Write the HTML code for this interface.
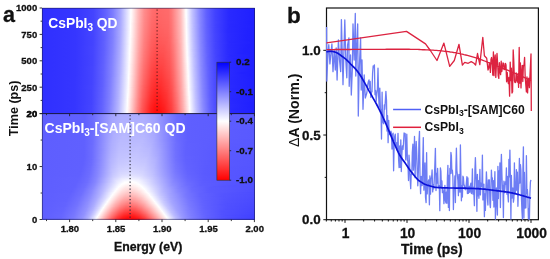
<!DOCTYPE html>
<html><head><meta charset="utf-8"><style>
html,body{margin:0;padding:0;background:#fff;width:550px;height:259px;overflow:hidden}
svg{display:block;filter:blur(0.35px)}
text{font-family:"Liberation Sans",sans-serif}
</style></head><body>
<svg width="550" height="259" viewBox="0 0 550 259">
<defs><linearGradient id="g1" x1="0" x2="1" y1="0" y2="0"><stop offset="0.0%" stop-color="#2f2fff"/><stop offset="15.8%" stop-color="#3535ff"/><stop offset="24.2%" stop-color="#4444ff"/><stop offset="29.6%" stop-color="#6060ff"/><stop offset="33.4%" stop-color="#7e7eff"/><stop offset="36.9%" stop-color="#a8a8ff"/><stop offset="41.9%" stop-color="#fffefe"/><stop offset="45.2%" stop-color="#ffbaba"/><stop offset="48.0%" stop-color="#ff8d8d"/><stop offset="51.8%" stop-color="#ff6d6d"/><stop offset="54.1%" stop-color="#ff6666"/><stop offset="59.5%" stop-color="#ff6b6b"/><stop offset="60.9%" stop-color="#ff7a7a"/><stop offset="65.2%" stop-color="#ffbcbc"/><stop offset="66.6%" stop-color="#ffe1e1"/><stop offset="67.5%" stop-color="#fffcfc"/><stop offset="67.8%" stop-color="#fdfdff"/><stop offset="70.6%" stop-color="#c2c2ff"/><stop offset="73.9%" stop-color="#8b8bff"/><stop offset="77.2%" stop-color="#6161ff"/><stop offset="81.4%" stop-color="#4242ff"/><stop offset="87.8%" stop-color="#2929ff"/><stop offset="99.1%" stop-color="#2020ff"/><stop offset="100.0%" stop-color="#2020ff"/></linearGradient><linearGradient id="g2" x1="0" x2="1" y1="0" y2="0"><stop offset="0.0%" stop-color="#2f2fff"/><stop offset="15.8%" stop-color="#3535ff"/><stop offset="24.2%" stop-color="#4444ff"/><stop offset="29.6%" stop-color="#6060ff"/><stop offset="33.4%" stop-color="#7e7eff"/><stop offset="36.9%" stop-color="#a8a8ff"/><stop offset="41.6%" stop-color="#fcfcff"/><stop offset="41.9%" stop-color="#fffefe"/><stop offset="45.2%" stop-color="#ffbaba"/><stop offset="48.0%" stop-color="#ff8d8d"/><stop offset="51.8%" stop-color="#ff6d6d"/><stop offset="54.1%" stop-color="#ff6666"/><stop offset="59.5%" stop-color="#ff6b6b"/><stop offset="60.9%" stop-color="#ff7979"/><stop offset="65.2%" stop-color="#ffbcbc"/><stop offset="66.6%" stop-color="#ffe1e1"/><stop offset="67.5%" stop-color="#fffbfb"/><stop offset="67.8%" stop-color="#fdfdff"/><stop offset="70.6%" stop-color="#c2c2ff"/><stop offset="73.9%" stop-color="#8b8bff"/><stop offset="77.2%" stop-color="#6161ff"/><stop offset="81.4%" stop-color="#4242ff"/><stop offset="87.8%" stop-color="#2929ff"/><stop offset="99.1%" stop-color="#2020ff"/><stop offset="100.0%" stop-color="#2020ff"/></linearGradient><linearGradient id="g3" x1="0" x2="1" y1="0" y2="0"><stop offset="0.0%" stop-color="#2f2fff"/><stop offset="15.8%" stop-color="#3636ff"/><stop offset="24.2%" stop-color="#4444ff"/><stop offset="29.6%" stop-color="#6060ff"/><stop offset="33.4%" stop-color="#7e7eff"/><stop offset="36.9%" stop-color="#a8a8ff"/><stop offset="41.6%" stop-color="#fcfcff"/><stop offset="41.9%" stop-color="#fffefe"/><stop offset="45.2%" stop-color="#ffbaba"/><stop offset="48.0%" stop-color="#ff8d8d"/><stop offset="51.8%" stop-color="#ff6d6d"/><stop offset="54.1%" stop-color="#ff6666"/><stop offset="59.5%" stop-color="#ff6b6b"/><stop offset="60.9%" stop-color="#ff7979"/><stop offset="65.2%" stop-color="#ffbcbc"/><stop offset="66.6%" stop-color="#ffe1e1"/><stop offset="67.5%" stop-color="#fffbfb"/><stop offset="67.8%" stop-color="#fdfdff"/><stop offset="70.6%" stop-color="#c2c2ff"/><stop offset="73.9%" stop-color="#8b8bff"/><stop offset="77.2%" stop-color="#6161ff"/><stop offset="81.4%" stop-color="#4242ff"/><stop offset="87.8%" stop-color="#2929ff"/><stop offset="99.1%" stop-color="#2020ff"/><stop offset="100.0%" stop-color="#2020ff"/></linearGradient><linearGradient id="g4" x1="0" x2="1" y1="0" y2="0"><stop offset="0.0%" stop-color="#2f2fff"/><stop offset="15.8%" stop-color="#3636ff"/><stop offset="24.2%" stop-color="#4444ff"/><stop offset="29.6%" stop-color="#6060ff"/><stop offset="33.4%" stop-color="#7e7eff"/><stop offset="36.9%" stop-color="#a8a8ff"/><stop offset="41.6%" stop-color="#fcfcff"/><stop offset="41.9%" stop-color="#fffefe"/><stop offset="45.2%" stop-color="#ffbaba"/><stop offset="48.0%" stop-color="#ff8d8d"/><stop offset="51.8%" stop-color="#ff6d6d"/><stop offset="54.1%" stop-color="#ff6565"/><stop offset="59.5%" stop-color="#ff6b6b"/><stop offset="60.9%" stop-color="#ff7979"/><stop offset="65.2%" stop-color="#ffbcbc"/><stop offset="66.6%" stop-color="#ffe1e1"/><stop offset="67.5%" stop-color="#fffbfb"/><stop offset="67.8%" stop-color="#fdfdff"/><stop offset="70.6%" stop-color="#c2c2ff"/><stop offset="73.9%" stop-color="#8b8bff"/><stop offset="77.2%" stop-color="#6161ff"/><stop offset="81.4%" stop-color="#4242ff"/><stop offset="87.8%" stop-color="#2929ff"/><stop offset="99.1%" stop-color="#2020ff"/><stop offset="100.0%" stop-color="#2020ff"/></linearGradient><linearGradient id="g5" x1="0" x2="1" y1="0" y2="0"><stop offset="0.0%" stop-color="#2f2fff"/><stop offset="15.8%" stop-color="#3636ff"/><stop offset="24.2%" stop-color="#4444ff"/><stop offset="29.6%" stop-color="#6060ff"/><stop offset="33.4%" stop-color="#7e7eff"/><stop offset="36.9%" stop-color="#a8a8ff"/><stop offset="41.6%" stop-color="#fcfcff"/><stop offset="41.9%" stop-color="#fffdfd"/><stop offset="45.2%" stop-color="#ffb9b9"/><stop offset="48.0%" stop-color="#ff8c8c"/><stop offset="51.8%" stop-color="#ff6d6d"/><stop offset="54.1%" stop-color="#ff6565"/><stop offset="59.5%" stop-color="#ff6b6b"/><stop offset="60.9%" stop-color="#ff7979"/><stop offset="65.2%" stop-color="#ffbcbc"/><stop offset="66.6%" stop-color="#ffe0e0"/><stop offset="67.5%" stop-color="#fffbfb"/><stop offset="67.8%" stop-color="#fdfdff"/><stop offset="70.6%" stop-color="#c2c2ff"/><stop offset="73.9%" stop-color="#8b8bff"/><stop offset="77.2%" stop-color="#6161ff"/><stop offset="81.4%" stop-color="#4242ff"/><stop offset="87.8%" stop-color="#2929ff"/><stop offset="99.1%" stop-color="#2020ff"/><stop offset="100.0%" stop-color="#2020ff"/></linearGradient><linearGradient id="g6" x1="0" x2="1" y1="0" y2="0"><stop offset="0.0%" stop-color="#2f2fff"/><stop offset="15.8%" stop-color="#3636ff"/><stop offset="24.2%" stop-color="#4444ff"/><stop offset="29.6%" stop-color="#6060ff"/><stop offset="33.4%" stop-color="#7e7eff"/><stop offset="36.9%" stop-color="#a8a8ff"/><stop offset="41.6%" stop-color="#fcfcff"/><stop offset="41.9%" stop-color="#fffdfd"/><stop offset="45.2%" stop-color="#ffb9b9"/><stop offset="48.0%" stop-color="#ff8c8c"/><stop offset="51.8%" stop-color="#ff6c6c"/><stop offset="54.1%" stop-color="#ff6565"/><stop offset="59.5%" stop-color="#ff6b6b"/><stop offset="60.9%" stop-color="#ff7979"/><stop offset="65.2%" stop-color="#ffbcbc"/><stop offset="66.6%" stop-color="#ffe0e0"/><stop offset="67.5%" stop-color="#fffbfb"/><stop offset="67.8%" stop-color="#fdfdff"/><stop offset="70.6%" stop-color="#c2c2ff"/><stop offset="73.9%" stop-color="#8b8bff"/><stop offset="77.2%" stop-color="#6161ff"/><stop offset="81.4%" stop-color="#4242ff"/><stop offset="87.8%" stop-color="#2929ff"/><stop offset="99.1%" stop-color="#2020ff"/><stop offset="100.0%" stop-color="#2020ff"/></linearGradient><linearGradient id="g7" x1="0" x2="1" y1="0" y2="0"><stop offset="0.0%" stop-color="#2f2fff"/><stop offset="15.8%" stop-color="#3636ff"/><stop offset="24.2%" stop-color="#4444ff"/><stop offset="29.6%" stop-color="#6060ff"/><stop offset="33.4%" stop-color="#7e7eff"/><stop offset="36.9%" stop-color="#a9a9ff"/><stop offset="41.6%" stop-color="#fcfcff"/><stop offset="41.9%" stop-color="#fffdfd"/><stop offset="45.2%" stop-color="#ffb9b9"/><stop offset="48.0%" stop-color="#ff8c8c"/><stop offset="51.8%" stop-color="#ff6c6c"/><stop offset="54.1%" stop-color="#ff6565"/><stop offset="59.5%" stop-color="#ff6a6a"/><stop offset="60.9%" stop-color="#ff7979"/><stop offset="65.2%" stop-color="#ffbcbc"/><stop offset="66.6%" stop-color="#ffe0e0"/><stop offset="67.5%" stop-color="#fffbfb"/><stop offset="67.8%" stop-color="#fefeff"/><stop offset="70.6%" stop-color="#c2c2ff"/><stop offset="73.9%" stop-color="#8b8bff"/><stop offset="77.2%" stop-color="#6161ff"/><stop offset="81.4%" stop-color="#4242ff"/><stop offset="87.8%" stop-color="#2929ff"/><stop offset="99.1%" stop-color="#2020ff"/><stop offset="100.0%" stop-color="#2020ff"/></linearGradient><linearGradient id="g8" x1="0" x2="1" y1="0" y2="0"><stop offset="0.0%" stop-color="#2f2fff"/><stop offset="15.8%" stop-color="#3636ff"/><stop offset="24.2%" stop-color="#4444ff"/><stop offset="29.6%" stop-color="#6060ff"/><stop offset="33.4%" stop-color="#7e7eff"/><stop offset="36.9%" stop-color="#a9a9ff"/><stop offset="41.6%" stop-color="#fdfdff"/><stop offset="41.9%" stop-color="#fffdfd"/><stop offset="45.2%" stop-color="#ffb9b9"/><stop offset="48.0%" stop-color="#ff8c8c"/><stop offset="51.8%" stop-color="#ff6c6c"/><stop offset="54.1%" stop-color="#ff6464"/><stop offset="59.5%" stop-color="#ff6a6a"/><stop offset="60.9%" stop-color="#ff7878"/><stop offset="65.2%" stop-color="#ffbcbc"/><stop offset="66.6%" stop-color="#ffe0e0"/><stop offset="67.5%" stop-color="#fffbfb"/><stop offset="67.8%" stop-color="#fefeff"/><stop offset="70.6%" stop-color="#c2c2ff"/><stop offset="73.9%" stop-color="#8b8bff"/><stop offset="77.2%" stop-color="#6161ff"/><stop offset="81.4%" stop-color="#4242ff"/><stop offset="87.8%" stop-color="#2929ff"/><stop offset="99.1%" stop-color="#2020ff"/><stop offset="100.0%" stop-color="#2020ff"/></linearGradient><linearGradient id="g9" x1="0" x2="1" y1="0" y2="0"><stop offset="0.0%" stop-color="#2f2fff"/><stop offset="15.8%" stop-color="#3636ff"/><stop offset="24.2%" stop-color="#4444ff"/><stop offset="29.6%" stop-color="#6161ff"/><stop offset="33.4%" stop-color="#7e7eff"/><stop offset="36.9%" stop-color="#a9a9ff"/><stop offset="41.6%" stop-color="#fdfdff"/><stop offset="41.9%" stop-color="#fffdfd"/><stop offset="45.2%" stop-color="#ffb8b8"/><stop offset="48.0%" stop-color="#ff8b8b"/><stop offset="51.8%" stop-color="#ff6b6b"/><stop offset="54.1%" stop-color="#ff6464"/><stop offset="59.5%" stop-color="#ff6a6a"/><stop offset="60.9%" stop-color="#ff7878"/><stop offset="65.2%" stop-color="#ffbbbb"/><stop offset="66.6%" stop-color="#ffe0e0"/><stop offset="67.5%" stop-color="#fffafa"/><stop offset="67.8%" stop-color="#fefeff"/><stop offset="70.6%" stop-color="#c2c2ff"/><stop offset="73.9%" stop-color="#8b8bff"/><stop offset="77.2%" stop-color="#6161ff"/><stop offset="81.4%" stop-color="#4242ff"/><stop offset="87.8%" stop-color="#2929ff"/><stop offset="99.1%" stop-color="#2020ff"/><stop offset="100.0%" stop-color="#2020ff"/></linearGradient><linearGradient id="g10" x1="0" x2="1" y1="0" y2="0"><stop offset="0.0%" stop-color="#2f2fff"/><stop offset="15.8%" stop-color="#3636ff"/><stop offset="24.2%" stop-color="#4444ff"/><stop offset="29.6%" stop-color="#6161ff"/><stop offset="33.4%" stop-color="#7e7eff"/><stop offset="36.9%" stop-color="#a9a9ff"/><stop offset="41.6%" stop-color="#fdfdff"/><stop offset="41.9%" stop-color="#fffdfd"/><stop offset="45.2%" stop-color="#ffb8b8"/><stop offset="48.0%" stop-color="#ff8b8b"/><stop offset="51.8%" stop-color="#ff6b6b"/><stop offset="54.1%" stop-color="#ff6363"/><stop offset="59.5%" stop-color="#ff6a6a"/><stop offset="60.9%" stop-color="#ff7878"/><stop offset="65.2%" stop-color="#ffbbbb"/><stop offset="66.6%" stop-color="#ffe0e0"/><stop offset="67.5%" stop-color="#fffafa"/><stop offset="67.8%" stop-color="#fefeff"/><stop offset="70.6%" stop-color="#c3c3ff"/><stop offset="73.9%" stop-color="#8c8cff"/><stop offset="77.2%" stop-color="#6161ff"/><stop offset="81.4%" stop-color="#4242ff"/><stop offset="87.8%" stop-color="#2929ff"/><stop offset="99.1%" stop-color="#2020ff"/><stop offset="100.0%" stop-color="#2020ff"/></linearGradient><linearGradient id="g11" x1="0" x2="1" y1="0" y2="0"><stop offset="0.0%" stop-color="#2f2fff"/><stop offset="15.8%" stop-color="#3636ff"/><stop offset="24.2%" stop-color="#4444ff"/><stop offset="29.6%" stop-color="#6161ff"/><stop offset="33.4%" stop-color="#7f7fff"/><stop offset="36.9%" stop-color="#a9a9ff"/><stop offset="41.6%" stop-color="#fdfdff"/><stop offset="42.1%" stop-color="#fff8f8"/><stop offset="45.2%" stop-color="#ffb8b8"/><stop offset="48.0%" stop-color="#ff8b8b"/><stop offset="51.5%" stop-color="#ff6c6c"/><stop offset="53.9%" stop-color="#ff6363"/><stop offset="59.5%" stop-color="#ff6969"/><stop offset="60.9%" stop-color="#ff7878"/><stop offset="65.2%" stop-color="#ffbbbb"/><stop offset="66.6%" stop-color="#ffdfdf"/><stop offset="67.8%" stop-color="#fefeff"/><stop offset="70.6%" stop-color="#c3c3ff"/><stop offset="73.9%" stop-color="#8c8cff"/><stop offset="77.2%" stop-color="#6262ff"/><stop offset="81.4%" stop-color="#4242ff"/><stop offset="87.8%" stop-color="#2929ff"/><stop offset="99.1%" stop-color="#2020ff"/><stop offset="100.0%" stop-color="#2020ff"/></linearGradient><linearGradient id="g12" x1="0" x2="1" y1="0" y2="0"><stop offset="0.0%" stop-color="#2f2fff"/><stop offset="15.8%" stop-color="#3636ff"/><stop offset="24.2%" stop-color="#4444ff"/><stop offset="29.6%" stop-color="#6161ff"/><stop offset="33.4%" stop-color="#7f7fff"/><stop offset="36.9%" stop-color="#a9a9ff"/><stop offset="41.6%" stop-color="#fdfdff"/><stop offset="42.1%" stop-color="#fff7f7"/><stop offset="45.2%" stop-color="#ffb8b8"/><stop offset="48.0%" stop-color="#ff8a8a"/><stop offset="51.5%" stop-color="#ff6c6c"/><stop offset="53.9%" stop-color="#ff6363"/><stop offset="59.5%" stop-color="#ff6969"/><stop offset="60.9%" stop-color="#ff7777"/><stop offset="65.2%" stop-color="#ffbbbb"/><stop offset="66.6%" stop-color="#ffdfdf"/><stop offset="67.8%" stop-color="#ffffff"/><stop offset="70.6%" stop-color="#c3c3ff"/><stop offset="73.9%" stop-color="#8c8cff"/><stop offset="77.2%" stop-color="#6262ff"/><stop offset="81.4%" stop-color="#4242ff"/><stop offset="87.8%" stop-color="#2929ff"/><stop offset="99.1%" stop-color="#2020ff"/><stop offset="100.0%" stop-color="#2020ff"/></linearGradient><linearGradient id="g13" x1="0" x2="1" y1="0" y2="0"><stop offset="0.0%" stop-color="#2f2fff"/><stop offset="15.8%" stop-color="#3636ff"/><stop offset="24.2%" stop-color="#4444ff"/><stop offset="29.6%" stop-color="#6161ff"/><stop offset="33.4%" stop-color="#7f7fff"/><stop offset="36.9%" stop-color="#a9a9ff"/><stop offset="41.6%" stop-color="#fefeff"/><stop offset="42.1%" stop-color="#fff7f7"/><stop offset="45.2%" stop-color="#ffb7b7"/><stop offset="48.0%" stop-color="#ff8a8a"/><stop offset="51.5%" stop-color="#ff6b6b"/><stop offset="53.9%" stop-color="#ff6262"/><stop offset="59.5%" stop-color="#ff6969"/><stop offset="60.9%" stop-color="#ff7777"/><stop offset="65.2%" stop-color="#ffbbbb"/><stop offset="66.6%" stop-color="#ffdfdf"/><stop offset="67.8%" stop-color="#ffffff"/><stop offset="70.6%" stop-color="#c3c3ff"/><stop offset="73.9%" stop-color="#8c8cff"/><stop offset="77.2%" stop-color="#6262ff"/><stop offset="81.4%" stop-color="#4242ff"/><stop offset="87.8%" stop-color="#2929ff"/><stop offset="99.1%" stop-color="#2020ff"/><stop offset="100.0%" stop-color="#2020ff"/></linearGradient><linearGradient id="g14" x1="0" x2="1" y1="0" y2="0"><stop offset="0.0%" stop-color="#2f2fff"/><stop offset="15.8%" stop-color="#3636ff"/><stop offset="24.2%" stop-color="#4545ff"/><stop offset="29.6%" stop-color="#6161ff"/><stop offset="33.4%" stop-color="#7f7fff"/><stop offset="36.9%" stop-color="#aaaaff"/><stop offset="41.6%" stop-color="#fefeff"/><stop offset="42.4%" stop-color="#fff2f2"/><stop offset="45.2%" stop-color="#ffb7b7"/><stop offset="48.0%" stop-color="#ff8a8a"/><stop offset="51.5%" stop-color="#ff6b6b"/><stop offset="53.9%" stop-color="#ff6262"/><stop offset="59.5%" stop-color="#ff6868"/><stop offset="60.9%" stop-color="#ff7777"/><stop offset="65.2%" stop-color="#ffbaba"/><stop offset="66.6%" stop-color="#ffdfdf"/><stop offset="67.8%" stop-color="#ffffff"/><stop offset="70.6%" stop-color="#c3c3ff"/><stop offset="73.9%" stop-color="#8c8cff"/><stop offset="77.2%" stop-color="#6262ff"/><stop offset="81.2%" stop-color="#4444ff"/><stop offset="87.5%" stop-color="#2a2aff"/><stop offset="98.1%" stop-color="#2020ff"/><stop offset="100.0%" stop-color="#2020ff"/></linearGradient><linearGradient id="g15" x1="0" x2="1" y1="0" y2="0"><stop offset="0.0%" stop-color="#2f2fff"/><stop offset="15.8%" stop-color="#3636ff"/><stop offset="24.2%" stop-color="#4545ff"/><stop offset="29.6%" stop-color="#6161ff"/><stop offset="33.4%" stop-color="#7f7fff"/><stop offset="36.9%" stop-color="#aaaaff"/><stop offset="41.6%" stop-color="#fefeff"/><stop offset="42.8%" stop-color="#ffe8e8"/><stop offset="45.4%" stop-color="#ffb3b3"/><stop offset="48.0%" stop-color="#ff8989"/><stop offset="51.5%" stop-color="#ff6a6a"/><stop offset="53.9%" stop-color="#ff6161"/><stop offset="59.5%" stop-color="#ff6868"/><stop offset="60.9%" stop-color="#ff7676"/><stop offset="65.2%" stop-color="#ffbaba"/><stop offset="66.6%" stop-color="#ffdede"/><stop offset="67.8%" stop-color="#ffffff"/><stop offset="70.8%" stop-color="#bfbfff"/><stop offset="74.1%" stop-color="#8989ff"/><stop offset="77.2%" stop-color="#6262ff"/><stop offset="81.2%" stop-color="#4444ff"/><stop offset="87.5%" stop-color="#2a2aff"/><stop offset="98.1%" stop-color="#2020ff"/><stop offset="100.0%" stop-color="#2020ff"/></linearGradient><linearGradient id="g16" x1="0" x2="1" y1="0" y2="0"><stop offset="0.0%" stop-color="#2f2fff"/><stop offset="15.8%" stop-color="#3636ff"/><stop offset="24.2%" stop-color="#4545ff"/><stop offset="29.6%" stop-color="#6161ff"/><stop offset="33.4%" stop-color="#7f7fff"/><stop offset="36.9%" stop-color="#aaaaff"/><stop offset="41.6%" stop-color="#fefeff"/><stop offset="45.4%" stop-color="#ffb2b2"/><stop offset="48.0%" stop-color="#ff8989"/><stop offset="51.5%" stop-color="#ff6a6a"/><stop offset="53.9%" stop-color="#ff6161"/><stop offset="59.5%" stop-color="#ff6868"/><stop offset="60.9%" stop-color="#ff7676"/><stop offset="65.2%" stop-color="#ffbaba"/><stop offset="66.6%" stop-color="#ffdede"/><stop offset="67.8%" stop-color="#fffefe"/><stop offset="70.8%" stop-color="#bfbfff"/><stop offset="74.1%" stop-color="#8989ff"/><stop offset="77.2%" stop-color="#6262ff"/><stop offset="81.2%" stop-color="#4444ff"/><stop offset="87.5%" stop-color="#2a2aff"/><stop offset="98.1%" stop-color="#2020ff"/><stop offset="100.0%" stop-color="#2020ff"/></linearGradient><linearGradient id="g17" x1="0" x2="1" y1="0" y2="0"><stop offset="0.0%" stop-color="#2f2fff"/><stop offset="15.8%" stop-color="#3636ff"/><stop offset="24.2%" stop-color="#4545ff"/><stop offset="29.6%" stop-color="#6161ff"/><stop offset="33.4%" stop-color="#7f7fff"/><stop offset="36.9%" stop-color="#aaaaff"/><stop offset="41.6%" stop-color="#fefeff"/><stop offset="45.4%" stop-color="#ffb2b2"/><stop offset="48.0%" stop-color="#ff8989"/><stop offset="51.5%" stop-color="#ff6969"/><stop offset="53.9%" stop-color="#ff6060"/><stop offset="59.5%" stop-color="#ff6767"/><stop offset="60.9%" stop-color="#ff7676"/><stop offset="65.2%" stop-color="#ffbaba"/><stop offset="66.6%" stop-color="#ffdede"/><stop offset="67.8%" stop-color="#fffefe"/><stop offset="71.1%" stop-color="#bbbbff"/><stop offset="74.4%" stop-color="#8686ff"/><stop offset="77.4%" stop-color="#6060ff"/><stop offset="81.6%" stop-color="#4141ff"/><stop offset="87.8%" stop-color="#2929ff"/><stop offset="98.8%" stop-color="#2020ff"/><stop offset="100.0%" stop-color="#2020ff"/></linearGradient><linearGradient id="g18" x1="0" x2="1" y1="0" y2="0"><stop offset="0.0%" stop-color="#2f2fff"/><stop offset="15.8%" stop-color="#3636ff"/><stop offset="24.2%" stop-color="#4545ff"/><stop offset="29.6%" stop-color="#6161ff"/><stop offset="33.4%" stop-color="#8080ff"/><stop offset="36.9%" stop-color="#aaaaff"/><stop offset="41.6%" stop-color="#ffffff"/><stop offset="45.4%" stop-color="#ffb1b1"/><stop offset="48.0%" stop-color="#ff8888"/><stop offset="51.5%" stop-color="#ff6969"/><stop offset="53.9%" stop-color="#ff6060"/><stop offset="59.5%" stop-color="#ff6767"/><stop offset="60.9%" stop-color="#ff7575"/><stop offset="65.2%" stop-color="#ffb9b9"/><stop offset="66.6%" stop-color="#ffdede"/><stop offset="67.8%" stop-color="#fffefe"/><stop offset="71.1%" stop-color="#bbbbff"/><stop offset="74.4%" stop-color="#8686ff"/><stop offset="77.4%" stop-color="#6060ff"/><stop offset="81.6%" stop-color="#4141ff"/><stop offset="87.8%" stop-color="#2929ff"/><stop offset="98.8%" stop-color="#2020ff"/><stop offset="100.0%" stop-color="#2020ff"/></linearGradient><linearGradient id="g19" x1="0" x2="1" y1="0" y2="0"><stop offset="0.0%" stop-color="#2f2fff"/><stop offset="15.8%" stop-color="#3636ff"/><stop offset="24.2%" stop-color="#4545ff"/><stop offset="29.6%" stop-color="#6161ff"/><stop offset="33.4%" stop-color="#8080ff"/><stop offset="36.9%" stop-color="#ababff"/><stop offset="41.6%" stop-color="#ffffff"/><stop offset="45.4%" stop-color="#ffb1b1"/><stop offset="48.0%" stop-color="#ff8888"/><stop offset="51.5%" stop-color="#ff6868"/><stop offset="53.9%" stop-color="#ff5f5f"/><stop offset="59.5%" stop-color="#ff6767"/><stop offset="60.9%" stop-color="#ff7575"/><stop offset="65.2%" stop-color="#ffb9b9"/><stop offset="66.6%" stop-color="#ffdddd"/><stop offset="67.8%" stop-color="#fffefe"/><stop offset="68.5%" stop-color="#f0f0ff"/><stop offset="71.5%" stop-color="#b3b3ff"/><stop offset="75.1%" stop-color="#7c7cff"/><stop offset="77.9%" stop-color="#5c5cff"/><stop offset="82.1%" stop-color="#3f3fff"/><stop offset="88.2%" stop-color="#2828ff"/><stop offset="100.0%" stop-color="#2020ff"/></linearGradient><linearGradient id="g20" x1="0" x2="1" y1="0" y2="0"><stop offset="0.0%" stop-color="#2f2fff"/><stop offset="15.8%" stop-color="#3636ff"/><stop offset="24.2%" stop-color="#4545ff"/><stop offset="29.6%" stop-color="#6161ff"/><stop offset="33.4%" stop-color="#8080ff"/><stop offset="36.9%" stop-color="#ababff"/><stop offset="41.6%" stop-color="#ffffff"/><stop offset="45.4%" stop-color="#ffb1b1"/><stop offset="48.0%" stop-color="#ff8787"/><stop offset="51.5%" stop-color="#ff6868"/><stop offset="53.9%" stop-color="#ff5f5f"/><stop offset="59.5%" stop-color="#ff6666"/><stop offset="60.9%" stop-color="#ff7575"/><stop offset="65.2%" stop-color="#ffb9b9"/><stop offset="66.6%" stop-color="#ffdddd"/><stop offset="67.8%" stop-color="#fffdfd"/><stop offset="68.2%" stop-color="#f6f6ff"/><stop offset="71.3%" stop-color="#b8b8ff"/><stop offset="74.6%" stop-color="#8383ff"/><stop offset="77.4%" stop-color="#6060ff"/><stop offset="81.6%" stop-color="#4141ff"/><stop offset="87.8%" stop-color="#2929ff"/><stop offset="98.8%" stop-color="#2020ff"/><stop offset="100.0%" stop-color="#2020ff"/></linearGradient><linearGradient id="g21" x1="0" x2="1" y1="0" y2="0"><stop offset="0.0%" stop-color="#2f2fff"/><stop offset="15.8%" stop-color="#3636ff"/><stop offset="24.2%" stop-color="#4545ff"/><stop offset="29.6%" stop-color="#6161ff"/><stop offset="33.4%" stop-color="#8080ff"/><stop offset="36.9%" stop-color="#ababff"/><stop offset="41.6%" stop-color="#fffefe"/><stop offset="45.4%" stop-color="#ffb0b0"/><stop offset="48.0%" stop-color="#ff8787"/><stop offset="51.5%" stop-color="#ff6767"/><stop offset="53.9%" stop-color="#ff5e5e"/><stop offset="59.3%" stop-color="#ff6565"/><stop offset="60.7%" stop-color="#ff7171"/><stop offset="65.2%" stop-color="#ffb9b9"/><stop offset="66.6%" stop-color="#ffdddd"/><stop offset="67.8%" stop-color="#fffdfd"/><stop offset="68.0%" stop-color="#fcfcff"/><stop offset="70.8%" stop-color="#c0c0ff"/><stop offset="74.1%" stop-color="#8a8aff"/><stop offset="77.2%" stop-color="#6363ff"/><stop offset="81.2%" stop-color="#4444ff"/><stop offset="87.3%" stop-color="#2a2aff"/><stop offset="96.7%" stop-color="#2121ff"/><stop offset="100.0%" stop-color="#2020ff"/></linearGradient><linearGradient id="g22" x1="0" x2="1" y1="0" y2="0"><stop offset="0.0%" stop-color="#2f2fff"/><stop offset="15.8%" stop-color="#3636ff"/><stop offset="24.2%" stop-color="#4545ff"/><stop offset="29.6%" stop-color="#6161ff"/><stop offset="33.4%" stop-color="#8080ff"/><stop offset="36.9%" stop-color="#ababff"/><stop offset="41.6%" stop-color="#fffefe"/><stop offset="45.4%" stop-color="#ffb0b0"/><stop offset="48.0%" stop-color="#ff8686"/><stop offset="51.5%" stop-color="#ff6767"/><stop offset="53.9%" stop-color="#ff5d5d"/><stop offset="59.3%" stop-color="#ff6565"/><stop offset="60.7%" stop-color="#ff7171"/><stop offset="65.2%" stop-color="#ffb8b8"/><stop offset="66.6%" stop-color="#ffdcdc"/><stop offset="67.8%" stop-color="#fffdfd"/><stop offset="68.0%" stop-color="#fcfcff"/><stop offset="70.8%" stop-color="#c1c1ff"/><stop offset="74.1%" stop-color="#8a8aff"/><stop offset="77.2%" stop-color="#6363ff"/><stop offset="81.2%" stop-color="#4444ff"/><stop offset="87.3%" stop-color="#2a2aff"/><stop offset="96.7%" stop-color="#2121ff"/><stop offset="100.0%" stop-color="#2020ff"/></linearGradient><linearGradient id="g23" x1="0" x2="1" y1="0" y2="0"><stop offset="0.0%" stop-color="#2f2fff"/><stop offset="15.8%" stop-color="#3636ff"/><stop offset="24.2%" stop-color="#4545ff"/><stop offset="29.6%" stop-color="#6262ff"/><stop offset="33.4%" stop-color="#8080ff"/><stop offset="36.9%" stop-color="#ababff"/><stop offset="41.6%" stop-color="#fffefe"/><stop offset="45.4%" stop-color="#ffafaf"/><stop offset="48.0%" stop-color="#ff8686"/><stop offset="51.5%" stop-color="#ff6666"/><stop offset="53.9%" stop-color="#ff5d5d"/><stop offset="59.3%" stop-color="#ff6464"/><stop offset="60.7%" stop-color="#ff7070"/><stop offset="65.2%" stop-color="#ffb8b8"/><stop offset="66.6%" stop-color="#ffdcdc"/><stop offset="67.8%" stop-color="#fffcfc"/><stop offset="68.0%" stop-color="#fcfcff"/><stop offset="70.8%" stop-color="#c1c1ff"/><stop offset="74.1%" stop-color="#8a8aff"/><stop offset="77.2%" stop-color="#6363ff"/><stop offset="81.2%" stop-color="#4444ff"/><stop offset="87.3%" stop-color="#2a2aff"/><stop offset="96.7%" stop-color="#2121ff"/><stop offset="100.0%" stop-color="#2020ff"/></linearGradient><linearGradient id="g24" x1="0" x2="1" y1="0" y2="0"><stop offset="0.0%" stop-color="#2f2fff"/><stop offset="15.8%" stop-color="#3636ff"/><stop offset="24.2%" stop-color="#4545ff"/><stop offset="29.6%" stop-color="#6262ff"/><stop offset="33.4%" stop-color="#8181ff"/><stop offset="36.9%" stop-color="#acacff"/><stop offset="41.4%" stop-color="#fcfcff"/><stop offset="41.6%" stop-color="#fffefe"/><stop offset="45.4%" stop-color="#ffafaf"/><stop offset="48.0%" stop-color="#ff8585"/><stop offset="51.5%" stop-color="#ff6666"/><stop offset="53.9%" stop-color="#ff5c5c"/><stop offset="59.3%" stop-color="#ff6464"/><stop offset="60.7%" stop-color="#ff7070"/><stop offset="65.2%" stop-color="#ffb8b8"/><stop offset="66.6%" stop-color="#ffdcdc"/><stop offset="67.8%" stop-color="#fffcfc"/><stop offset="68.0%" stop-color="#fcfcff"/><stop offset="70.8%" stop-color="#c1c1ff"/><stop offset="74.1%" stop-color="#8a8aff"/><stop offset="77.2%" stop-color="#6363ff"/><stop offset="81.2%" stop-color="#4444ff"/><stop offset="87.3%" stop-color="#2a2aff"/><stop offset="96.5%" stop-color="#2121ff"/><stop offset="100.0%" stop-color="#2020ff"/></linearGradient><linearGradient id="g25" x1="0" x2="1" y1="0" y2="0"><stop offset="0.0%" stop-color="#2f2fff"/><stop offset="15.8%" stop-color="#3636ff"/><stop offset="24.2%" stop-color="#4545ff"/><stop offset="29.6%" stop-color="#6262ff"/><stop offset="33.4%" stop-color="#8181ff"/><stop offset="36.9%" stop-color="#acacff"/><stop offset="41.4%" stop-color="#fcfcff"/><stop offset="41.6%" stop-color="#fffdfd"/><stop offset="45.4%" stop-color="#ffafaf"/><stop offset="48.0%" stop-color="#ff8585"/><stop offset="51.5%" stop-color="#ff6565"/><stop offset="53.9%" stop-color="#ff5c5c"/><stop offset="59.3%" stop-color="#ff6363"/><stop offset="60.7%" stop-color="#ff7070"/><stop offset="65.2%" stop-color="#ffb7b7"/><stop offset="66.6%" stop-color="#ffdbdb"/><stop offset="67.8%" stop-color="#fffcfc"/><stop offset="68.0%" stop-color="#fdfdff"/><stop offset="70.8%" stop-color="#c1c1ff"/><stop offset="74.1%" stop-color="#8b8bff"/><stop offset="77.2%" stop-color="#6363ff"/><stop offset="81.2%" stop-color="#4444ff"/><stop offset="87.3%" stop-color="#2a2aff"/><stop offset="96.5%" stop-color="#2121ff"/><stop offset="100.0%" stop-color="#2020ff"/></linearGradient><linearGradient id="g26" x1="0" x2="1" y1="0" y2="0"><stop offset="0.0%" stop-color="#2f2fff"/><stop offset="15.8%" stop-color="#3636ff"/><stop offset="24.2%" stop-color="#4545ff"/><stop offset="29.6%" stop-color="#6262ff"/><stop offset="33.4%" stop-color="#8181ff"/><stop offset="36.9%" stop-color="#acacff"/><stop offset="41.4%" stop-color="#fcfcff"/><stop offset="41.6%" stop-color="#fffdfd"/><stop offset="45.4%" stop-color="#ffaeae"/><stop offset="48.0%" stop-color="#ff8484"/><stop offset="51.5%" stop-color="#ff6464"/><stop offset="53.9%" stop-color="#ff5b5b"/><stop offset="59.3%" stop-color="#ff6363"/><stop offset="60.7%" stop-color="#ff6f6f"/><stop offset="65.2%" stop-color="#ffb7b7"/><stop offset="66.6%" stop-color="#ffdbdb"/><stop offset="67.8%" stop-color="#fffbfb"/><stop offset="68.0%" stop-color="#fdfdff"/><stop offset="70.8%" stop-color="#c2c2ff"/><stop offset="74.1%" stop-color="#8b8bff"/><stop offset="77.2%" stop-color="#6363ff"/><stop offset="81.2%" stop-color="#4545ff"/><stop offset="87.3%" stop-color="#2b2bff"/><stop offset="96.5%" stop-color="#2121ff"/><stop offset="100.0%" stop-color="#2020ff"/></linearGradient><linearGradient id="g27" x1="0" x2="1" y1="0" y2="0"><stop offset="0.0%" stop-color="#2f2fff"/><stop offset="15.8%" stop-color="#3636ff"/><stop offset="24.2%" stop-color="#4545ff"/><stop offset="29.6%" stop-color="#6262ff"/><stop offset="33.4%" stop-color="#8181ff"/><stop offset="36.9%" stop-color="#acacff"/><stop offset="41.4%" stop-color="#fdfdff"/><stop offset="41.6%" stop-color="#fffdfd"/><stop offset="45.4%" stop-color="#ffaeae"/><stop offset="48.0%" stop-color="#ff8484"/><stop offset="51.5%" stop-color="#ff6464"/><stop offset="53.9%" stop-color="#ff5a5a"/><stop offset="59.3%" stop-color="#ff6262"/><stop offset="60.7%" stop-color="#ff6f6f"/><stop offset="65.2%" stop-color="#ffb7b7"/><stop offset="66.6%" stop-color="#ffdbdb"/><stop offset="67.8%" stop-color="#fffbfb"/><stop offset="68.0%" stop-color="#fefeff"/><stop offset="70.8%" stop-color="#c2c2ff"/><stop offset="74.1%" stop-color="#8b8bff"/><stop offset="77.2%" stop-color="#6464ff"/><stop offset="81.2%" stop-color="#4545ff"/><stop offset="87.3%" stop-color="#2b2bff"/><stop offset="96.5%" stop-color="#2121ff"/><stop offset="100.0%" stop-color="#2020ff"/></linearGradient><linearGradient id="g28" x1="0" x2="1" y1="0" y2="0"><stop offset="0.0%" stop-color="#2f2fff"/><stop offset="15.8%" stop-color="#3636ff"/><stop offset="24.2%" stop-color="#4545ff"/><stop offset="29.6%" stop-color="#6262ff"/><stop offset="33.4%" stop-color="#8181ff"/><stop offset="36.9%" stop-color="#adadff"/><stop offset="41.4%" stop-color="#fdfdff"/><stop offset="41.9%" stop-color="#fff7f7"/><stop offset="45.4%" stop-color="#ffadad"/><stop offset="48.0%" stop-color="#ff8383"/><stop offset="51.5%" stop-color="#ff6363"/><stop offset="53.9%" stop-color="#ff5a5a"/><stop offset="59.3%" stop-color="#ff6262"/><stop offset="60.7%" stop-color="#ff6e6e"/><stop offset="65.2%" stop-color="#ffb6b6"/><stop offset="66.6%" stop-color="#ffdada"/><stop offset="67.8%" stop-color="#fffafa"/><stop offset="68.0%" stop-color="#fefeff"/><stop offset="70.8%" stop-color="#c2c2ff"/><stop offset="74.1%" stop-color="#8b8bff"/><stop offset="77.2%" stop-color="#6464ff"/><stop offset="81.2%" stop-color="#4545ff"/><stop offset="87.3%" stop-color="#2b2bff"/><stop offset="96.2%" stop-color="#2121ff"/><stop offset="100.0%" stop-color="#2020ff"/></linearGradient><linearGradient id="g29" x1="0" x2="1" y1="0" y2="0"><stop offset="0.0%" stop-color="#2f2fff"/><stop offset="15.8%" stop-color="#3636ff"/><stop offset="24.0%" stop-color="#4444ff"/><stop offset="29.2%" stop-color="#5f5fff"/><stop offset="33.2%" stop-color="#7f7fff"/><stop offset="36.7%" stop-color="#a9a9ff"/><stop offset="41.4%" stop-color="#fdfdff"/><stop offset="41.9%" stop-color="#fff7f7"/><stop offset="45.4%" stop-color="#ffadad"/><stop offset="48.0%" stop-color="#ff8383"/><stop offset="51.5%" stop-color="#ff6262"/><stop offset="53.9%" stop-color="#ff5959"/><stop offset="59.1%" stop-color="#ff6161"/><stop offset="60.5%" stop-color="#ff6b6b"/><stop offset="64.9%" stop-color="#ffb1b1"/><stop offset="66.1%" stop-color="#ffcdcd"/><stop offset="67.8%" stop-color="#fffafa"/><stop offset="68.0%" stop-color="#fefeff"/><stop offset="70.8%" stop-color="#c2c2ff"/><stop offset="74.1%" stop-color="#8b8bff"/><stop offset="77.2%" stop-color="#6464ff"/><stop offset="81.2%" stop-color="#4545ff"/><stop offset="87.3%" stop-color="#2b2bff"/><stop offset="96.2%" stop-color="#2121ff"/><stop offset="100.0%" stop-color="#2020ff"/></linearGradient><linearGradient id="g30" x1="0" x2="1" y1="0" y2="0"><stop offset="0.0%" stop-color="#2f2fff"/><stop offset="15.8%" stop-color="#3636ff"/><stop offset="24.0%" stop-color="#4444ff"/><stop offset="29.2%" stop-color="#5f5fff"/><stop offset="33.2%" stop-color="#7f7fff"/><stop offset="36.7%" stop-color="#a9a9ff"/><stop offset="41.4%" stop-color="#fefeff"/><stop offset="42.1%" stop-color="#fff2f2"/><stop offset="45.4%" stop-color="#ffacac"/><stop offset="48.0%" stop-color="#ff8282"/><stop offset="51.5%" stop-color="#ff6262"/><stop offset="53.9%" stop-color="#ff5858"/><stop offset="59.1%" stop-color="#ff6060"/><stop offset="60.5%" stop-color="#ff6a6a"/><stop offset="64.9%" stop-color="#ffb1b1"/><stop offset="66.1%" stop-color="#ffcccc"/><stop offset="67.8%" stop-color="#fffafa"/><stop offset="68.0%" stop-color="#ffffff"/><stop offset="70.8%" stop-color="#c3c3ff"/><stop offset="74.1%" stop-color="#8c8cff"/><stop offset="77.2%" stop-color="#6464ff"/><stop offset="81.2%" stop-color="#4545ff"/><stop offset="87.3%" stop-color="#2b2bff"/><stop offset="96.2%" stop-color="#2121ff"/><stop offset="100.0%" stop-color="#2020ff"/></linearGradient><linearGradient id="g31" x1="0" x2="1" y1="0" y2="0"><stop offset="0.0%" stop-color="#2f2fff"/><stop offset="15.8%" stop-color="#3636ff"/><stop offset="24.0%" stop-color="#4444ff"/><stop offset="29.2%" stop-color="#5f5fff"/><stop offset="33.2%" stop-color="#7f7fff"/><stop offset="36.7%" stop-color="#aaaaff"/><stop offset="41.4%" stop-color="#fefeff"/><stop offset="43.3%" stop-color="#ffd7d7"/><stop offset="45.9%" stop-color="#ffa3a3"/><stop offset="48.2%" stop-color="#ff7f7f"/><stop offset="51.8%" stop-color="#ff6060"/><stop offset="54.1%" stop-color="#ff5757"/><stop offset="59.3%" stop-color="#ff6060"/><stop offset="60.7%" stop-color="#ff6d6d"/><stop offset="65.2%" stop-color="#ffb5b5"/><stop offset="66.6%" stop-color="#ffd9d9"/><stop offset="68.0%" stop-color="#ffffff"/><stop offset="70.8%" stop-color="#c3c3ff"/><stop offset="74.1%" stop-color="#8c8cff"/><stop offset="77.2%" stop-color="#6464ff"/><stop offset="81.2%" stop-color="#4545ff"/><stop offset="87.3%" stop-color="#2b2bff"/><stop offset="96.0%" stop-color="#2121ff"/><stop offset="100.0%" stop-color="#2020ff"/></linearGradient><linearGradient id="g32" x1="0" x2="1" y1="0" y2="0"><stop offset="0.0%" stop-color="#2f2fff"/><stop offset="15.8%" stop-color="#3636ff"/><stop offset="24.0%" stop-color="#4444ff"/><stop offset="29.2%" stop-color="#5f5fff"/><stop offset="33.2%" stop-color="#8080ff"/><stop offset="36.7%" stop-color="#aaaaff"/><stop offset="41.4%" stop-color="#fefeff"/><stop offset="45.4%" stop-color="#ffabab"/><stop offset="48.0%" stop-color="#ff8181"/><stop offset="51.5%" stop-color="#ff6060"/><stop offset="53.9%" stop-color="#ff5757"/><stop offset="58.8%" stop-color="#ff5f5f"/><stop offset="60.2%" stop-color="#ff6767"/><stop offset="63.8%" stop-color="#ff9c9c"/><stop offset="65.6%" stop-color="#ffbfbf"/><stop offset="68.0%" stop-color="#ffffff"/><stop offset="70.8%" stop-color="#c3c3ff"/><stop offset="74.1%" stop-color="#8c8cff"/><stop offset="77.2%" stop-color="#6464ff"/><stop offset="81.2%" stop-color="#4545ff"/><stop offset="87.3%" stop-color="#2b2bff"/><stop offset="96.0%" stop-color="#2121ff"/><stop offset="100.0%" stop-color="#2020ff"/></linearGradient><linearGradient id="g33" x1="0" x2="1" y1="0" y2="0"><stop offset="0.0%" stop-color="#2f2fff"/><stop offset="15.8%" stop-color="#3636ff"/><stop offset="24.0%" stop-color="#4444ff"/><stop offset="29.2%" stop-color="#5f5fff"/><stop offset="33.2%" stop-color="#8080ff"/><stop offset="36.7%" stop-color="#aaaaff"/><stop offset="41.4%" stop-color="#ffffff"/><stop offset="45.4%" stop-color="#ffabab"/><stop offset="48.0%" stop-color="#ff8181"/><stop offset="51.5%" stop-color="#ff6060"/><stop offset="53.9%" stop-color="#ff5656"/><stop offset="58.8%" stop-color="#ff5e5e"/><stop offset="60.2%" stop-color="#ff6666"/><stop offset="63.5%" stop-color="#ff9898"/><stop offset="65.6%" stop-color="#ffbfbf"/><stop offset="68.0%" stop-color="#fffefe"/><stop offset="71.1%" stop-color="#bfbfff"/><stop offset="74.4%" stop-color="#8989ff"/><stop offset="77.4%" stop-color="#6262ff"/><stop offset="81.4%" stop-color="#4444ff"/><stop offset="87.5%" stop-color="#2a2aff"/><stop offset="97.4%" stop-color="#2020ff"/><stop offset="100.0%" stop-color="#2020ff"/></linearGradient><linearGradient id="g34" x1="0" x2="1" y1="0" y2="0"><stop offset="0.0%" stop-color="#2f2fff"/><stop offset="15.8%" stop-color="#3636ff"/><stop offset="24.0%" stop-color="#4444ff"/><stop offset="29.2%" stop-color="#6060ff"/><stop offset="33.2%" stop-color="#8080ff"/><stop offset="36.7%" stop-color="#aaaaff"/><stop offset="41.4%" stop-color="#ffffff"/><stop offset="45.4%" stop-color="#ffaaaa"/><stop offset="48.0%" stop-color="#ff8080"/><stop offset="51.5%" stop-color="#ff5f5f"/><stop offset="53.9%" stop-color="#ff5555"/><stop offset="58.8%" stop-color="#ff5d5d"/><stop offset="60.2%" stop-color="#ff6666"/><stop offset="63.5%" stop-color="#ff9898"/><stop offset="65.6%" stop-color="#ffbfbf"/><stop offset="68.0%" stop-color="#fffefe"/><stop offset="71.3%" stop-color="#bbbbff"/><stop offset="74.6%" stop-color="#8686ff"/><stop offset="77.6%" stop-color="#6060ff"/><stop offset="81.6%" stop-color="#4242ff"/><stop offset="87.8%" stop-color="#2929ff"/><stop offset="98.4%" stop-color="#2020ff"/><stop offset="100.0%" stop-color="#2020ff"/></linearGradient><linearGradient id="g35" x1="0" x2="1" y1="0" y2="0"><stop offset="0.0%" stop-color="#2f2fff"/><stop offset="15.8%" stop-color="#3636ff"/><stop offset="24.0%" stop-color="#4444ff"/><stop offset="29.2%" stop-color="#6060ff"/><stop offset="33.2%" stop-color="#8080ff"/><stop offset="36.7%" stop-color="#ababff"/><stop offset="41.4%" stop-color="#ffffff"/><stop offset="45.4%" stop-color="#ffaaaa"/><stop offset="48.0%" stop-color="#ff7f7f"/><stop offset="51.5%" stop-color="#ff5e5e"/><stop offset="53.9%" stop-color="#ff5555"/><stop offset="58.6%" stop-color="#ff5c5c"/><stop offset="60.2%" stop-color="#ff6565"/><stop offset="63.5%" stop-color="#ff9797"/><stop offset="65.6%" stop-color="#ffbebe"/><stop offset="68.0%" stop-color="#fffdfd"/><stop offset="68.7%" stop-color="#f0f0ff"/><stop offset="71.8%" stop-color="#b3b3ff"/><stop offset="75.3%" stop-color="#7c7cff"/><stop offset="78.1%" stop-color="#5c5cff"/><stop offset="82.4%" stop-color="#3f3fff"/><stop offset="88.2%" stop-color="#2828ff"/><stop offset="99.8%" stop-color="#2020ff"/><stop offset="100.0%" stop-color="#2020ff"/></linearGradient><linearGradient id="g36" x1="0" x2="1" y1="0" y2="0"><stop offset="0.0%" stop-color="#2f2fff"/><stop offset="15.8%" stop-color="#3636ff"/><stop offset="24.0%" stop-color="#4444ff"/><stop offset="29.2%" stop-color="#6060ff"/><stop offset="33.2%" stop-color="#8080ff"/><stop offset="36.7%" stop-color="#ababff"/><stop offset="41.4%" stop-color="#fffefe"/><stop offset="45.4%" stop-color="#ffa9a9"/><stop offset="48.0%" stop-color="#ff7f7f"/><stop offset="51.5%" stop-color="#ff5e5e"/><stop offset="53.9%" stop-color="#ff5454"/><stop offset="58.6%" stop-color="#ff5c5c"/><stop offset="60.2%" stop-color="#ff6565"/><stop offset="63.3%" stop-color="#ff9393"/><stop offset="65.4%" stop-color="#ffb8b8"/><stop offset="68.0%" stop-color="#fffdfd"/><stop offset="68.5%" stop-color="#f6f6ff"/><stop offset="71.3%" stop-color="#bcbcff"/><stop offset="74.6%" stop-color="#8686ff"/><stop offset="77.6%" stop-color="#6161ff"/><stop offset="81.6%" stop-color="#4343ff"/><stop offset="87.8%" stop-color="#2a2aff"/><stop offset="98.4%" stop-color="#2020ff"/><stop offset="100.0%" stop-color="#2020ff"/></linearGradient><linearGradient id="g37" x1="0" x2="1" y1="0" y2="0"><stop offset="0.0%" stop-color="#2f2fff"/><stop offset="15.8%" stop-color="#3636ff"/><stop offset="24.0%" stop-color="#4444ff"/><stop offset="29.2%" stop-color="#6060ff"/><stop offset="33.2%" stop-color="#8181ff"/><stop offset="36.7%" stop-color="#ababff"/><stop offset="41.4%" stop-color="#fffefe"/><stop offset="45.4%" stop-color="#ffa9a9"/><stop offset="47.8%" stop-color="#ff8181"/><stop offset="51.1%" stop-color="#ff6060"/><stop offset="53.4%" stop-color="#ff5454"/><stop offset="57.4%" stop-color="#ff5858"/><stop offset="60.0%" stop-color="#ff6262"/><stop offset="61.9%" stop-color="#ff7c7c"/><stop offset="65.2%" stop-color="#ffb3b3"/><stop offset="66.6%" stop-color="#ffd7d7"/><stop offset="68.0%" stop-color="#fffdfd"/><stop offset="68.2%" stop-color="#fcfcff"/><stop offset="71.1%" stop-color="#c0c0ff"/><stop offset="74.4%" stop-color="#8a8aff"/><stop offset="77.4%" stop-color="#6363ff"/><stop offset="81.4%" stop-color="#4444ff"/><stop offset="87.5%" stop-color="#2a2aff"/><stop offset="97.2%" stop-color="#2020ff"/><stop offset="100.0%" stop-color="#2020ff"/></linearGradient><linearGradient id="g38" x1="0" x2="1" y1="0" y2="0"><stop offset="0.0%" stop-color="#2f2fff"/><stop offset="15.8%" stop-color="#3636ff"/><stop offset="24.0%" stop-color="#4444ff"/><stop offset="29.2%" stop-color="#6060ff"/><stop offset="33.2%" stop-color="#8181ff"/><stop offset="36.7%" stop-color="#acacff"/><stop offset="41.2%" stop-color="#fcfcff"/><stop offset="41.4%" stop-color="#fffdfd"/><stop offset="45.4%" stop-color="#ffa8a8"/><stop offset="47.8%" stop-color="#ff8181"/><stop offset="51.1%" stop-color="#ff6060"/><stop offset="53.4%" stop-color="#ff5353"/><stop offset="57.4%" stop-color="#ff5757"/><stop offset="60.0%" stop-color="#ff6262"/><stop offset="61.9%" stop-color="#ff7b7b"/><stop offset="65.2%" stop-color="#ffb3b3"/><stop offset="66.6%" stop-color="#ffd7d7"/><stop offset="68.0%" stop-color="#fffcfc"/><stop offset="68.2%" stop-color="#fcfcff"/><stop offset="71.1%" stop-color="#c1c1ff"/><stop offset="74.4%" stop-color="#8a8aff"/><stop offset="77.4%" stop-color="#6363ff"/><stop offset="81.4%" stop-color="#4444ff"/><stop offset="87.5%" stop-color="#2a2aff"/><stop offset="97.2%" stop-color="#2020ff"/><stop offset="100.0%" stop-color="#2020ff"/></linearGradient><linearGradient id="g39" x1="0" x2="1" y1="0" y2="0"><stop offset="0.0%" stop-color="#2f2fff"/><stop offset="15.8%" stop-color="#3636ff"/><stop offset="24.0%" stop-color="#4545ff"/><stop offset="29.2%" stop-color="#6060ff"/><stop offset="33.2%" stop-color="#8181ff"/><stop offset="36.7%" stop-color="#acacff"/><stop offset="41.2%" stop-color="#fcfcff"/><stop offset="41.4%" stop-color="#fffdfd"/><stop offset="45.4%" stop-color="#ffa8a8"/><stop offset="47.8%" stop-color="#ff8080"/><stop offset="51.1%" stop-color="#ff5f5f"/><stop offset="53.4%" stop-color="#ff5252"/><stop offset="57.4%" stop-color="#ff5656"/><stop offset="60.0%" stop-color="#ff6161"/><stop offset="61.9%" stop-color="#ff7b7b"/><stop offset="65.2%" stop-color="#ffb2b2"/><stop offset="66.8%" stop-color="#ffdddd"/><stop offset="68.0%" stop-color="#fffcfc"/><stop offset="68.2%" stop-color="#fdfdff"/><stop offset="71.1%" stop-color="#c1c1ff"/><stop offset="74.4%" stop-color="#8a8aff"/><stop offset="77.4%" stop-color="#6363ff"/><stop offset="81.4%" stop-color="#4444ff"/><stop offset="87.5%" stop-color="#2a2aff"/><stop offset="97.2%" stop-color="#2020ff"/><stop offset="100.0%" stop-color="#2020ff"/></linearGradient><linearGradient id="g40" x1="0" x2="1" y1="0" y2="0"><stop offset="0.0%" stop-color="#2f2fff"/><stop offset="15.8%" stop-color="#3636ff"/><stop offset="24.0%" stop-color="#4545ff"/><stop offset="29.2%" stop-color="#6060ff"/><stop offset="33.2%" stop-color="#8181ff"/><stop offset="36.7%" stop-color="#acacff"/><stop offset="41.2%" stop-color="#fdfdff"/><stop offset="41.4%" stop-color="#fffdfd"/><stop offset="45.4%" stop-color="#ffa7a7"/><stop offset="47.8%" stop-color="#ff8080"/><stop offset="51.1%" stop-color="#ff5e5e"/><stop offset="53.4%" stop-color="#ff5151"/><stop offset="57.4%" stop-color="#ff5656"/><stop offset="60.0%" stop-color="#ff6161"/><stop offset="61.9%" stop-color="#ff7a7a"/><stop offset="65.2%" stop-color="#ffb2b2"/><stop offset="66.8%" stop-color="#ffdcdc"/><stop offset="68.0%" stop-color="#fffbfb"/><stop offset="68.2%" stop-color="#fdfdff"/><stop offset="71.1%" stop-color="#c1c1ff"/><stop offset="74.4%" stop-color="#8b8bff"/><stop offset="77.4%" stop-color="#6464ff"/><stop offset="81.4%" stop-color="#4444ff"/><stop offset="87.5%" stop-color="#2a2aff"/><stop offset="97.2%" stop-color="#2020ff"/><stop offset="100.0%" stop-color="#2020ff"/></linearGradient><linearGradient id="g41" x1="0" x2="1" y1="0" y2="0"><stop offset="0.0%" stop-color="#2f2fff"/><stop offset="15.8%" stop-color="#3636ff"/><stop offset="24.0%" stop-color="#4545ff"/><stop offset="29.2%" stop-color="#6060ff"/><stop offset="33.2%" stop-color="#8282ff"/><stop offset="36.7%" stop-color="#acacff"/><stop offset="41.2%" stop-color="#fdfdff"/><stop offset="41.4%" stop-color="#fffcfc"/><stop offset="45.4%" stop-color="#ffa6a6"/><stop offset="47.8%" stop-color="#ff7f7f"/><stop offset="51.1%" stop-color="#ff5d5d"/><stop offset="53.4%" stop-color="#ff5151"/><stop offset="57.2%" stop-color="#ff5454"/><stop offset="60.0%" stop-color="#ff6060"/><stop offset="61.9%" stop-color="#ff7a7a"/><stop offset="65.2%" stop-color="#ffb2b2"/><stop offset="66.8%" stop-color="#ffdcdc"/><stop offset="68.0%" stop-color="#fffbfb"/><stop offset="68.2%" stop-color="#fdfdff"/><stop offset="71.1%" stop-color="#c2c2ff"/><stop offset="74.4%" stop-color="#8b8bff"/><stop offset="77.4%" stop-color="#6464ff"/><stop offset="81.4%" stop-color="#4444ff"/><stop offset="87.3%" stop-color="#2b2bff"/><stop offset="95.5%" stop-color="#2121ff"/><stop offset="100.0%" stop-color="#2020ff"/></linearGradient><linearGradient id="g42" x1="0" x2="1" y1="0" y2="0"><stop offset="0.0%" stop-color="#2f2fff"/><stop offset="15.8%" stop-color="#3636ff"/><stop offset="24.0%" stop-color="#4545ff"/><stop offset="29.2%" stop-color="#6060ff"/><stop offset="33.2%" stop-color="#8282ff"/><stop offset="36.7%" stop-color="#adadff"/><stop offset="40.9%" stop-color="#f8f8ff"/><stop offset="41.2%" stop-color="#fdfdff"/><stop offset="41.6%" stop-color="#fff7f7"/><stop offset="45.4%" stop-color="#ffa6a6"/><stop offset="47.8%" stop-color="#ff7e7e"/><stop offset="51.1%" stop-color="#ff5d5d"/><stop offset="53.4%" stop-color="#ff5050"/><stop offset="57.2%" stop-color="#ff5454"/><stop offset="60.0%" stop-color="#ff5f5f"/><stop offset="61.9%" stop-color="#ff7979"/><stop offset="65.2%" stop-color="#ffb1b1"/><stop offset="66.8%" stop-color="#ffdcdc"/><stop offset="68.0%" stop-color="#fffafa"/><stop offset="68.2%" stop-color="#fefeff"/><stop offset="70.8%" stop-color="#c6c6ff"/><stop offset="74.1%" stop-color="#8f8fff"/><stop offset="77.4%" stop-color="#6464ff"/><stop offset="81.4%" stop-color="#4545ff"/><stop offset="87.3%" stop-color="#2b2bff"/><stop offset="95.3%" stop-color="#2121ff"/><stop offset="100.0%" stop-color="#2020ff"/></linearGradient><linearGradient id="g43" x1="0" x2="1" y1="0" y2="0"><stop offset="0.0%" stop-color="#2f2fff"/><stop offset="15.8%" stop-color="#3636ff"/><stop offset="24.0%" stop-color="#4545ff"/><stop offset="29.2%" stop-color="#6060ff"/><stop offset="33.2%" stop-color="#8282ff"/><stop offset="36.7%" stop-color="#adadff"/><stop offset="40.9%" stop-color="#f9f9ff"/><stop offset="41.2%" stop-color="#fefeff"/><stop offset="41.9%" stop-color="#fff2f2"/><stop offset="45.4%" stop-color="#ffa5a5"/><stop offset="47.8%" stop-color="#ff7e7e"/><stop offset="51.1%" stop-color="#ff5c5c"/><stop offset="53.4%" stop-color="#ff4f4f"/><stop offset="57.2%" stop-color="#ff5353"/><stop offset="60.0%" stop-color="#ff5f5f"/><stop offset="61.9%" stop-color="#ff7979"/><stop offset="65.2%" stop-color="#ffb1b1"/><stop offset="66.8%" stop-color="#ffdbdb"/><stop offset="68.2%" stop-color="#fefeff"/><stop offset="70.8%" stop-color="#c7c7ff"/><stop offset="74.1%" stop-color="#8f8fff"/><stop offset="77.4%" stop-color="#6464ff"/><stop offset="81.4%" stop-color="#4545ff"/><stop offset="87.3%" stop-color="#2b2bff"/><stop offset="95.3%" stop-color="#2121ff"/><stop offset="100.0%" stop-color="#2020ff"/></linearGradient><linearGradient id="g44" x1="0" x2="1" y1="0" y2="0"><stop offset="0.0%" stop-color="#2f2fff"/><stop offset="15.8%" stop-color="#3636ff"/><stop offset="24.0%" stop-color="#4545ff"/><stop offset="29.2%" stop-color="#6161ff"/><stop offset="33.2%" stop-color="#8282ff"/><stop offset="36.7%" stop-color="#adadff"/><stop offset="40.9%" stop-color="#f9f9ff"/><stop offset="41.2%" stop-color="#fefeff"/><stop offset="43.1%" stop-color="#ffd7d7"/><stop offset="45.9%" stop-color="#ff9c9c"/><stop offset="48.2%" stop-color="#ff7777"/><stop offset="51.8%" stop-color="#ff5656"/><stop offset="53.9%" stop-color="#ff4d4d"/><stop offset="58.1%" stop-color="#ff5555"/><stop offset="60.0%" stop-color="#ff5e5e"/><stop offset="61.9%" stop-color="#ff7878"/><stop offset="65.4%" stop-color="#ffb5b5"/><stop offset="68.2%" stop-color="#ffffff"/><stop offset="70.8%" stop-color="#c7c7ff"/><stop offset="74.1%" stop-color="#8f8fff"/><stop offset="77.4%" stop-color="#6464ff"/><stop offset="81.4%" stop-color="#4545ff"/><stop offset="87.3%" stop-color="#2b2bff"/><stop offset="95.3%" stop-color="#2121ff"/><stop offset="100.0%" stop-color="#2020ff"/></linearGradient><linearGradient id="g45" x1="0" x2="1" y1="0" y2="0"><stop offset="0.0%" stop-color="#2f2fff"/><stop offset="15.8%" stop-color="#3636ff"/><stop offset="24.0%" stop-color="#4545ff"/><stop offset="29.2%" stop-color="#6161ff"/><stop offset="33.2%" stop-color="#8282ff"/><stop offset="36.7%" stop-color="#aeaeff"/><stop offset="40.9%" stop-color="#fafaff"/><stop offset="41.2%" stop-color="#fefeff"/><stop offset="45.6%" stop-color="#ffa0a0"/><stop offset="48.0%" stop-color="#ff7979"/><stop offset="51.5%" stop-color="#ff5757"/><stop offset="53.9%" stop-color="#ff4c4c"/><stop offset="58.1%" stop-color="#ff5454"/><stop offset="60.0%" stop-color="#ff5e5e"/><stop offset="61.9%" stop-color="#ff7878"/><stop offset="65.4%" stop-color="#ffb5b5"/><stop offset="68.2%" stop-color="#ffffff"/><stop offset="71.1%" stop-color="#c3c3ff"/><stop offset="74.4%" stop-color="#8c8cff"/><stop offset="77.4%" stop-color="#6464ff"/><stop offset="81.4%" stop-color="#4545ff"/><stop offset="87.3%" stop-color="#2b2bff"/><stop offset="95.1%" stop-color="#2121ff"/><stop offset="100.0%" stop-color="#2020ff"/></linearGradient><linearGradient id="g46" x1="0" x2="1" y1="0" y2="0"><stop offset="0.0%" stop-color="#2f2fff"/><stop offset="15.8%" stop-color="#3636ff"/><stop offset="24.0%" stop-color="#4545ff"/><stop offset="29.2%" stop-color="#6161ff"/><stop offset="33.2%" stop-color="#8383ff"/><stop offset="36.7%" stop-color="#aeaeff"/><stop offset="40.9%" stop-color="#fafaff"/><stop offset="41.2%" stop-color="#ffffff"/><stop offset="45.4%" stop-color="#ffa3a3"/><stop offset="47.8%" stop-color="#ff7c7c"/><stop offset="51.1%" stop-color="#ff5959"/><stop offset="53.4%" stop-color="#ff4c4c"/><stop offset="56.9%" stop-color="#ff5050"/><stop offset="60.0%" stop-color="#ff5d5d"/><stop offset="61.9%" stop-color="#ff7777"/><stop offset="65.4%" stop-color="#ffb4b4"/><stop offset="68.2%" stop-color="#fffefe"/><stop offset="71.1%" stop-color="#c3c3ff"/><stop offset="74.4%" stop-color="#8c8cff"/><stop offset="77.4%" stop-color="#6565ff"/><stop offset="81.2%" stop-color="#4646ff"/><stop offset="87.1%" stop-color="#2c2cff"/><stop offset="93.6%" stop-color="#2222ff"/><stop offset="100.0%" stop-color="#2020ff"/></linearGradient><linearGradient id="g47" x1="0" x2="1" y1="0" y2="0"><stop offset="0.0%" stop-color="#2f2fff"/><stop offset="15.8%" stop-color="#3636ff"/><stop offset="24.0%" stop-color="#4545ff"/><stop offset="29.2%" stop-color="#6161ff"/><stop offset="33.2%" stop-color="#8383ff"/><stop offset="36.7%" stop-color="#aeaeff"/><stop offset="40.9%" stop-color="#fafaff"/><stop offset="41.2%" stop-color="#ffffff"/><stop offset="45.4%" stop-color="#ffa3a3"/><stop offset="47.8%" stop-color="#ff7b7b"/><stop offset="51.1%" stop-color="#ff5959"/><stop offset="53.4%" stop-color="#ff4b4b"/><stop offset="56.9%" stop-color="#ff4f4f"/><stop offset="60.0%" stop-color="#ff5d5d"/><stop offset="61.9%" stop-color="#ff7676"/><stop offset="65.4%" stop-color="#ffb4b4"/><stop offset="68.2%" stop-color="#fffefe"/><stop offset="71.3%" stop-color="#bfbfff"/><stop offset="74.6%" stop-color="#8989ff"/><stop offset="77.6%" stop-color="#6363ff"/><stop offset="81.6%" stop-color="#4444ff"/><stop offset="87.5%" stop-color="#2a2aff"/><stop offset="96.7%" stop-color="#2121ff"/><stop offset="100.0%" stop-color="#2020ff"/></linearGradient><linearGradient id="g48" x1="0" x2="1" y1="0" y2="0"><stop offset="0.0%" stop-color="#2f2fff"/><stop offset="15.8%" stop-color="#3636ff"/><stop offset="23.8%" stop-color="#4444ff"/><stop offset="28.9%" stop-color="#5f5fff"/><stop offset="32.9%" stop-color="#8181ff"/><stop offset="36.7%" stop-color="#afafff"/><stop offset="40.7%" stop-color="#f6f6ff"/><stop offset="41.2%" stop-color="#fffefe"/><stop offset="45.4%" stop-color="#ffa2a2"/><stop offset="47.8%" stop-color="#ff7a7a"/><stop offset="51.1%" stop-color="#ff5858"/><stop offset="53.4%" stop-color="#ff4b4b"/><stop offset="56.9%" stop-color="#ff4e4e"/><stop offset="60.0%" stop-color="#ff5c5c"/><stop offset="61.9%" stop-color="#ff7676"/><stop offset="65.4%" stop-color="#ffb4b4"/><stop offset="68.2%" stop-color="#fffdfd"/><stop offset="68.9%" stop-color="#f0f0ff"/><stop offset="72.0%" stop-color="#b3b3ff"/><stop offset="75.5%" stop-color="#7c7cff"/><stop offset="78.4%" stop-color="#5c5cff"/><stop offset="82.6%" stop-color="#3e3eff"/><stop offset="88.5%" stop-color="#2828ff"/><stop offset="100.0%" stop-color="#2020ff"/></linearGradient><linearGradient id="g49" x1="0" x2="1" y1="0" y2="0"><stop offset="0.0%" stop-color="#2f2fff"/><stop offset="15.8%" stop-color="#3636ff"/><stop offset="23.8%" stop-color="#4444ff"/><stop offset="28.9%" stop-color="#6060ff"/><stop offset="32.9%" stop-color="#8181ff"/><stop offset="36.7%" stop-color="#afafff"/><stop offset="40.7%" stop-color="#f6f6ff"/><stop offset="41.2%" stop-color="#fffefe"/><stop offset="45.4%" stop-color="#ffa2a2"/><stop offset="47.8%" stop-color="#ff7a7a"/><stop offset="51.1%" stop-color="#ff5757"/><stop offset="53.4%" stop-color="#ff4a4a"/><stop offset="56.9%" stop-color="#ff4e4e"/><stop offset="60.0%" stop-color="#ff5c5c"/><stop offset="61.9%" stop-color="#ff7575"/><stop offset="65.4%" stop-color="#ffb3b3"/><stop offset="68.2%" stop-color="#fffdfd"/><stop offset="68.7%" stop-color="#f6f6ff"/><stop offset="71.5%" stop-color="#bbbbff"/><stop offset="75.1%" stop-color="#8383ff"/><stop offset="78.1%" stop-color="#5e5eff"/><stop offset="82.1%" stop-color="#4141ff"/><stop offset="88.0%" stop-color="#2929ff"/><stop offset="98.8%" stop-color="#2020ff"/><stop offset="100.0%" stop-color="#2020ff"/></linearGradient><linearGradient id="g50" x1="0" x2="1" y1="0" y2="0"><stop offset="0.0%" stop-color="#2f2fff"/><stop offset="15.8%" stop-color="#3636ff"/><stop offset="23.8%" stop-color="#4444ff"/><stop offset="28.9%" stop-color="#6060ff"/><stop offset="32.9%" stop-color="#8181ff"/><stop offset="36.7%" stop-color="#afafff"/><stop offset="40.7%" stop-color="#f7f7ff"/><stop offset="41.2%" stop-color="#fffefe"/><stop offset="45.4%" stop-color="#ffa1a1"/><stop offset="47.8%" stop-color="#ff7979"/><stop offset="51.1%" stop-color="#ff5656"/><stop offset="53.4%" stop-color="#ff4949"/><stop offset="56.7%" stop-color="#ff4c4c"/><stop offset="60.0%" stop-color="#ff5b5b"/><stop offset="61.9%" stop-color="#ff7575"/><stop offset="65.4%" stop-color="#ffb3b3"/><stop offset="68.2%" stop-color="#fffdfd"/><stop offset="68.5%" stop-color="#fcfcff"/><stop offset="71.3%" stop-color="#c0c0ff"/><stop offset="74.6%" stop-color="#8a8aff"/><stop offset="77.6%" stop-color="#6363ff"/><stop offset="81.6%" stop-color="#4444ff"/><stop offset="87.5%" stop-color="#2b2bff"/><stop offset="96.5%" stop-color="#2121ff"/><stop offset="100.0%" stop-color="#2020ff"/></linearGradient><linearGradient id="g51" x1="0" x2="1" y1="0" y2="0"><stop offset="0.0%" stop-color="#2f2fff"/><stop offset="15.8%" stop-color="#3636ff"/><stop offset="23.8%" stop-color="#4444ff"/><stop offset="28.9%" stop-color="#6060ff"/><stop offset="32.9%" stop-color="#8181ff"/><stop offset="36.7%" stop-color="#b0b0ff"/><stop offset="40.7%" stop-color="#f7f7ff"/><stop offset="41.2%" stop-color="#fffdfd"/><stop offset="45.4%" stop-color="#ffa0a0"/><stop offset="47.8%" stop-color="#ff7878"/><stop offset="51.1%" stop-color="#ff5555"/><stop offset="53.4%" stop-color="#ff4848"/><stop offset="56.7%" stop-color="#ff4b4b"/><stop offset="60.0%" stop-color="#ff5a5a"/><stop offset="61.9%" stop-color="#ff7474"/><stop offset="65.4%" stop-color="#ffb2b2"/><stop offset="68.2%" stop-color="#fffcfc"/><stop offset="68.5%" stop-color="#fcfcff"/><stop offset="71.1%" stop-color="#c5c5ff"/><stop offset="74.4%" stop-color="#8d8dff"/><stop offset="77.4%" stop-color="#6666ff"/><stop offset="81.2%" stop-color="#4747ff"/><stop offset="86.8%" stop-color="#2d2dff"/><stop offset="92.5%" stop-color="#2323ff"/><stop offset="100.0%" stop-color="#2020ff"/></linearGradient><linearGradient id="g52" x1="0" x2="1" y1="0" y2="0"><stop offset="0.0%" stop-color="#2f2fff"/><stop offset="15.8%" stop-color="#3636ff"/><stop offset="23.8%" stop-color="#4444ff"/><stop offset="28.9%" stop-color="#6060ff"/><stop offset="32.9%" stop-color="#8282ff"/><stop offset="36.7%" stop-color="#b0b0ff"/><stop offset="40.7%" stop-color="#f7f7ff"/><stop offset="40.9%" stop-color="#fcfcff"/><stop offset="41.2%" stop-color="#fffdfd"/><stop offset="45.4%" stop-color="#ffa0a0"/><stop offset="47.8%" stop-color="#ff7878"/><stop offset="51.1%" stop-color="#ff5454"/><stop offset="53.4%" stop-color="#ff4747"/><stop offset="56.7%" stop-color="#ff4a4a"/><stop offset="60.0%" stop-color="#ff5a5a"/><stop offset="61.9%" stop-color="#ff7474"/><stop offset="65.4%" stop-color="#ffb2b2"/><stop offset="68.2%" stop-color="#fffcfc"/><stop offset="68.5%" stop-color="#fdfdff"/><stop offset="71.1%" stop-color="#c5c5ff"/><stop offset="74.4%" stop-color="#8e8eff"/><stop offset="77.4%" stop-color="#6666ff"/><stop offset="81.2%" stop-color="#4747ff"/><stop offset="86.8%" stop-color="#2d2dff"/><stop offset="92.5%" stop-color="#2323ff"/><stop offset="100.0%" stop-color="#2020ff"/></linearGradient><linearGradient id="g53" x1="0" x2="1" y1="0" y2="0"><stop offset="0.0%" stop-color="#2f2fff"/><stop offset="15.8%" stop-color="#3636ff"/><stop offset="23.8%" stop-color="#4444ff"/><stop offset="28.9%" stop-color="#6060ff"/><stop offset="32.9%" stop-color="#8282ff"/><stop offset="36.7%" stop-color="#b0b0ff"/><stop offset="40.7%" stop-color="#f8f8ff"/><stop offset="40.9%" stop-color="#fdfdff"/><stop offset="41.2%" stop-color="#fffcfc"/><stop offset="45.4%" stop-color="#ff9f9f"/><stop offset="47.8%" stop-color="#ff7777"/><stop offset="51.3%" stop-color="#ff5252"/><stop offset="53.6%" stop-color="#ff4646"/><stop offset="57.2%" stop-color="#ff4b4b"/><stop offset="60.0%" stop-color="#ff5959"/><stop offset="61.9%" stop-color="#ff7373"/><stop offset="65.4%" stop-color="#ffb1b1"/><stop offset="68.2%" stop-color="#fffbfb"/><stop offset="68.5%" stop-color="#fdfdff"/><stop offset="71.1%" stop-color="#c6c6ff"/><stop offset="74.4%" stop-color="#8e8eff"/><stop offset="77.4%" stop-color="#6666ff"/><stop offset="81.2%" stop-color="#4747ff"/><stop offset="86.8%" stop-color="#2d2dff"/><stop offset="92.5%" stop-color="#2323ff"/><stop offset="100.0%" stop-color="#2020ff"/></linearGradient><linearGradient id="g54" x1="0" x2="1" y1="0" y2="0"><stop offset="0.0%" stop-color="#2f2fff"/><stop offset="15.8%" stop-color="#3636ff"/><stop offset="23.8%" stop-color="#4444ff"/><stop offset="28.9%" stop-color="#6060ff"/><stop offset="32.9%" stop-color="#8282ff"/><stop offset="36.7%" stop-color="#b1b1ff"/><stop offset="40.7%" stop-color="#f8f8ff"/><stop offset="40.9%" stop-color="#fdfdff"/><stop offset="41.4%" stop-color="#fff7f7"/><stop offset="45.4%" stop-color="#ff9e9e"/><stop offset="47.8%" stop-color="#ff7676"/><stop offset="51.3%" stop-color="#ff5151"/><stop offset="53.6%" stop-color="#ff4545"/><stop offset="57.2%" stop-color="#ff4a4a"/><stop offset="60.0%" stop-color="#ff5858"/><stop offset="61.9%" stop-color="#ff7272"/><stop offset="65.4%" stop-color="#ffb1b1"/><stop offset="68.2%" stop-color="#fffbfb"/><stop offset="68.5%" stop-color="#fefeff"/><stop offset="71.1%" stop-color="#c6c6ff"/><stop offset="74.4%" stop-color="#8e8eff"/><stop offset="77.4%" stop-color="#6666ff"/><stop offset="81.2%" stop-color="#4747ff"/><stop offset="86.8%" stop-color="#2d2dff"/><stop offset="92.5%" stop-color="#2323ff"/><stop offset="100.0%" stop-color="#2020ff"/></linearGradient><linearGradient id="g55" x1="0" x2="1" y1="0" y2="0"><stop offset="0.0%" stop-color="#2f2fff"/><stop offset="15.8%" stop-color="#3636ff"/><stop offset="23.8%" stop-color="#4444ff"/><stop offset="28.9%" stop-color="#6060ff"/><stop offset="32.9%" stop-color="#8282ff"/><stop offset="36.7%" stop-color="#b1b1ff"/><stop offset="40.7%" stop-color="#f9f9ff"/><stop offset="40.9%" stop-color="#fdfdff"/><stop offset="41.4%" stop-color="#fff6f6"/><stop offset="45.4%" stop-color="#ff9e9e"/><stop offset="47.8%" stop-color="#ff7575"/><stop offset="51.3%" stop-color="#ff5050"/><stop offset="53.6%" stop-color="#ff4444"/><stop offset="57.2%" stop-color="#ff4a4a"/><stop offset="60.0%" stop-color="#ff5858"/><stop offset="61.9%" stop-color="#ff7272"/><stop offset="65.4%" stop-color="#ffb0b0"/><stop offset="68.2%" stop-color="#fffafa"/><stop offset="68.5%" stop-color="#fefeff"/><stop offset="71.1%" stop-color="#c6c6ff"/><stop offset="74.4%" stop-color="#8f8fff"/><stop offset="77.6%" stop-color="#6464ff"/><stop offset="81.4%" stop-color="#4646ff"/><stop offset="87.1%" stop-color="#2c2cff"/><stop offset="93.2%" stop-color="#2323ff"/><stop offset="100.0%" stop-color="#2020ff"/></linearGradient><linearGradient id="g56" x1="0" x2="1" y1="0" y2="0"><stop offset="0.0%" stop-color="#2f2fff"/><stop offset="15.8%" stop-color="#3636ff"/><stop offset="23.8%" stop-color="#4444ff"/><stop offset="28.9%" stop-color="#6060ff"/><stop offset="32.9%" stop-color="#8383ff"/><stop offset="36.7%" stop-color="#b1b1ff"/><stop offset="40.5%" stop-color="#f4f4ff"/><stop offset="40.9%" stop-color="#fefeff"/><stop offset="42.1%" stop-color="#ffe6e6"/><stop offset="45.6%" stop-color="#ff9898"/><stop offset="47.8%" stop-color="#ff7575"/><stop offset="51.3%" stop-color="#ff4f4f"/><stop offset="53.6%" stop-color="#ff4343"/><stop offset="57.2%" stop-color="#ff4949"/><stop offset="60.0%" stop-color="#ff5757"/><stop offset="61.9%" stop-color="#ff7171"/><stop offset="65.4%" stop-color="#ffb0b0"/><stop offset="68.5%" stop-color="#ffffff"/><stop offset="71.1%" stop-color="#c7c7ff"/><stop offset="74.4%" stop-color="#8f8fff"/><stop offset="77.6%" stop-color="#6464ff"/><stop offset="81.4%" stop-color="#4646ff"/><stop offset="87.1%" stop-color="#2c2cff"/><stop offset="93.2%" stop-color="#2323ff"/><stop offset="100.0%" stop-color="#2020ff"/></linearGradient><linearGradient id="g57" x1="0" x2="1" y1="0" y2="0"><stop offset="0.0%" stop-color="#2f2fff"/><stop offset="15.8%" stop-color="#3636ff"/><stop offset="23.8%" stop-color="#4444ff"/><stop offset="28.9%" stop-color="#6161ff"/><stop offset="32.9%" stop-color="#8383ff"/><stop offset="36.7%" stop-color="#b2b2ff"/><stop offset="40.5%" stop-color="#f5f5ff"/><stop offset="40.9%" stop-color="#fefeff"/><stop offset="45.6%" stop-color="#ff9898"/><stop offset="47.8%" stop-color="#ff7474"/><stop offset="51.3%" stop-color="#ff4e4e"/><stop offset="53.6%" stop-color="#ff4242"/><stop offset="56.9%" stop-color="#ff4747"/><stop offset="60.0%" stop-color="#ff5757"/><stop offset="61.9%" stop-color="#ff7070"/><stop offset="65.4%" stop-color="#ffb0b0"/><stop offset="68.5%" stop-color="#ffffff"/><stop offset="71.1%" stop-color="#c7c7ff"/><stop offset="74.4%" stop-color="#8f8fff"/><stop offset="77.6%" stop-color="#6565ff"/><stop offset="81.4%" stop-color="#4646ff"/><stop offset="87.1%" stop-color="#2c2cff"/><stop offset="93.2%" stop-color="#2323ff"/><stop offset="100.0%" stop-color="#2020ff"/></linearGradient><linearGradient id="g58" x1="0" x2="1" y1="0" y2="0"><stop offset="0.0%" stop-color="#2f2fff"/><stop offset="15.8%" stop-color="#3636ff"/><stop offset="23.8%" stop-color="#4444ff"/><stop offset="28.9%" stop-color="#6161ff"/><stop offset="32.9%" stop-color="#8383ff"/><stop offset="36.7%" stop-color="#b2b2ff"/><stop offset="40.5%" stop-color="#f5f5ff"/><stop offset="40.9%" stop-color="#ffffff"/><stop offset="45.6%" stop-color="#ff9797"/><stop offset="47.8%" stop-color="#ff7373"/><stop offset="51.3%" stop-color="#ff4d4d"/><stop offset="53.6%" stop-color="#ff4141"/><stop offset="56.9%" stop-color="#ff4646"/><stop offset="60.0%" stop-color="#ff5656"/><stop offset="61.9%" stop-color="#ff7070"/><stop offset="65.4%" stop-color="#ffafaf"/><stop offset="68.5%" stop-color="#fffefe"/><stop offset="71.3%" stop-color="#c3c3ff"/><stop offset="74.8%" stop-color="#8888ff"/><stop offset="77.9%" stop-color="#6262ff"/><stop offset="81.9%" stop-color="#4343ff"/><stop offset="87.8%" stop-color="#2a2aff"/><stop offset="97.4%" stop-color="#2020ff"/><stop offset="100.0%" stop-color="#2020ff"/></linearGradient><linearGradient id="g59" x1="0" x2="1" y1="0" y2="0"><stop offset="0.0%" stop-color="#2f2fff"/><stop offset="15.8%" stop-color="#3636ff"/><stop offset="23.8%" stop-color="#4545ff"/><stop offset="28.9%" stop-color="#6161ff"/><stop offset="32.9%" stop-color="#8484ff"/><stop offset="36.7%" stop-color="#b2b2ff"/><stop offset="40.5%" stop-color="#f5f5ff"/><stop offset="40.9%" stop-color="#ffffff"/><stop offset="45.6%" stop-color="#ff9696"/><stop offset="47.8%" stop-color="#ff7272"/><stop offset="51.3%" stop-color="#ff4c4c"/><stop offset="53.6%" stop-color="#ff4040"/><stop offset="56.9%" stop-color="#ff4545"/><stop offset="60.0%" stop-color="#ff5555"/><stop offset="61.9%" stop-color="#ff6f6f"/><stop offset="65.4%" stop-color="#ffafaf"/><stop offset="68.5%" stop-color="#fffefe"/><stop offset="71.5%" stop-color="#bfbfff"/><stop offset="75.1%" stop-color="#8585ff"/><stop offset="78.1%" stop-color="#6060ff"/><stop offset="82.1%" stop-color="#4242ff"/><stop offset="88.0%" stop-color="#2a2aff"/><stop offset="98.4%" stop-color="#2020ff"/><stop offset="100.0%" stop-color="#2020ff"/></linearGradient><linearGradient id="g60" x1="0" x2="1" y1="0" y2="0"><stop offset="0.0%" stop-color="#2f2fff"/><stop offset="15.8%" stop-color="#3636ff"/><stop offset="23.8%" stop-color="#4545ff"/><stop offset="28.9%" stop-color="#6161ff"/><stop offset="32.9%" stop-color="#8484ff"/><stop offset="36.7%" stop-color="#b3b3ff"/><stop offset="40.5%" stop-color="#f6f6ff"/><stop offset="40.9%" stop-color="#fffefe"/><stop offset="45.6%" stop-color="#ff9696"/><stop offset="47.8%" stop-color="#ff7272"/><stop offset="51.3%" stop-color="#ff4b4b"/><stop offset="53.4%" stop-color="#ff3f3f"/><stop offset="56.5%" stop-color="#ff4343"/><stop offset="60.0%" stop-color="#ff5555"/><stop offset="61.9%" stop-color="#ff6f6f"/><stop offset="65.4%" stop-color="#ffaeae"/><stop offset="68.5%" stop-color="#fffdfd"/><stop offset="69.2%" stop-color="#f0f0ff"/><stop offset="72.2%" stop-color="#b3b3ff"/><stop offset="75.8%" stop-color="#7c7cff"/><stop offset="78.8%" stop-color="#5a5aff"/><stop offset="83.1%" stop-color="#3d3dff"/><stop offset="88.7%" stop-color="#2828ff"/><stop offset="100.0%" stop-color="#2020ff"/></linearGradient><linearGradient id="g61" x1="0" x2="1" y1="0" y2="0"><stop offset="0.0%" stop-color="#2f2fff"/><stop offset="15.8%" stop-color="#3636ff"/><stop offset="23.8%" stop-color="#4545ff"/><stop offset="28.9%" stop-color="#6161ff"/><stop offset="32.9%" stop-color="#8484ff"/><stop offset="36.7%" stop-color="#b3b3ff"/><stop offset="40.5%" stop-color="#f6f6ff"/><stop offset="40.9%" stop-color="#fffefe"/><stop offset="45.6%" stop-color="#ff9595"/><stop offset="47.8%" stop-color="#ff7171"/><stop offset="51.3%" stop-color="#ff4a4a"/><stop offset="53.4%" stop-color="#ff3e3e"/><stop offset="56.5%" stop-color="#ff4242"/><stop offset="60.0%" stop-color="#ff5454"/><stop offset="61.9%" stop-color="#ff6e6e"/><stop offset="65.4%" stop-color="#ffaeae"/><stop offset="68.5%" stop-color="#fffdfd"/><stop offset="68.9%" stop-color="#f6f6ff"/><stop offset="71.8%" stop-color="#bbbbff"/><stop offset="75.3%" stop-color="#8383ff"/><stop offset="78.4%" stop-color="#5e5eff"/><stop offset="82.4%" stop-color="#4141ff"/><stop offset="88.2%" stop-color="#2929ff"/><stop offset="99.1%" stop-color="#2020ff"/><stop offset="100.0%" stop-color="#2020ff"/></linearGradient><linearGradient id="g62" x1="0" x2="1" y1="0" y2="0"><stop offset="0.0%" stop-color="#2f2fff"/><stop offset="15.8%" stop-color="#3636ff"/><stop offset="23.8%" stop-color="#4545ff"/><stop offset="28.9%" stop-color="#6161ff"/><stop offset="32.9%" stop-color="#8484ff"/><stop offset="36.7%" stop-color="#b3b3ff"/><stop offset="40.5%" stop-color="#f6f6ff"/><stop offset="40.9%" stop-color="#fffefe"/><stop offset="45.6%" stop-color="#ff9494"/><stop offset="47.8%" stop-color="#ff7070"/><stop offset="51.3%" stop-color="#ff4949"/><stop offset="53.4%" stop-color="#ff3d3d"/><stop offset="56.5%" stop-color="#ff4141"/><stop offset="60.0%" stop-color="#ff5353"/><stop offset="61.9%" stop-color="#ff6d6d"/><stop offset="65.4%" stop-color="#ffadad"/><stop offset="68.5%" stop-color="#fffcfc"/><stop offset="68.7%" stop-color="#fcfcff"/><stop offset="71.5%" stop-color="#c0c0ff"/><stop offset="75.1%" stop-color="#8686ff"/><stop offset="78.1%" stop-color="#6161ff"/><stop offset="82.1%" stop-color="#4242ff"/><stop offset="88.0%" stop-color="#2a2aff"/><stop offset="98.1%" stop-color="#2020ff"/><stop offset="100.0%" stop-color="#2020ff"/></linearGradient><linearGradient id="g63" x1="0" x2="1" y1="0" y2="0"><stop offset="0.0%" stop-color="#2f2fff"/><stop offset="15.8%" stop-color="#3636ff"/><stop offset="23.8%" stop-color="#4545ff"/><stop offset="28.9%" stop-color="#6161ff"/><stop offset="32.9%" stop-color="#8585ff"/><stop offset="36.7%" stop-color="#b4b4ff"/><stop offset="40.5%" stop-color="#f7f7ff"/><stop offset="40.9%" stop-color="#fffdfd"/><stop offset="45.6%" stop-color="#ff9393"/><stop offset="47.8%" stop-color="#ff6f6f"/><stop offset="51.3%" stop-color="#ff4848"/><stop offset="53.4%" stop-color="#ff3c3c"/><stop offset="56.2%" stop-color="#ff3f3f"/><stop offset="60.0%" stop-color="#ff5353"/><stop offset="61.9%" stop-color="#ff6d6d"/><stop offset="65.4%" stop-color="#ffadad"/><stop offset="68.5%" stop-color="#fffcfc"/><stop offset="68.7%" stop-color="#fcfcff"/><stop offset="71.5%" stop-color="#c1c1ff"/><stop offset="75.1%" stop-color="#8686ff"/><stop offset="78.1%" stop-color="#6161ff"/><stop offset="82.1%" stop-color="#4242ff"/><stop offset="88.0%" stop-color="#2a2aff"/><stop offset="98.1%" stop-color="#2020ff"/><stop offset="100.0%" stop-color="#2020ff"/></linearGradient><linearGradient id="g64" x1="0" x2="1" y1="0" y2="0"><stop offset="0.0%" stop-color="#2f2fff"/><stop offset="15.8%" stop-color="#3636ff"/><stop offset="23.8%" stop-color="#4545ff"/><stop offset="28.9%" stop-color="#6262ff"/><stop offset="32.9%" stop-color="#8585ff"/><stop offset="36.7%" stop-color="#b4b4ff"/><stop offset="40.5%" stop-color="#f7f7ff"/><stop offset="40.7%" stop-color="#fcfcff"/><stop offset="40.9%" stop-color="#fffdfd"/><stop offset="45.6%" stop-color="#ff9393"/><stop offset="47.8%" stop-color="#ff6e6e"/><stop offset="51.3%" stop-color="#ff4747"/><stop offset="53.4%" stop-color="#ff3b3b"/><stop offset="56.2%" stop-color="#ff3e3e"/><stop offset="60.0%" stop-color="#ff5252"/><stop offset="61.9%" stop-color="#ff6c6c"/><stop offset="65.4%" stop-color="#ffacac"/><stop offset="68.5%" stop-color="#fffbfb"/><stop offset="68.7%" stop-color="#fdfdff"/><stop offset="71.3%" stop-color="#c5c5ff"/><stop offset="74.8%" stop-color="#8a8aff"/><stop offset="77.9%" stop-color="#6464ff"/><stop offset="81.9%" stop-color="#4444ff"/><stop offset="87.8%" stop-color="#2a2aff"/><stop offset="96.9%" stop-color="#2121ff"/><stop offset="100.0%" stop-color="#2020ff"/></linearGradient><linearGradient id="g65" x1="0" x2="1" y1="0" y2="0"><stop offset="0.0%" stop-color="#2f2fff"/><stop offset="15.8%" stop-color="#3636ff"/><stop offset="23.8%" stop-color="#4545ff"/><stop offset="28.9%" stop-color="#6262ff"/><stop offset="32.9%" stop-color="#8585ff"/><stop offset="36.7%" stop-color="#b5b5ff"/><stop offset="40.5%" stop-color="#f8f8ff"/><stop offset="40.7%" stop-color="#fdfdff"/><stop offset="40.9%" stop-color="#fffcfc"/><stop offset="45.6%" stop-color="#ff9292"/><stop offset="47.8%" stop-color="#ff6e6e"/><stop offset="51.3%" stop-color="#ff4646"/><stop offset="53.4%" stop-color="#ff3a3a"/><stop offset="56.2%" stop-color="#ff3d3d"/><stop offset="60.0%" stop-color="#ff5151"/><stop offset="61.9%" stop-color="#ff6b6b"/><stop offset="65.4%" stop-color="#ffacac"/><stop offset="68.5%" stop-color="#fffbfb"/><stop offset="68.7%" stop-color="#fdfdff"/><stop offset="71.3%" stop-color="#c6c6ff"/><stop offset="74.8%" stop-color="#8b8bff"/><stop offset="77.9%" stop-color="#6464ff"/><stop offset="81.6%" stop-color="#4545ff"/><stop offset="87.3%" stop-color="#2c2cff"/><stop offset="93.9%" stop-color="#2222ff"/><stop offset="100.0%" stop-color="#2020ff"/></linearGradient><linearGradient id="g66" x1="0" x2="1" y1="0" y2="0"><stop offset="0.0%" stop-color="#2f2fff"/><stop offset="15.8%" stop-color="#3636ff"/><stop offset="23.8%" stop-color="#4545ff"/><stop offset="28.9%" stop-color="#6262ff"/><stop offset="32.9%" stop-color="#8585ff"/><stop offset="36.7%" stop-color="#b5b5ff"/><stop offset="40.2%" stop-color="#f3f3ff"/><stop offset="40.7%" stop-color="#fdfdff"/><stop offset="41.2%" stop-color="#fff7f7"/><stop offset="45.6%" stop-color="#ff9191"/><stop offset="47.8%" stop-color="#ff6d6d"/><stop offset="51.3%" stop-color="#ff4646"/><stop offset="53.4%" stop-color="#ff3939"/><stop offset="56.2%" stop-color="#ff3c3c"/><stop offset="60.0%" stop-color="#ff5151"/><stop offset="61.9%" stop-color="#ff6b6b"/><stop offset="65.4%" stop-color="#ffabab"/><stop offset="68.5%" stop-color="#fffafa"/><stop offset="68.7%" stop-color="#fefeff"/><stop offset="71.3%" stop-color="#c6c6ff"/><stop offset="74.8%" stop-color="#8b8bff"/><stop offset="77.9%" stop-color="#6464ff"/><stop offset="81.6%" stop-color="#4646ff"/><stop offset="87.3%" stop-color="#2c2cff"/><stop offset="93.9%" stop-color="#2222ff"/><stop offset="100.0%" stop-color="#2020ff"/></linearGradient><linearGradient id="g67" x1="0" x2="1" y1="0" y2="0"><stop offset="0.0%" stop-color="#2f2fff"/><stop offset="15.8%" stop-color="#3636ff"/><stop offset="23.5%" stop-color="#4444ff"/><stop offset="28.5%" stop-color="#5f5fff"/><stop offset="32.5%" stop-color="#8181ff"/><stop offset="36.2%" stop-color="#aeaeff"/><stop offset="39.8%" stop-color="#eaeaff"/><stop offset="40.7%" stop-color="#fefeff"/><stop offset="41.2%" stop-color="#fff6f6"/><stop offset="45.6%" stop-color="#ff9191"/><stop offset="47.8%" stop-color="#ff6c6c"/><stop offset="51.3%" stop-color="#ff4545"/><stop offset="53.4%" stop-color="#ff3838"/><stop offset="56.2%" stop-color="#ff3b3b"/><stop offset="60.0%" stop-color="#ff5050"/><stop offset="61.9%" stop-color="#ff6a6a"/><stop offset="65.4%" stop-color="#ffabab"/><stop offset="68.7%" stop-color="#fefeff"/><stop offset="71.3%" stop-color="#c7c7ff"/><stop offset="74.8%" stop-color="#8b8bff"/><stop offset="78.1%" stop-color="#6262ff"/><stop offset="82.1%" stop-color="#4343ff"/><stop offset="88.0%" stop-color="#2a2aff"/><stop offset="97.9%" stop-color="#2020ff"/><stop offset="100.0%" stop-color="#2020ff"/></linearGradient><linearGradient id="g68" x1="0" x2="1" y1="0" y2="0"><stop offset="0.0%" stop-color="#2f2fff"/><stop offset="15.8%" stop-color="#3636ff"/><stop offset="23.5%" stop-color="#4444ff"/><stop offset="28.5%" stop-color="#5f5fff"/><stop offset="32.5%" stop-color="#8181ff"/><stop offset="36.2%" stop-color="#afafff"/><stop offset="39.8%" stop-color="#ebebff"/><stop offset="40.7%" stop-color="#fefeff"/><stop offset="42.1%" stop-color="#ffe0e0"/><stop offset="45.6%" stop-color="#ff9090"/><stop offset="47.8%" stop-color="#ff6b6b"/><stop offset="51.3%" stop-color="#ff4444"/><stop offset="53.4%" stop-color="#ff3737"/><stop offset="56.2%" stop-color="#ff3a3a"/><stop offset="60.0%" stop-color="#ff4f4f"/><stop offset="61.9%" stop-color="#ff6969"/><stop offset="65.4%" stop-color="#ffaaaa"/><stop offset="68.7%" stop-color="#ffffff"/><stop offset="71.3%" stop-color="#c7c7ff"/><stop offset="74.8%" stop-color="#8b8bff"/><stop offset="78.1%" stop-color="#6262ff"/><stop offset="82.1%" stop-color="#4343ff"/><stop offset="88.0%" stop-color="#2a2aff"/><stop offset="97.9%" stop-color="#2020ff"/><stop offset="100.0%" stop-color="#2020ff"/></linearGradient><linearGradient id="g69" x1="0" x2="1" y1="0" y2="0"><stop offset="0.0%" stop-color="#2f2fff"/><stop offset="15.5%" stop-color="#3636ff"/><stop offset="23.5%" stop-color="#4444ff"/><stop offset="28.5%" stop-color="#5f5fff"/><stop offset="32.5%" stop-color="#8181ff"/><stop offset="36.2%" stop-color="#afafff"/><stop offset="39.8%" stop-color="#ebebff"/><stop offset="40.7%" stop-color="#fefeff"/><stop offset="45.6%" stop-color="#ff8f8f"/><stop offset="47.8%" stop-color="#ff6a6a"/><stop offset="51.3%" stop-color="#ff4343"/><stop offset="53.4%" stop-color="#ff3636"/><stop offset="56.2%" stop-color="#ff3939"/><stop offset="60.0%" stop-color="#ff4f4f"/><stop offset="61.9%" stop-color="#ff6969"/><stop offset="65.4%" stop-color="#ffaaaa"/><stop offset="68.7%" stop-color="#ffffff"/><stop offset="71.5%" stop-color="#c3c3ff"/><stop offset="75.1%" stop-color="#8888ff"/><stop offset="78.1%" stop-color="#6262ff"/><stop offset="82.1%" stop-color="#4343ff"/><stop offset="88.0%" stop-color="#2a2aff"/><stop offset="97.9%" stop-color="#2020ff"/><stop offset="100.0%" stop-color="#2020ff"/></linearGradient><linearGradient id="g70" x1="0" x2="1" y1="0" y2="0"><stop offset="0.0%" stop-color="#2f2fff"/><stop offset="15.5%" stop-color="#3636ff"/><stop offset="23.5%" stop-color="#4444ff"/><stop offset="28.5%" stop-color="#5f5fff"/><stop offset="32.2%" stop-color="#7f7fff"/><stop offset="36.2%" stop-color="#b0b0ff"/><stop offset="39.8%" stop-color="#ececff"/><stop offset="40.7%" stop-color="#ffffff"/><stop offset="45.6%" stop-color="#ff8e8e"/><stop offset="47.8%" stop-color="#ff6a6a"/><stop offset="51.3%" stop-color="#ff4242"/><stop offset="53.4%" stop-color="#ff3535"/><stop offset="56.2%" stop-color="#ff3838"/><stop offset="60.0%" stop-color="#ff4e4e"/><stop offset="61.9%" stop-color="#ff6868"/><stop offset="65.4%" stop-color="#ffa9a9"/><stop offset="68.7%" stop-color="#fffefe"/><stop offset="71.8%" stop-color="#bfbfff"/><stop offset="75.3%" stop-color="#8585ff"/><stop offset="78.4%" stop-color="#6060ff"/><stop offset="82.4%" stop-color="#4242ff"/><stop offset="88.2%" stop-color="#2929ff"/><stop offset="98.8%" stop-color="#2020ff"/><stop offset="100.0%" stop-color="#2020ff"/></linearGradient><linearGradient id="g71" x1="0" x2="1" y1="0" y2="0"><stop offset="0.0%" stop-color="#2f2fff"/><stop offset="15.5%" stop-color="#3636ff"/><stop offset="23.5%" stop-color="#4444ff"/><stop offset="28.5%" stop-color="#5f5fff"/><stop offset="32.2%" stop-color="#7f7fff"/><stop offset="36.2%" stop-color="#b0b0ff"/><stop offset="39.8%" stop-color="#ececff"/><stop offset="40.7%" stop-color="#ffffff"/><stop offset="45.6%" stop-color="#ff8e8e"/><stop offset="47.8%" stop-color="#ff6969"/><stop offset="51.3%" stop-color="#ff4040"/><stop offset="53.4%" stop-color="#ff3434"/><stop offset="56.2%" stop-color="#ff3737"/><stop offset="60.0%" stop-color="#ff4d4d"/><stop offset="61.9%" stop-color="#ff6767"/><stop offset="65.4%" stop-color="#ffa9a9"/><stop offset="68.7%" stop-color="#fffefe"/><stop offset="72.0%" stop-color="#bbbbff"/><stop offset="75.5%" stop-color="#8282ff"/><stop offset="78.6%" stop-color="#5e5eff"/><stop offset="82.6%" stop-color="#4040ff"/><stop offset="88.2%" stop-color="#2929ff"/><stop offset="98.8%" stop-color="#2020ff"/><stop offset="100.0%" stop-color="#2020ff"/></linearGradient><linearGradient id="g72" x1="0" x2="1" y1="0" y2="0"><stop offset="0.0%" stop-color="#2f2fff"/><stop offset="15.5%" stop-color="#3636ff"/><stop offset="23.5%" stop-color="#4444ff"/><stop offset="28.5%" stop-color="#5f5fff"/><stop offset="32.2%" stop-color="#8080ff"/><stop offset="36.2%" stop-color="#b0b0ff"/><stop offset="39.8%" stop-color="#ececff"/><stop offset="40.7%" stop-color="#fffefe"/><stop offset="45.6%" stop-color="#ff8d8d"/><stop offset="47.8%" stop-color="#ff6868"/><stop offset="51.3%" stop-color="#ff3f3f"/><stop offset="53.4%" stop-color="#ff3333"/><stop offset="56.0%" stop-color="#ff3535"/><stop offset="59.8%" stop-color="#ff4a4a"/><stop offset="61.4%" stop-color="#ff5f5f"/><stop offset="65.4%" stop-color="#ffa8a8"/><stop offset="68.7%" stop-color="#fffdfd"/><stop offset="69.2%" stop-color="#f5f5ff"/><stop offset="72.2%" stop-color="#b7b7ff"/><stop offset="75.8%" stop-color="#7f7fff"/><stop offset="78.8%" stop-color="#5c5cff"/><stop offset="83.1%" stop-color="#3e3eff"/><stop offset="88.7%" stop-color="#2828ff"/><stop offset="100.0%" stop-color="#2020ff"/></linearGradient><linearGradient id="g73" x1="0" x2="1" y1="0" y2="0"><stop offset="0.0%" stop-color="#2f2fff"/><stop offset="15.5%" stop-color="#3636ff"/><stop offset="23.5%" stop-color="#4444ff"/><stop offset="28.5%" stop-color="#6060ff"/><stop offset="32.2%" stop-color="#8080ff"/><stop offset="36.2%" stop-color="#b1b1ff"/><stop offset="39.8%" stop-color="#ededff"/><stop offset="40.7%" stop-color="#fffefe"/><stop offset="45.6%" stop-color="#ff8c8c"/><stop offset="47.8%" stop-color="#ff6767"/><stop offset="51.3%" stop-color="#ff3e3e"/><stop offset="53.4%" stop-color="#ff3232"/><stop offset="56.0%" stop-color="#ff3434"/><stop offset="59.8%" stop-color="#ff4a4a"/><stop offset="61.6%" stop-color="#ff6262"/><stop offset="65.4%" stop-color="#ffa8a8"/><stop offset="68.7%" stop-color="#fffdfd"/><stop offset="68.9%" stop-color="#fcfcff"/><stop offset="71.8%" stop-color="#c0c0ff"/><stop offset="75.3%" stop-color="#8686ff"/><stop offset="78.6%" stop-color="#5f5fff"/><stop offset="82.6%" stop-color="#4141ff"/><stop offset="88.2%" stop-color="#2929ff"/><stop offset="98.6%" stop-color="#2020ff"/><stop offset="100.0%" stop-color="#2020ff"/></linearGradient><linearGradient id="g74" x1="0" x2="1" y1="0" y2="0"><stop offset="0.0%" stop-color="#2f2fff"/><stop offset="15.5%" stop-color="#3636ff"/><stop offset="23.5%" stop-color="#4444ff"/><stop offset="28.5%" stop-color="#6060ff"/><stop offset="32.2%" stop-color="#8080ff"/><stop offset="36.2%" stop-color="#b1b1ff"/><stop offset="39.8%" stop-color="#ededff"/><stop offset="40.5%" stop-color="#fbfbff"/><stop offset="40.7%" stop-color="#fffdfd"/><stop offset="45.6%" stop-color="#ff8b8b"/><stop offset="47.8%" stop-color="#ff6666"/><stop offset="51.3%" stop-color="#ff3d3d"/><stop offset="53.4%" stop-color="#ff3131"/><stop offset="56.0%" stop-color="#ff3333"/><stop offset="59.8%" stop-color="#ff4949"/><stop offset="61.6%" stop-color="#ff6161"/><stop offset="65.4%" stop-color="#ffa7a7"/><stop offset="68.7%" stop-color="#fffcfc"/><stop offset="68.9%" stop-color="#fcfcff"/><stop offset="71.8%" stop-color="#c1c1ff"/><stop offset="75.3%" stop-color="#8686ff"/><stop offset="78.6%" stop-color="#5f5fff"/><stop offset="82.6%" stop-color="#4141ff"/><stop offset="88.2%" stop-color="#2929ff"/><stop offset="98.6%" stop-color="#2020ff"/><stop offset="100.0%" stop-color="#2020ff"/></linearGradient><linearGradient id="g75" x1="0" x2="1" y1="0" y2="0"><stop offset="0.0%" stop-color="#2f2fff"/><stop offset="15.5%" stop-color="#3636ff"/><stop offset="23.5%" stop-color="#4444ff"/><stop offset="28.5%" stop-color="#6060ff"/><stop offset="32.2%" stop-color="#8080ff"/><stop offset="36.2%" stop-color="#b1b1ff"/><stop offset="39.8%" stop-color="#eeeeff"/><stop offset="40.5%" stop-color="#fcfcff"/><stop offset="40.7%" stop-color="#fffdfd"/><stop offset="45.6%" stop-color="#ff8a8a"/><stop offset="47.8%" stop-color="#ff6565"/><stop offset="51.3%" stop-color="#ff3c3c"/><stop offset="53.4%" stop-color="#ff2f2f"/><stop offset="56.0%" stop-color="#ff3232"/><stop offset="59.8%" stop-color="#ff4848"/><stop offset="61.6%" stop-color="#ff6060"/><stop offset="65.4%" stop-color="#ffa6a6"/><stop offset="68.7%" stop-color="#fffcfc"/><stop offset="68.9%" stop-color="#fdfdff"/><stop offset="71.8%" stop-color="#c1c1ff"/><stop offset="75.3%" stop-color="#8787ff"/><stop offset="78.6%" stop-color="#5f5fff"/><stop offset="82.6%" stop-color="#4141ff"/><stop offset="88.2%" stop-color="#2929ff"/><stop offset="98.6%" stop-color="#2020ff"/><stop offset="100.0%" stop-color="#2020ff"/></linearGradient><linearGradient id="g76" x1="0" x2="1" y1="0" y2="0"><stop offset="0.0%" stop-color="#2f2fff"/><stop offset="15.5%" stop-color="#3636ff"/><stop offset="23.5%" stop-color="#4444ff"/><stop offset="28.5%" stop-color="#6060ff"/><stop offset="32.2%" stop-color="#8181ff"/><stop offset="36.2%" stop-color="#b2b2ff"/><stop offset="39.8%" stop-color="#eeeeff"/><stop offset="40.5%" stop-color="#fcfcff"/><stop offset="40.7%" stop-color="#fffcfc"/><stop offset="45.6%" stop-color="#ff8a8a"/><stop offset="47.8%" stop-color="#ff6565"/><stop offset="51.3%" stop-color="#ff3b3b"/><stop offset="53.4%" stop-color="#ff2e2e"/><stop offset="56.0%" stop-color="#ff3131"/><stop offset="59.8%" stop-color="#ff4747"/><stop offset="61.6%" stop-color="#ff6060"/><stop offset="65.4%" stop-color="#ffa6a6"/><stop offset="68.7%" stop-color="#fffbfb"/><stop offset="68.9%" stop-color="#fdfdff"/><stop offset="71.8%" stop-color="#c1c1ff"/><stop offset="75.3%" stop-color="#8787ff"/><stop offset="78.6%" stop-color="#5f5fff"/><stop offset="82.6%" stop-color="#4141ff"/><stop offset="88.2%" stop-color="#2929ff"/><stop offset="98.6%" stop-color="#2020ff"/><stop offset="100.0%" stop-color="#2020ff"/></linearGradient><linearGradient id="g77" x1="0" x2="1" y1="0" y2="0"><stop offset="0.0%" stop-color="#2f2fff"/><stop offset="15.5%" stop-color="#3636ff"/><stop offset="23.5%" stop-color="#4444ff"/><stop offset="28.5%" stop-color="#6060ff"/><stop offset="32.2%" stop-color="#8181ff"/><stop offset="36.2%" stop-color="#b2b2ff"/><stop offset="39.8%" stop-color="#eeeeff"/><stop offset="40.5%" stop-color="#fdfdff"/><stop offset="40.7%" stop-color="#fffcfc"/><stop offset="45.6%" stop-color="#ff8989"/><stop offset="47.8%" stop-color="#ff6464"/><stop offset="51.3%" stop-color="#ff3a3a"/><stop offset="53.4%" stop-color="#ff2d2d"/><stop offset="56.0%" stop-color="#ff3030"/><stop offset="59.8%" stop-color="#ff4747"/><stop offset="61.6%" stop-color="#ff5f5f"/><stop offset="65.4%" stop-color="#ffa5a5"/><stop offset="68.7%" stop-color="#fffafa"/><stop offset="68.9%" stop-color="#fefeff"/><stop offset="71.8%" stop-color="#c2c2ff"/><stop offset="75.3%" stop-color="#8787ff"/><stop offset="78.6%" stop-color="#5f5fff"/><stop offset="82.6%" stop-color="#4141ff"/><stop offset="88.2%" stop-color="#2929ff"/><stop offset="98.6%" stop-color="#2020ff"/><stop offset="100.0%" stop-color="#2020ff"/></linearGradient><linearGradient id="g78" x1="0" x2="1" y1="0" y2="0"><stop offset="0.0%" stop-color="#2f2fff"/><stop offset="15.5%" stop-color="#3636ff"/><stop offset="23.5%" stop-color="#4545ff"/><stop offset="28.5%" stop-color="#6060ff"/><stop offset="32.2%" stop-color="#8181ff"/><stop offset="36.2%" stop-color="#b3b3ff"/><stop offset="39.8%" stop-color="#efefff"/><stop offset="40.5%" stop-color="#fdfdff"/><stop offset="40.9%" stop-color="#fff6f6"/><stop offset="45.6%" stop-color="#ff8888"/><stop offset="47.5%" stop-color="#ff6666"/><stop offset="51.1%" stop-color="#ff3b3b"/><stop offset="53.2%" stop-color="#ff2d2d"/><stop offset="55.5%" stop-color="#ff2e2e"/><stop offset="59.3%" stop-color="#ff4242"/><stop offset="61.2%" stop-color="#ff5757"/><stop offset="65.2%" stop-color="#ffa0a0"/><stop offset="68.9%" stop-color="#fefeff"/><stop offset="71.8%" stop-color="#c2c2ff"/><stop offset="75.3%" stop-color="#8888ff"/><stop offset="78.6%" stop-color="#6060ff"/><stop offset="82.6%" stop-color="#4141ff"/><stop offset="88.2%" stop-color="#2a2aff"/><stop offset="98.4%" stop-color="#2020ff"/><stop offset="100.0%" stop-color="#2020ff"/></linearGradient><linearGradient id="g79" x1="0" x2="1" y1="0" y2="0"><stop offset="0.0%" stop-color="#2f2fff"/><stop offset="15.5%" stop-color="#3636ff"/><stop offset="23.5%" stop-color="#4545ff"/><stop offset="28.5%" stop-color="#6060ff"/><stop offset="32.2%" stop-color="#8181ff"/><stop offset="36.2%" stop-color="#b3b3ff"/><stop offset="39.8%" stop-color="#efefff"/><stop offset="40.5%" stop-color="#fefeff"/><stop offset="41.2%" stop-color="#fff0f0"/><stop offset="45.6%" stop-color="#ff8787"/><stop offset="47.5%" stop-color="#ff6565"/><stop offset="51.1%" stop-color="#ff3a3a"/><stop offset="53.2%" stop-color="#ff2c2c"/><stop offset="55.5%" stop-color="#ff2c2c"/><stop offset="59.3%" stop-color="#ff4141"/><stop offset="61.2%" stop-color="#ff5656"/><stop offset="65.2%" stop-color="#ff9f9f"/><stop offset="68.5%" stop-color="#fff3f3"/><stop offset="68.9%" stop-color="#ffffff"/><stop offset="71.8%" stop-color="#c3c3ff"/><stop offset="75.3%" stop-color="#8888ff"/><stop offset="78.6%" stop-color="#6060ff"/><stop offset="82.6%" stop-color="#4141ff"/><stop offset="88.2%" stop-color="#2a2aff"/><stop offset="98.4%" stop-color="#2020ff"/><stop offset="100.0%" stop-color="#2020ff"/></linearGradient><linearGradient id="g80" x1="0" x2="1" y1="0" y2="0"><stop offset="0.0%" stop-color="#2f2fff"/><stop offset="15.5%" stop-color="#3636ff"/><stop offset="23.5%" stop-color="#4545ff"/><stop offset="28.5%" stop-color="#6161ff"/><stop offset="32.2%" stop-color="#8282ff"/><stop offset="36.2%" stop-color="#b3b3ff"/><stop offset="39.8%" stop-color="#f0f0ff"/><stop offset="40.5%" stop-color="#fefeff"/><stop offset="42.8%" stop-color="#ffc7c7"/><stop offset="46.1%" stop-color="#ff7d7d"/><stop offset="48.2%" stop-color="#ff5a5a"/><stop offset="51.5%" stop-color="#ff3535"/><stop offset="53.6%" stop-color="#ff2929"/><stop offset="56.2%" stop-color="#ff2e2e"/><stop offset="60.0%" stop-color="#ff4747"/><stop offset="61.9%" stop-color="#ff6161"/><stop offset="65.4%" stop-color="#ffa4a4"/><stop offset="68.9%" stop-color="#ffffff"/><stop offset="71.8%" stop-color="#c3c3ff"/><stop offset="75.3%" stop-color="#8888ff"/><stop offset="78.6%" stop-color="#6060ff"/><stop offset="82.6%" stop-color="#4141ff"/><stop offset="88.2%" stop-color="#2a2aff"/><stop offset="98.4%" stop-color="#2020ff"/><stop offset="100.0%" stop-color="#2020ff"/></linearGradient><linearGradient id="g81" x1="0" x2="1" y1="0" y2="0"><stop offset="0.0%" stop-color="#2f2fff"/><stop offset="15.5%" stop-color="#3636ff"/><stop offset="23.5%" stop-color="#4545ff"/><stop offset="28.5%" stop-color="#6161ff"/><stop offset="32.2%" stop-color="#8282ff"/><stop offset="36.2%" stop-color="#b4b4ff"/><stop offset="39.8%" stop-color="#f0f0ff"/><stop offset="40.5%" stop-color="#ffffff"/><stop offset="45.6%" stop-color="#ff8686"/><stop offset="47.5%" stop-color="#ff6464"/><stop offset="51.1%" stop-color="#ff3838"/><stop offset="53.2%" stop-color="#ff2929"/><stop offset="55.5%" stop-color="#ff2a2a"/><stop offset="59.3%" stop-color="#ff4040"/><stop offset="61.2%" stop-color="#ff5555"/><stop offset="64.9%" stop-color="#ff9999"/><stop offset="67.1%" stop-color="#ffcdcd"/><stop offset="68.9%" stop-color="#fffefe"/><stop offset="72.0%" stop-color="#bfbfff"/><stop offset="75.5%" stop-color="#8585ff"/><stop offset="78.8%" stop-color="#5e5eff"/><stop offset="83.1%" stop-color="#3f3fff"/><stop offset="88.7%" stop-color="#2828ff"/><stop offset="99.8%" stop-color="#2020ff"/><stop offset="100.0%" stop-color="#2020ff"/></linearGradient><linearGradient id="g82" x1="0" x2="1" y1="0" y2="0"><stop offset="0.0%" stop-color="#2f2fff"/><stop offset="15.5%" stop-color="#3636ff"/><stop offset="23.3%" stop-color="#4444ff"/><stop offset="28.2%" stop-color="#5f5fff"/><stop offset="32.0%" stop-color="#8080ff"/><stop offset="36.0%" stop-color="#b1b1ff"/><stop offset="39.5%" stop-color="#ececff"/><stop offset="40.5%" stop-color="#ffffff"/><stop offset="45.6%" stop-color="#ff8585"/><stop offset="47.5%" stop-color="#ff6363"/><stop offset="51.1%" stop-color="#ff3737"/><stop offset="53.2%" stop-color="#ff2828"/><stop offset="55.5%" stop-color="#ff2929"/><stop offset="59.3%" stop-color="#ff3f3f"/><stop offset="61.2%" stop-color="#ff5454"/><stop offset="64.9%" stop-color="#ff9999"/><stop offset="67.1%" stop-color="#ffcccc"/><stop offset="68.9%" stop-color="#fffefe"/><stop offset="72.2%" stop-color="#bbbbff"/><stop offset="75.8%" stop-color="#8282ff"/><stop offset="79.1%" stop-color="#5c5cff"/><stop offset="83.3%" stop-color="#3e3eff"/><stop offset="88.9%" stop-color="#2828ff"/><stop offset="100.0%" stop-color="#2020ff"/></linearGradient><linearGradient id="g83" x1="0" x2="1" y1="0" y2="0"><stop offset="0.0%" stop-color="#2f2fff"/><stop offset="15.5%" stop-color="#3636ff"/><stop offset="23.3%" stop-color="#4444ff"/><stop offset="28.2%" stop-color="#5f5fff"/><stop offset="32.0%" stop-color="#8080ff"/><stop offset="36.0%" stop-color="#b1b1ff"/><stop offset="39.5%" stop-color="#ececff"/><stop offset="40.5%" stop-color="#fffefe"/><stop offset="45.6%" stop-color="#ff8484"/><stop offset="47.5%" stop-color="#ff6262"/><stop offset="51.1%" stop-color="#ff3636"/><stop offset="53.2%" stop-color="#ff2727"/><stop offset="55.5%" stop-color="#ff2828"/><stop offset="59.1%" stop-color="#ff3c3c"/><stop offset="60.9%" stop-color="#ff5050"/><stop offset="64.2%" stop-color="#ff8a8a"/><stop offset="66.1%" stop-color="#ffb3b3"/><stop offset="68.9%" stop-color="#fffdfd"/><stop offset="69.4%" stop-color="#f5f5ff"/><stop offset="72.5%" stop-color="#b7b7ff"/><stop offset="76.0%" stop-color="#7f7fff"/><stop offset="79.3%" stop-color="#5a5aff"/><stop offset="83.5%" stop-color="#3c3cff"/><stop offset="88.9%" stop-color="#2828ff"/><stop offset="100.0%" stop-color="#2020ff"/></linearGradient><linearGradient id="g84" x1="0" x2="1" y1="0" y2="0"><stop offset="0.0%" stop-color="#2f2fff"/><stop offset="15.5%" stop-color="#3636ff"/><stop offset="23.3%" stop-color="#4444ff"/><stop offset="28.2%" stop-color="#5f5fff"/><stop offset="32.0%" stop-color="#8080ff"/><stop offset="36.0%" stop-color="#b2b2ff"/><stop offset="39.5%" stop-color="#ededff"/><stop offset="40.5%" stop-color="#fffefe"/><stop offset="45.6%" stop-color="#ff8383"/><stop offset="47.5%" stop-color="#ff6161"/><stop offset="51.1%" stop-color="#ff3535"/><stop offset="53.2%" stop-color="#ff2626"/><stop offset="55.5%" stop-color="#ff2727"/><stop offset="59.1%" stop-color="#ff3c3c"/><stop offset="60.9%" stop-color="#ff4f4f"/><stop offset="64.2%" stop-color="#ff8a8a"/><stop offset="66.1%" stop-color="#ffb2b2"/><stop offset="68.9%" stop-color="#fffdfd"/><stop offset="69.2%" stop-color="#fcfcff"/><stop offset="72.0%" stop-color="#c0c0ff"/><stop offset="75.5%" stop-color="#8686ff"/><stop offset="78.8%" stop-color="#5f5fff"/><stop offset="83.1%" stop-color="#3f3fff"/><stop offset="88.7%" stop-color="#2929ff"/><stop offset="99.5%" stop-color="#2020ff"/><stop offset="100.0%" stop-color="#2020ff"/></linearGradient><linearGradient id="g85" x1="0" x2="1" y1="0" y2="0"><stop offset="0.0%" stop-color="#2f2fff"/><stop offset="15.5%" stop-color="#3636ff"/><stop offset="23.3%" stop-color="#4444ff"/><stop offset="28.2%" stop-color="#6060ff"/><stop offset="32.0%" stop-color="#8181ff"/><stop offset="36.0%" stop-color="#b2b2ff"/><stop offset="39.5%" stop-color="#ededff"/><stop offset="40.5%" stop-color="#fffefe"/><stop offset="45.4%" stop-color="#ff8787"/><stop offset="47.3%" stop-color="#ff6363"/><stop offset="50.8%" stop-color="#ff3636"/><stop offset="52.9%" stop-color="#ff2626"/><stop offset="55.1%" stop-color="#ff2424"/><stop offset="58.4%" stop-color="#ff3535"/><stop offset="60.7%" stop-color="#ff4b4b"/><stop offset="63.3%" stop-color="#ff7777"/><stop offset="65.9%" stop-color="#ffacac"/><stop offset="68.9%" stop-color="#fffcfc"/><stop offset="69.2%" stop-color="#fcfcff"/><stop offset="72.0%" stop-color="#c1c1ff"/><stop offset="75.5%" stop-color="#8787ff"/><stop offset="78.8%" stop-color="#5f5fff"/><stop offset="83.1%" stop-color="#3f3fff"/><stop offset="88.7%" stop-color="#2929ff"/><stop offset="99.5%" stop-color="#2020ff"/><stop offset="100.0%" stop-color="#2020ff"/></linearGradient><linearGradient id="g86" x1="0" x2="1" y1="0" y2="0"><stop offset="0.0%" stop-color="#2f2fff"/><stop offset="15.5%" stop-color="#3636ff"/><stop offset="23.3%" stop-color="#4444ff"/><stop offset="28.2%" stop-color="#6060ff"/><stop offset="31.8%" stop-color="#7e7eff"/><stop offset="35.8%" stop-color="#afafff"/><stop offset="39.3%" stop-color="#e9e9ff"/><stop offset="40.2%" stop-color="#fcfcff"/><stop offset="40.5%" stop-color="#fffdfd"/><stop offset="45.4%" stop-color="#ff8686"/><stop offset="47.3%" stop-color="#ff6262"/><stop offset="51.1%" stop-color="#ff3333"/><stop offset="53.2%" stop-color="#ff2424"/><stop offset="55.3%" stop-color="#ff2424"/><stop offset="58.6%" stop-color="#ff3636"/><stop offset="60.7%" stop-color="#ff4a4a"/><stop offset="63.3%" stop-color="#ff7676"/><stop offset="65.9%" stop-color="#ffabab"/><stop offset="68.9%" stop-color="#fffbfb"/><stop offset="69.2%" stop-color="#fdfdff"/><stop offset="72.0%" stop-color="#c1c1ff"/><stop offset="75.5%" stop-color="#8787ff"/><stop offset="78.8%" stop-color="#5f5fff"/><stop offset="83.1%" stop-color="#3f3fff"/><stop offset="88.7%" stop-color="#2929ff"/><stop offset="99.5%" stop-color="#2020ff"/><stop offset="100.0%" stop-color="#2020ff"/></linearGradient><linearGradient id="g87" x1="0" x2="1" y1="0" y2="0"><stop offset="0.0%" stop-color="#2f2fff"/><stop offset="15.5%" stop-color="#3636ff"/><stop offset="23.3%" stop-color="#4444ff"/><stop offset="28.2%" stop-color="#6060ff"/><stop offset="31.8%" stop-color="#7f7fff"/><stop offset="35.8%" stop-color="#b0b0ff"/><stop offset="39.3%" stop-color="#eaeaff"/><stop offset="40.2%" stop-color="#fcfcff"/><stop offset="40.5%" stop-color="#fffdfd"/><stop offset="45.4%" stop-color="#ff8686"/><stop offset="47.3%" stop-color="#ff6262"/><stop offset="51.1%" stop-color="#ff3232"/><stop offset="53.2%" stop-color="#ff2222"/><stop offset="55.3%" stop-color="#ff2323"/><stop offset="58.6%" stop-color="#ff3535"/><stop offset="60.9%" stop-color="#ff4c4c"/><stop offset="64.0%" stop-color="#ff8383"/><stop offset="66.1%" stop-color="#ffb1b1"/><stop offset="68.9%" stop-color="#fffbfb"/><stop offset="69.2%" stop-color="#fdfdff"/><stop offset="72.0%" stop-color="#c2c2ff"/><stop offset="75.5%" stop-color="#8787ff"/><stop offset="78.8%" stop-color="#5f5fff"/><stop offset="83.1%" stop-color="#3f3fff"/><stop offset="88.7%" stop-color="#2929ff"/><stop offset="99.5%" stop-color="#2020ff"/><stop offset="100.0%" stop-color="#2020ff"/></linearGradient><linearGradient id="g88" x1="0" x2="1" y1="0" y2="0"><stop offset="0.0%" stop-color="#2f2fff"/><stop offset="15.5%" stop-color="#3636ff"/><stop offset="23.3%" stop-color="#4444ff"/><stop offset="28.2%" stop-color="#6060ff"/><stop offset="31.8%" stop-color="#7f7fff"/><stop offset="35.8%" stop-color="#b0b0ff"/><stop offset="39.3%" stop-color="#eaeaff"/><stop offset="40.2%" stop-color="#fdfdff"/><stop offset="40.5%" stop-color="#fffcfc"/><stop offset="45.4%" stop-color="#ff8585"/><stop offset="47.3%" stop-color="#ff6161"/><stop offset="51.1%" stop-color="#ff3030"/><stop offset="53.2%" stop-color="#ff2121"/><stop offset="55.3%" stop-color="#ff2121"/><stop offset="58.6%" stop-color="#ff3434"/><stop offset="60.9%" stop-color="#ff4c4c"/><stop offset="64.0%" stop-color="#ff8282"/><stop offset="66.1%" stop-color="#ffb0b0"/><stop offset="68.9%" stop-color="#fffafa"/><stop offset="69.2%" stop-color="#fefeff"/><stop offset="72.0%" stop-color="#c2c2ff"/><stop offset="75.5%" stop-color="#8888ff"/><stop offset="78.8%" stop-color="#5f5fff"/><stop offset="82.8%" stop-color="#4141ff"/><stop offset="88.5%" stop-color="#2929ff"/><stop offset="98.8%" stop-color="#2020ff"/><stop offset="100.0%" stop-color="#2020ff"/></linearGradient><linearGradient id="g89" x1="0" x2="1" y1="0" y2="0"><stop offset="0.0%" stop-color="#2f2fff"/><stop offset="15.5%" stop-color="#3636ff"/><stop offset="23.3%" stop-color="#4444ff"/><stop offset="28.2%" stop-color="#6060ff"/><stop offset="31.8%" stop-color="#7f7fff"/><stop offset="35.8%" stop-color="#b0b0ff"/><stop offset="39.3%" stop-color="#eaeaff"/><stop offset="40.2%" stop-color="#fdfdff"/><stop offset="40.7%" stop-color="#fff6f6"/><stop offset="45.2%" stop-color="#ff8989"/><stop offset="47.3%" stop-color="#ff6060"/><stop offset="51.1%" stop-color="#ff2f2f"/><stop offset="53.2%" stop-color="#ff2020"/><stop offset="55.3%" stop-color="#ff2020"/><stop offset="58.6%" stop-color="#ff3434"/><stop offset="60.9%" stop-color="#ff4b4b"/><stop offset="64.0%" stop-color="#ff8282"/><stop offset="66.1%" stop-color="#ffafaf"/><stop offset="69.2%" stop-color="#fefeff"/><stop offset="72.0%" stop-color="#c3c3ff"/><stop offset="75.5%" stop-color="#8888ff"/><stop offset="78.8%" stop-color="#6060ff"/><stop offset="82.8%" stop-color="#4141ff"/><stop offset="88.5%" stop-color="#2929ff"/><stop offset="98.8%" stop-color="#2020ff"/><stop offset="100.0%" stop-color="#2020ff"/></linearGradient><linearGradient id="g90" x1="0" x2="1" y1="0" y2="0"><stop offset="0.0%" stop-color="#2f2fff"/><stop offset="15.5%" stop-color="#3636ff"/><stop offset="23.3%" stop-color="#4444ff"/><stop offset="28.2%" stop-color="#6060ff"/><stop offset="31.8%" stop-color="#7f7fff"/><stop offset="35.8%" stop-color="#b1b1ff"/><stop offset="39.3%" stop-color="#ebebff"/><stop offset="40.2%" stop-color="#fefeff"/><stop offset="40.7%" stop-color="#fff6f6"/><stop offset="45.2%" stop-color="#ff8888"/><stop offset="47.3%" stop-color="#ff5f5f"/><stop offset="51.1%" stop-color="#ff2e2e"/><stop offset="53.2%" stop-color="#ff1f1f"/><stop offset="55.3%" stop-color="#ff1f1f"/><stop offset="58.6%" stop-color="#ff3333"/><stop offset="60.9%" stop-color="#ff4a4a"/><stop offset="63.8%" stop-color="#ff7c7c"/><stop offset="66.1%" stop-color="#ffafaf"/><stop offset="69.2%" stop-color="#ffffff"/><stop offset="72.0%" stop-color="#c3c3ff"/><stop offset="75.5%" stop-color="#8888ff"/><stop offset="78.8%" stop-color="#6060ff"/><stop offset="82.8%" stop-color="#4141ff"/><stop offset="88.5%" stop-color="#2929ff"/><stop offset="98.8%" stop-color="#2020ff"/><stop offset="100.0%" stop-color="#2020ff"/></linearGradient><linearGradient id="g91" x1="0" x2="1" y1="0" y2="0"><stop offset="0.0%" stop-color="#2f2fff"/><stop offset="15.5%" stop-color="#3636ff"/><stop offset="23.3%" stop-color="#4444ff"/><stop offset="28.2%" stop-color="#6161ff"/><stop offset="31.8%" stop-color="#8080ff"/><stop offset="35.8%" stop-color="#b1b1ff"/><stop offset="39.3%" stop-color="#ebebff"/><stop offset="40.2%" stop-color="#fefeff"/><stop offset="41.6%" stop-color="#ffdede"/><stop offset="45.6%" stop-color="#ff7d7d"/><stop offset="47.5%" stop-color="#ff5a5a"/><stop offset="51.1%" stop-color="#ff2d2d"/><stop offset="53.2%" stop-color="#ff1d1d"/><stop offset="55.3%" stop-color="#ff1e1e"/><stop offset="58.6%" stop-color="#ff3232"/><stop offset="60.9%" stop-color="#ff4949"/><stop offset="63.8%" stop-color="#ff7c7c"/><stop offset="66.1%" stop-color="#ffaeae"/><stop offset="69.2%" stop-color="#ffffff"/><stop offset="72.2%" stop-color="#bfbfff"/><stop offset="75.8%" stop-color="#8585ff"/><stop offset="79.1%" stop-color="#5e5eff"/><stop offset="83.3%" stop-color="#3e3eff"/><stop offset="88.9%" stop-color="#2828ff"/><stop offset="100.0%" stop-color="#2020ff"/></linearGradient><linearGradient id="g92" x1="0" x2="1" y1="0" y2="0"><stop offset="0.0%" stop-color="#2f2fff"/><stop offset="15.5%" stop-color="#3636ff"/><stop offset="23.3%" stop-color="#4444ff"/><stop offset="28.2%" stop-color="#6161ff"/><stop offset="31.8%" stop-color="#8080ff"/><stop offset="35.8%" stop-color="#b2b2ff"/><stop offset="39.3%" stop-color="#ececff"/><stop offset="40.2%" stop-color="#ffffff"/><stop offset="45.6%" stop-color="#ff7c7c"/><stop offset="47.5%" stop-color="#ff5959"/><stop offset="51.1%" stop-color="#ff2c2c"/><stop offset="53.2%" stop-color="#ff1c1c"/><stop offset="55.3%" stop-color="#ff1d1d"/><stop offset="58.4%" stop-color="#ff2f2f"/><stop offset="60.9%" stop-color="#ff4848"/><stop offset="63.8%" stop-color="#ff7b7b"/><stop offset="66.1%" stop-color="#ffaeae"/><stop offset="69.2%" stop-color="#fffefe"/><stop offset="72.5%" stop-color="#bbbbff"/><stop offset="75.8%" stop-color="#8686ff"/><stop offset="79.1%" stop-color="#5e5eff"/><stop offset="83.3%" stop-color="#3e3eff"/><stop offset="88.9%" stop-color="#2828ff"/><stop offset="100.0%" stop-color="#2020ff"/></linearGradient><linearGradient id="g93" x1="0" x2="1" y1="0" y2="0"><stop offset="0.0%" stop-color="#2f2fff"/><stop offset="15.5%" stop-color="#3636ff"/><stop offset="23.3%" stop-color="#4444ff"/><stop offset="28.2%" stop-color="#6161ff"/><stop offset="31.8%" stop-color="#8080ff"/><stop offset="35.8%" stop-color="#b2b2ff"/><stop offset="39.3%" stop-color="#ececff"/><stop offset="40.2%" stop-color="#ffffff"/><stop offset="45.4%" stop-color="#ff8080"/><stop offset="47.3%" stop-color="#ff5c5c"/><stop offset="51.1%" stop-color="#ff2b2b"/><stop offset="53.2%" stop-color="#ff1b1b"/><stop offset="55.3%" stop-color="#ff1b1b"/><stop offset="58.4%" stop-color="#ff2e2e"/><stop offset="60.9%" stop-color="#ff4848"/><stop offset="63.8%" stop-color="#ff7a7a"/><stop offset="66.1%" stop-color="#ffadad"/><stop offset="69.2%" stop-color="#fffdfd"/><stop offset="69.9%" stop-color="#f0f0ff"/><stop offset="72.9%" stop-color="#b3b3ff"/><stop offset="76.2%" stop-color="#8080ff"/><stop offset="79.3%" stop-color="#5c5cff"/><stop offset="83.5%" stop-color="#3d3dff"/><stop offset="88.9%" stop-color="#2828ff"/><stop offset="100.0%" stop-color="#2020ff"/></linearGradient><linearGradient id="g94" x1="0" x2="1" y1="0" y2="0"><stop offset="0.0%" stop-color="#2f2fff"/><stop offset="15.5%" stop-color="#3636ff"/><stop offset="23.3%" stop-color="#4444ff"/><stop offset="28.2%" stop-color="#6161ff"/><stop offset="31.8%" stop-color="#8181ff"/><stop offset="35.8%" stop-color="#b3b3ff"/><stop offset="39.3%" stop-color="#ededff"/><stop offset="40.2%" stop-color="#ffffff"/><stop offset="45.4%" stop-color="#ff8080"/><stop offset="47.3%" stop-color="#ff5b5b"/><stop offset="51.1%" stop-color="#ff2a2a"/><stop offset="53.2%" stop-color="#ff1a1a"/><stop offset="55.3%" stop-color="#ff1a1a"/><stop offset="58.4%" stop-color="#ff2d2d"/><stop offset="60.9%" stop-color="#ff4747"/><stop offset="63.8%" stop-color="#ff7a7a"/><stop offset="66.4%" stop-color="#ffb2b2"/><stop offset="69.2%" stop-color="#fffdfd"/><stop offset="69.4%" stop-color="#fbfbff"/><stop offset="72.2%" stop-color="#c0c0ff"/><stop offset="75.8%" stop-color="#8686ff"/><stop offset="79.1%" stop-color="#5e5eff"/><stop offset="83.3%" stop-color="#3f3fff"/><stop offset="88.9%" stop-color="#2828ff"/><stop offset="100.0%" stop-color="#2020ff"/></linearGradient><linearGradient id="g95" x1="0" x2="1" y1="0" y2="0"><stop offset="0.0%" stop-color="#2f2fff"/><stop offset="15.5%" stop-color="#3636ff"/><stop offset="23.3%" stop-color="#4444ff"/><stop offset="28.2%" stop-color="#6161ff"/><stop offset="31.8%" stop-color="#8181ff"/><stop offset="35.8%" stop-color="#b3b3ff"/><stop offset="39.3%" stop-color="#ededff"/><stop offset="40.2%" stop-color="#fffefe"/><stop offset="45.4%" stop-color="#ff7f7f"/><stop offset="47.3%" stop-color="#ff5a5a"/><stop offset="51.1%" stop-color="#ff2828"/><stop offset="53.2%" stop-color="#ff1919"/><stop offset="55.3%" stop-color="#ff1919"/><stop offset="58.4%" stop-color="#ff2c2c"/><stop offset="60.9%" stop-color="#ff4646"/><stop offset="63.5%" stop-color="#ff7474"/><stop offset="66.1%" stop-color="#ffacac"/><stop offset="69.2%" stop-color="#fffcfc"/><stop offset="69.4%" stop-color="#fcfcff"/><stop offset="72.2%" stop-color="#c1c1ff"/><stop offset="75.5%" stop-color="#8a8aff"/><stop offset="78.8%" stop-color="#6161ff"/><stop offset="82.8%" stop-color="#4141ff"/><stop offset="88.5%" stop-color="#2929ff"/><stop offset="98.6%" stop-color="#2020ff"/><stop offset="100.0%" stop-color="#2020ff"/></linearGradient><linearGradient id="g96" x1="0" x2="1" y1="0" y2="0"><stop offset="0.0%" stop-color="#2f2fff"/><stop offset="15.5%" stop-color="#3636ff"/><stop offset="23.3%" stop-color="#4444ff"/><stop offset="28.2%" stop-color="#6161ff"/><stop offset="31.8%" stop-color="#8181ff"/><stop offset="35.8%" stop-color="#b3b3ff"/><stop offset="39.5%" stop-color="#f2f2ff"/><stop offset="40.2%" stop-color="#fffefe"/><stop offset="45.4%" stop-color="#ff7e7e"/><stop offset="47.3%" stop-color="#ff5959"/><stop offset="51.1%" stop-color="#ff2727"/><stop offset="53.2%" stop-color="#ff1717"/><stop offset="55.3%" stop-color="#ff1818"/><stop offset="58.4%" stop-color="#ff2b2b"/><stop offset="60.9%" stop-color="#ff4545"/><stop offset="63.5%" stop-color="#ff7474"/><stop offset="66.1%" stop-color="#ffabab"/><stop offset="69.2%" stop-color="#fffcfc"/><stop offset="69.4%" stop-color="#fcfcff"/><stop offset="72.2%" stop-color="#c1c1ff"/><stop offset="75.5%" stop-color="#8a8aff"/><stop offset="78.8%" stop-color="#6161ff"/><stop offset="82.8%" stop-color="#4242ff"/><stop offset="88.5%" stop-color="#2929ff"/><stop offset="98.6%" stop-color="#2020ff"/><stop offset="100.0%" stop-color="#2020ff"/></linearGradient><linearGradient id="g97" x1="0" x2="1" y1="0" y2="0"><stop offset="0.0%" stop-color="#2f2fff"/><stop offset="15.5%" stop-color="#3636ff"/><stop offset="23.3%" stop-color="#4444ff"/><stop offset="28.2%" stop-color="#6161ff"/><stop offset="31.8%" stop-color="#8181ff"/><stop offset="35.8%" stop-color="#b4b4ff"/><stop offset="39.5%" stop-color="#f2f2ff"/><stop offset="40.0%" stop-color="#fcfcff"/><stop offset="40.2%" stop-color="#fffdfd"/><stop offset="45.2%" stop-color="#ff8282"/><stop offset="47.1%" stop-color="#ff5c5c"/><stop offset="50.8%" stop-color="#ff2929"/><stop offset="52.9%" stop-color="#ff1717"/><stop offset="54.8%" stop-color="#ff1515"/><stop offset="57.6%" stop-color="#ff2424"/><stop offset="60.7%" stop-color="#ff4141"/><stop offset="63.1%" stop-color="#ff6a6a"/><stop offset="66.1%" stop-color="#ffaaaa"/><stop offset="69.2%" stop-color="#fffbfb"/><stop offset="69.4%" stop-color="#fdfdff"/><stop offset="72.2%" stop-color="#c2c2ff"/><stop offset="75.5%" stop-color="#8b8bff"/><stop offset="78.8%" stop-color="#6161ff"/><stop offset="82.8%" stop-color="#4242ff"/><stop offset="88.5%" stop-color="#2a2aff"/><stop offset="98.6%" stop-color="#2020ff"/><stop offset="100.0%" stop-color="#2020ff"/></linearGradient><linearGradient id="g98" x1="0" x2="1" y1="0" y2="0"><stop offset="0.0%" stop-color="#2f2fff"/><stop offset="15.5%" stop-color="#3636ff"/><stop offset="23.3%" stop-color="#4545ff"/><stop offset="28.2%" stop-color="#6262ff"/><stop offset="31.5%" stop-color="#7f7fff"/><stop offset="35.8%" stop-color="#b4b4ff"/><stop offset="39.5%" stop-color="#f3f3ff"/><stop offset="40.0%" stop-color="#fcfcff"/><stop offset="40.2%" stop-color="#fffdfd"/><stop offset="45.2%" stop-color="#ff8181"/><stop offset="47.1%" stop-color="#ff5b5b"/><stop offset="50.8%" stop-color="#ff2727"/><stop offset="52.9%" stop-color="#ff1616"/><stop offset="54.8%" stop-color="#ff1414"/><stop offset="57.6%" stop-color="#ff2323"/><stop offset="60.7%" stop-color="#ff4040"/><stop offset="63.1%" stop-color="#ff6969"/><stop offset="66.1%" stop-color="#ffaaaa"/><stop offset="69.2%" stop-color="#fffbfb"/><stop offset="69.4%" stop-color="#fefeff"/><stop offset="72.2%" stop-color="#c2c2ff"/><stop offset="75.5%" stop-color="#8b8bff"/><stop offset="78.8%" stop-color="#6262ff"/><stop offset="82.8%" stop-color="#4242ff"/><stop offset="88.5%" stop-color="#2a2aff"/><stop offset="98.6%" stop-color="#2020ff"/><stop offset="100.0%" stop-color="#2020ff"/></linearGradient><linearGradient id="g99" x1="0" x2="1" y1="0" y2="0"><stop offset="0.0%" stop-color="#2f2fff"/><stop offset="15.5%" stop-color="#3636ff"/><stop offset="23.3%" stop-color="#4545ff"/><stop offset="28.2%" stop-color="#6262ff"/><stop offset="31.5%" stop-color="#7f7fff"/><stop offset="35.8%" stop-color="#b5b5ff"/><stop offset="39.5%" stop-color="#f3f3ff"/><stop offset="40.0%" stop-color="#fdfdff"/><stop offset="40.2%" stop-color="#fffcfc"/><stop offset="45.2%" stop-color="#ff8181"/><stop offset="47.1%" stop-color="#ff5a5a"/><stop offset="50.8%" stop-color="#ff2626"/><stop offset="52.9%" stop-color="#ff1515"/><stop offset="54.8%" stop-color="#ff1313"/><stop offset="57.6%" stop-color="#ff2222"/><stop offset="60.9%" stop-color="#ff4343"/><stop offset="63.5%" stop-color="#ff7171"/><stop offset="66.4%" stop-color="#ffafaf"/><stop offset="69.4%" stop-color="#fefeff"/><stop offset="72.2%" stop-color="#c3c3ff"/><stop offset="75.5%" stop-color="#8c8cff"/><stop offset="78.8%" stop-color="#6262ff"/><stop offset="82.8%" stop-color="#4242ff"/><stop offset="88.5%" stop-color="#2a2aff"/><stop offset="98.4%" stop-color="#2020ff"/><stop offset="100.0%" stop-color="#2020ff"/></linearGradient><linearGradient id="g100" x1="0" x2="1" y1="0" y2="0"><stop offset="0.0%" stop-color="#2f2fff"/><stop offset="15.5%" stop-color="#3636ff"/><stop offset="23.3%" stop-color="#4545ff"/><stop offset="28.2%" stop-color="#6262ff"/><stop offset="31.5%" stop-color="#8080ff"/><stop offset="35.8%" stop-color="#b5b5ff"/><stop offset="39.5%" stop-color="#f4f4ff"/><stop offset="40.0%" stop-color="#fdfdff"/><stop offset="40.5%" stop-color="#fff6f6"/><stop offset="44.9%" stop-color="#ff8585"/><stop offset="47.1%" stop-color="#ff5959"/><stop offset="50.8%" stop-color="#ff2525"/><stop offset="52.9%" stop-color="#ff1313"/><stop offset="54.8%" stop-color="#ff1111"/><stop offset="57.4%" stop-color="#ff1f1f"/><stop offset="60.7%" stop-color="#ff3f3f"/><stop offset="63.1%" stop-color="#ff6767"/><stop offset="66.1%" stop-color="#ffa9a9"/><stop offset="69.4%" stop-color="#ffffff"/><stop offset="72.2%" stop-color="#c3c3ff"/><stop offset="75.5%" stop-color="#8c8cff"/><stop offset="78.8%" stop-color="#6262ff"/><stop offset="82.8%" stop-color="#4242ff"/><stop offset="88.5%" stop-color="#2a2aff"/><stop offset="98.4%" stop-color="#2020ff"/><stop offset="100.0%" stop-color="#2020ff"/></linearGradient><linearGradient id="g101" x1="0" x2="1" y1="0" y2="0"><stop offset="0.0%" stop-color="#2f2fff"/><stop offset="15.5%" stop-color="#3636ff"/><stop offset="23.3%" stop-color="#4545ff"/><stop offset="28.2%" stop-color="#6262ff"/><stop offset="31.5%" stop-color="#8080ff"/><stop offset="35.8%" stop-color="#b6b6ff"/><stop offset="39.5%" stop-color="#f4f4ff"/><stop offset="40.0%" stop-color="#fefeff"/><stop offset="40.7%" stop-color="#fff0f0"/><stop offset="44.7%" stop-color="#ff8a8a"/><stop offset="46.8%" stop-color="#ff5c5c"/><stop offset="50.8%" stop-color="#ff2424"/><stop offset="52.9%" stop-color="#ff1212"/><stop offset="54.8%" stop-color="#ff1010"/><stop offset="57.4%" stop-color="#ff1e1e"/><stop offset="60.9%" stop-color="#ff4141"/><stop offset="63.3%" stop-color="#ff6b6b"/><stop offset="66.4%" stop-color="#ffaeae"/><stop offset="69.4%" stop-color="#ffffff"/><stop offset="72.5%" stop-color="#bfbfff"/><stop offset="75.8%" stop-color="#8989ff"/><stop offset="79.1%" stop-color="#6060ff"/><stop offset="83.1%" stop-color="#4141ff"/><stop offset="88.7%" stop-color="#2929ff"/><stop offset="99.1%" stop-color="#2020ff"/><stop offset="100.0%" stop-color="#2020ff"/></linearGradient><linearGradient id="g102" x1="0" x2="1" y1="0" y2="0"><stop offset="0.0%" stop-color="#2f2fff"/><stop offset="15.5%" stop-color="#3636ff"/><stop offset="23.3%" stop-color="#4545ff"/><stop offset="28.2%" stop-color="#6262ff"/><stop offset="31.5%" stop-color="#8080ff"/><stop offset="35.8%" stop-color="#b6b6ff"/><stop offset="39.5%" stop-color="#f5f5ff"/><stop offset="40.0%" stop-color="#fefeff"/><stop offset="41.4%" stop-color="#ffdddd"/><stop offset="44.9%" stop-color="#ff8484"/><stop offset="47.1%" stop-color="#ff5757"/><stop offset="51.1%" stop-color="#ff2020"/><stop offset="53.2%" stop-color="#ff1010"/><stop offset="55.1%" stop-color="#ff1010"/><stop offset="57.9%" stop-color="#ff2121"/><stop offset="60.9%" stop-color="#ff4040"/><stop offset="63.3%" stop-color="#ff6a6a"/><stop offset="66.4%" stop-color="#ffadad"/><stop offset="69.4%" stop-color="#fffefe"/><stop offset="72.7%" stop-color="#bbbbff"/><stop offset="76.0%" stop-color="#8686ff"/><stop offset="79.3%" stop-color="#5e5eff"/><stop offset="83.3%" stop-color="#3f3fff"/><stop offset="88.9%" stop-color="#2828ff"/><stop offset="99.8%" stop-color="#2020ff"/><stop offset="100.0%" stop-color="#2020ff"/></linearGradient><linearGradient id="g103" x1="0" x2="1" y1="0" y2="0"><stop offset="0.0%" stop-color="#2f2fff"/><stop offset="15.5%" stop-color="#3636ff"/><stop offset="23.3%" stop-color="#4545ff"/><stop offset="28.2%" stop-color="#6262ff"/><stop offset="31.5%" stop-color="#8181ff"/><stop offset="35.8%" stop-color="#b6b6ff"/><stop offset="39.5%" stop-color="#f5f5ff"/><stop offset="40.0%" stop-color="#ffffff"/><stop offset="42.1%" stop-color="#ffc9c9"/><stop offset="46.1%" stop-color="#ff6868"/><stop offset="48.0%" stop-color="#ff4848"/><stop offset="51.3%" stop-color="#ff1c1c"/><stop offset="53.4%" stop-color="#ff0e0e"/><stop offset="55.5%" stop-color="#ff1010"/><stop offset="58.6%" stop-color="#ff2626"/><stop offset="61.2%" stop-color="#ff4343"/><stop offset="63.8%" stop-color="#ff7373"/><stop offset="66.6%" stop-color="#ffb2b2"/><stop offset="69.4%" stop-color="#fffdfd"/><stop offset="70.1%" stop-color="#f0f0ff"/><stop offset="73.2%" stop-color="#b3b3ff"/><stop offset="76.5%" stop-color="#8080ff"/><stop offset="79.5%" stop-color="#5c5cff"/><stop offset="83.5%" stop-color="#3e3eff"/><stop offset="89.2%" stop-color="#2828ff"/><stop offset="100.0%" stop-color="#2020ff"/></linearGradient><linearGradient id="g104" x1="0" x2="1" y1="0" y2="0"><stop offset="0.0%" stop-color="#2f2fff"/><stop offset="15.5%" stop-color="#3636ff"/><stop offset="23.1%" stop-color="#4444ff"/><stop offset="27.8%" stop-color="#5f5fff"/><stop offset="31.1%" stop-color="#7c7cff"/><stop offset="35.5%" stop-color="#b3b3ff"/><stop offset="39.3%" stop-color="#f1f1ff"/><stop offset="40.0%" stop-color="#ffffff"/><stop offset="45.2%" stop-color="#ff7c7c"/><stop offset="47.1%" stop-color="#ff5555"/><stop offset="51.1%" stop-color="#ff1e1e"/><stop offset="53.2%" stop-color="#ff0d0d"/><stop offset="55.1%" stop-color="#ff0d0d"/><stop offset="57.9%" stop-color="#ff1f1f"/><stop offset="60.9%" stop-color="#ff3f3f"/><stop offset="63.3%" stop-color="#ff6969"/><stop offset="66.4%" stop-color="#ffacac"/><stop offset="69.4%" stop-color="#fffdfd"/><stop offset="69.6%" stop-color="#fbfbff"/><stop offset="72.5%" stop-color="#c1c1ff"/><stop offset="75.8%" stop-color="#8a8aff"/><stop offset="79.1%" stop-color="#6060ff"/><stop offset="83.1%" stop-color="#4141ff"/><stop offset="88.7%" stop-color="#2929ff"/><stop offset="99.1%" stop-color="#2020ff"/><stop offset="100.0%" stop-color="#2020ff"/></linearGradient><linearGradient id="g105" x1="0" x2="1" y1="0" y2="0"><stop offset="0.0%" stop-color="#2f2fff"/><stop offset="15.5%" stop-color="#3636ff"/><stop offset="23.1%" stop-color="#4444ff"/><stop offset="27.8%" stop-color="#5f5fff"/><stop offset="31.1%" stop-color="#7c7cff"/><stop offset="35.5%" stop-color="#b4b4ff"/><stop offset="39.3%" stop-color="#f2f2ff"/><stop offset="40.0%" stop-color="#fffefe"/><stop offset="45.2%" stop-color="#ff7b7b"/><stop offset="47.1%" stop-color="#ff5454"/><stop offset="51.1%" stop-color="#ff1c1c"/><stop offset="53.2%" stop-color="#ff0c0c"/><stop offset="55.1%" stop-color="#ff0c0c"/><stop offset="57.6%" stop-color="#ff1c1c"/><stop offset="60.9%" stop-color="#ff3e3e"/><stop offset="63.3%" stop-color="#ff6868"/><stop offset="66.6%" stop-color="#ffb1b1"/><stop offset="69.4%" stop-color="#fffcfc"/><stop offset="69.6%" stop-color="#fcfcff"/><stop offset="72.5%" stop-color="#c1c1ff"/><stop offset="75.8%" stop-color="#8a8aff"/><stop offset="79.1%" stop-color="#6161ff"/><stop offset="83.1%" stop-color="#4141ff"/><stop offset="88.7%" stop-color="#2929ff"/><stop offset="99.1%" stop-color="#2020ff"/><stop offset="100.0%" stop-color="#2020ff"/></linearGradient><linearGradient id="g106" x1="0" x2="1" y1="0" y2="0"><stop offset="0.0%" stop-color="#2f2fff"/><stop offset="15.5%" stop-color="#3636ff"/><stop offset="23.1%" stop-color="#4444ff"/><stop offset="27.8%" stop-color="#5f5fff"/><stop offset="31.1%" stop-color="#7c7cff"/><stop offset="35.5%" stop-color="#b4b4ff"/><stop offset="39.3%" stop-color="#f2f2ff"/><stop offset="40.0%" stop-color="#fffefe"/><stop offset="45.2%" stop-color="#ff7b7b"/><stop offset="47.1%" stop-color="#ff5353"/><stop offset="51.1%" stop-color="#ff1b1b"/><stop offset="53.2%" stop-color="#ff0b0b"/><stop offset="55.1%" stop-color="#ff0b0b"/><stop offset="57.6%" stop-color="#ff1b1b"/><stop offset="60.9%" stop-color="#ff3d3d"/><stop offset="63.3%" stop-color="#ff6868"/><stop offset="66.6%" stop-color="#ffb0b0"/><stop offset="69.4%" stop-color="#fffcfc"/><stop offset="69.6%" stop-color="#fcfcff"/><stop offset="72.5%" stop-color="#c1c1ff"/><stop offset="75.8%" stop-color="#8b8bff"/><stop offset="79.1%" stop-color="#6161ff"/><stop offset="83.1%" stop-color="#4141ff"/><stop offset="88.7%" stop-color="#2929ff"/><stop offset="99.1%" stop-color="#2020ff"/><stop offset="100.0%" stop-color="#2020ff"/></linearGradient><linearGradient id="g107" x1="0" x2="1" y1="0" y2="0"><stop offset="0.0%" stop-color="#5e5eff"/><stop offset="20.2%" stop-color="#6060ff"/><stop offset="24.5%" stop-color="#6d6dff"/><stop offset="32.9%" stop-color="#a2a2ff"/><stop offset="37.2%" stop-color="#adadff"/><stop offset="48.0%" stop-color="#acacff"/><stop offset="53.2%" stop-color="#9e9eff"/><stop offset="63.3%" stop-color="#6a6aff"/><stop offset="68.7%" stop-color="#5f5fff"/><stop offset="100.0%" stop-color="#5b5bff"/></linearGradient><linearGradient id="g108" x1="0" x2="1" y1="0" y2="0"><stop offset="0.0%" stop-color="#5e5eff"/><stop offset="20.2%" stop-color="#6060ff"/><stop offset="24.5%" stop-color="#6d6dff"/><stop offset="32.9%" stop-color="#a2a2ff"/><stop offset="37.2%" stop-color="#adadff"/><stop offset="48.0%" stop-color="#acacff"/><stop offset="53.2%" stop-color="#9e9eff"/><stop offset="63.3%" stop-color="#6a6aff"/><stop offset="68.7%" stop-color="#5f5fff"/><stop offset="100.0%" stop-color="#5b5bff"/></linearGradient><linearGradient id="g109" x1="0" x2="1" y1="0" y2="0"><stop offset="0.0%" stop-color="#5e5eff"/><stop offset="20.2%" stop-color="#6060ff"/><stop offset="24.5%" stop-color="#6e6eff"/><stop offset="32.9%" stop-color="#a3a3ff"/><stop offset="37.2%" stop-color="#aeaeff"/><stop offset="48.0%" stop-color="#adadff"/><stop offset="53.2%" stop-color="#9f9fff"/><stop offset="63.3%" stop-color="#6a6aff"/><stop offset="68.7%" stop-color="#5f5fff"/><stop offset="100.0%" stop-color="#5b5bff"/></linearGradient><linearGradient id="g110" x1="0" x2="1" y1="0" y2="0"><stop offset="0.0%" stop-color="#5e5eff"/><stop offset="20.2%" stop-color="#6060ff"/><stop offset="24.2%" stop-color="#6c6cff"/><stop offset="32.9%" stop-color="#a3a3ff"/><stop offset="37.2%" stop-color="#aeaeff"/><stop offset="48.0%" stop-color="#adadff"/><stop offset="53.2%" stop-color="#9f9fff"/><stop offset="63.3%" stop-color="#6a6aff"/><stop offset="68.7%" stop-color="#5f5fff"/><stop offset="100.0%" stop-color="#5a5aff"/></linearGradient><linearGradient id="g111" x1="0" x2="1" y1="0" y2="0"><stop offset="0.0%" stop-color="#5e5eff"/><stop offset="20.0%" stop-color="#6060ff"/><stop offset="24.2%" stop-color="#6d6dff"/><stop offset="32.9%" stop-color="#a4a4ff"/><stop offset="37.2%" stop-color="#afafff"/><stop offset="47.8%" stop-color="#aeaeff"/><stop offset="52.9%" stop-color="#a0a0ff"/><stop offset="63.3%" stop-color="#6b6bff"/><stop offset="68.7%" stop-color="#5f5fff"/><stop offset="100.0%" stop-color="#5a5aff"/></linearGradient><linearGradient id="g112" x1="0" x2="1" y1="0" y2="0"><stop offset="0.0%" stop-color="#5e5eff"/><stop offset="20.0%" stop-color="#6060ff"/><stop offset="24.2%" stop-color="#6d6dff"/><stop offset="32.9%" stop-color="#a4a4ff"/><stop offset="37.2%" stop-color="#afafff"/><stop offset="47.8%" stop-color="#aeaeff"/><stop offset="52.9%" stop-color="#a1a1ff"/><stop offset="63.3%" stop-color="#6b6bff"/><stop offset="68.7%" stop-color="#5f5fff"/><stop offset="100.0%" stop-color="#5a5aff"/></linearGradient><linearGradient id="g113" x1="0" x2="1" y1="0" y2="0"><stop offset="0.0%" stop-color="#5e5eff"/><stop offset="20.0%" stop-color="#6060ff"/><stop offset="24.2%" stop-color="#6d6dff"/><stop offset="32.9%" stop-color="#a4a4ff"/><stop offset="37.2%" stop-color="#afafff"/><stop offset="47.8%" stop-color="#afafff"/><stop offset="52.9%" stop-color="#a1a1ff"/><stop offset="63.3%" stop-color="#6b6bff"/><stop offset="68.7%" stop-color="#5f5fff"/><stop offset="100.0%" stop-color="#5a5aff"/></linearGradient><linearGradient id="g114" x1="0" x2="1" y1="0" y2="0"><stop offset="0.0%" stop-color="#5e5eff"/><stop offset="20.0%" stop-color="#6060ff"/><stop offset="24.2%" stop-color="#6d6dff"/><stop offset="32.9%" stop-color="#a5a5ff"/><stop offset="37.2%" stop-color="#b0b0ff"/><stop offset="47.8%" stop-color="#afafff"/><stop offset="52.9%" stop-color="#a1a1ff"/><stop offset="63.3%" stop-color="#6b6bff"/><stop offset="68.7%" stop-color="#5f5fff"/><stop offset="100.0%" stop-color="#5a5aff"/></linearGradient><linearGradient id="g115" x1="0" x2="1" y1="0" y2="0"><stop offset="0.0%" stop-color="#5e5eff"/><stop offset="20.0%" stop-color="#6060ff"/><stop offset="24.0%" stop-color="#6c6cff"/><stop offset="32.9%" stop-color="#a5a5ff"/><stop offset="37.2%" stop-color="#b0b0ff"/><stop offset="47.8%" stop-color="#afafff"/><stop offset="52.9%" stop-color="#a2a2ff"/><stop offset="63.3%" stop-color="#6b6bff"/><stop offset="68.7%" stop-color="#5f5fff"/><stop offset="100.0%" stop-color="#5a5aff"/></linearGradient><linearGradient id="g116" x1="0" x2="1" y1="0" y2="0"><stop offset="0.0%" stop-color="#5e5eff"/><stop offset="20.0%" stop-color="#6060ff"/><stop offset="24.0%" stop-color="#6c6cff"/><stop offset="32.9%" stop-color="#a5a5ff"/><stop offset="37.2%" stop-color="#b1b1ff"/><stop offset="47.8%" stop-color="#b0b0ff"/><stop offset="52.9%" stop-color="#a2a2ff"/><stop offset="63.3%" stop-color="#6b6bff"/><stop offset="68.7%" stop-color="#5f5fff"/><stop offset="100.0%" stop-color="#5a5aff"/></linearGradient><linearGradient id="g117" x1="0" x2="1" y1="0" y2="0"><stop offset="0.0%" stop-color="#5e5eff"/><stop offset="20.0%" stop-color="#6060ff"/><stop offset="24.0%" stop-color="#6c6cff"/><stop offset="32.9%" stop-color="#a6a6ff"/><stop offset="37.2%" stop-color="#b1b1ff"/><stop offset="47.8%" stop-color="#b0b0ff"/><stop offset="52.7%" stop-color="#a4a4ff"/><stop offset="63.3%" stop-color="#6b6bff"/><stop offset="68.5%" stop-color="#5f5fff"/><stop offset="100.0%" stop-color="#5a5aff"/></linearGradient><linearGradient id="g118" x1="0" x2="1" y1="0" y2="0"><stop offset="0.0%" stop-color="#5e5eff"/><stop offset="20.0%" stop-color="#6060ff"/><stop offset="24.0%" stop-color="#6c6cff"/><stop offset="32.9%" stop-color="#a6a6ff"/><stop offset="37.2%" stop-color="#b2b2ff"/><stop offset="47.8%" stop-color="#b1b1ff"/><stop offset="52.7%" stop-color="#a4a4ff"/><stop offset="63.3%" stop-color="#6b6bff"/><stop offset="68.5%" stop-color="#5f5fff"/><stop offset="100.0%" stop-color="#5a5aff"/></linearGradient><linearGradient id="g119" x1="0" x2="1" y1="0" y2="0"><stop offset="0.0%" stop-color="#5e5eff"/><stop offset="20.0%" stop-color="#6060ff"/><stop offset="24.0%" stop-color="#6c6cff"/><stop offset="32.9%" stop-color="#a7a7ff"/><stop offset="37.2%" stop-color="#b2b2ff"/><stop offset="47.8%" stop-color="#b1b1ff"/><stop offset="52.7%" stop-color="#a4a4ff"/><stop offset="63.3%" stop-color="#6b6bff"/><stop offset="68.5%" stop-color="#5f5fff"/><stop offset="100.0%" stop-color="#5a5aff"/></linearGradient><linearGradient id="g120" x1="0" x2="1" y1="0" y2="0"><stop offset="0.0%" stop-color="#5e5eff"/><stop offset="20.0%" stop-color="#6060ff"/><stop offset="24.0%" stop-color="#6c6cff"/><stop offset="32.9%" stop-color="#a7a7ff"/><stop offset="37.2%" stop-color="#b3b3ff"/><stop offset="47.8%" stop-color="#b2b2ff"/><stop offset="52.7%" stop-color="#a5a5ff"/><stop offset="63.3%" stop-color="#6b6bff"/><stop offset="68.5%" stop-color="#5f5fff"/><stop offset="100.0%" stop-color="#5a5aff"/></linearGradient><linearGradient id="g121" x1="0" x2="1" y1="0" y2="0"><stop offset="0.0%" stop-color="#5e5eff"/><stop offset="20.0%" stop-color="#6060ff"/><stop offset="24.0%" stop-color="#6c6cff"/><stop offset="30.1%" stop-color="#9696ff"/><stop offset="34.1%" stop-color="#acacff"/><stop offset="38.8%" stop-color="#b4b4ff"/><stop offset="48.5%" stop-color="#b1b1ff"/><stop offset="53.4%" stop-color="#a2a2ff"/><stop offset="63.3%" stop-color="#6b6bff"/><stop offset="68.5%" stop-color="#5f5fff"/><stop offset="100.0%" stop-color="#5a5aff"/></linearGradient><linearGradient id="g122" x1="0" x2="1" y1="0" y2="0"><stop offset="0.0%" stop-color="#5e5eff"/><stop offset="20.0%" stop-color="#6060ff"/><stop offset="24.0%" stop-color="#6c6cff"/><stop offset="29.9%" stop-color="#9595ff"/><stop offset="33.9%" stop-color="#acacff"/><stop offset="38.4%" stop-color="#b5b5ff"/><stop offset="48.2%" stop-color="#b2b2ff"/><stop offset="53.2%" stop-color="#a3a3ff"/><stop offset="63.3%" stop-color="#6b6bff"/><stop offset="68.5%" stop-color="#5f5fff"/><stop offset="100.0%" stop-color="#5a5aff"/></linearGradient><linearGradient id="g123" x1="0" x2="1" y1="0" y2="0"><stop offset="0.0%" stop-color="#5e5eff"/><stop offset="20.0%" stop-color="#6060ff"/><stop offset="24.0%" stop-color="#6c6cff"/><stop offset="29.9%" stop-color="#9595ff"/><stop offset="33.9%" stop-color="#acacff"/><stop offset="38.4%" stop-color="#b5b5ff"/><stop offset="48.2%" stop-color="#b3b3ff"/><stop offset="53.2%" stop-color="#a4a4ff"/><stop offset="63.3%" stop-color="#6b6bff"/><stop offset="68.5%" stop-color="#5f5fff"/><stop offset="100.0%" stop-color="#5959ff"/></linearGradient><linearGradient id="g124" x1="0" x2="1" y1="0" y2="0"><stop offset="0.0%" stop-color="#5e5eff"/><stop offset="20.0%" stop-color="#6060ff"/><stop offset="24.0%" stop-color="#6c6cff"/><stop offset="29.6%" stop-color="#9494ff"/><stop offset="33.9%" stop-color="#adadff"/><stop offset="38.4%" stop-color="#b6b6ff"/><stop offset="48.2%" stop-color="#b3b3ff"/><stop offset="53.2%" stop-color="#a4a4ff"/><stop offset="63.3%" stop-color="#6c6cff"/><stop offset="68.5%" stop-color="#5f5fff"/><stop offset="100.0%" stop-color="#5959ff"/></linearGradient><linearGradient id="g125" x1="0" x2="1" y1="0" y2="0"><stop offset="0.0%" stop-color="#5e5eff"/><stop offset="20.0%" stop-color="#6060ff"/><stop offset="24.0%" stop-color="#6d6dff"/><stop offset="29.6%" stop-color="#9494ff"/><stop offset="33.9%" stop-color="#adadff"/><stop offset="38.4%" stop-color="#b6b6ff"/><stop offset="48.2%" stop-color="#b4b4ff"/><stop offset="53.2%" stop-color="#a5a5ff"/><stop offset="63.3%" stop-color="#6c6cff"/><stop offset="68.5%" stop-color="#5f5fff"/><stop offset="100.0%" stop-color="#5959ff"/></linearGradient><linearGradient id="g126" x1="0" x2="1" y1="0" y2="0"><stop offset="0.0%" stop-color="#5e5eff"/><stop offset="20.0%" stop-color="#6060ff"/><stop offset="24.0%" stop-color="#6d6dff"/><stop offset="29.6%" stop-color="#9595ff"/><stop offset="33.6%" stop-color="#adadff"/><stop offset="37.9%" stop-color="#b6b6ff"/><stop offset="48.0%" stop-color="#b4b4ff"/><stop offset="52.9%" stop-color="#a6a6ff"/><stop offset="63.3%" stop-color="#6c6cff"/><stop offset="68.5%" stop-color="#5f5fff"/><stop offset="100.0%" stop-color="#5959ff"/></linearGradient><linearGradient id="g127" x1="0" x2="1" y1="0" y2="0"><stop offset="0.0%" stop-color="#5e5eff"/><stop offset="20.0%" stop-color="#6060ff"/><stop offset="24.0%" stop-color="#6d6dff"/><stop offset="29.4%" stop-color="#9393ff"/><stop offset="33.6%" stop-color="#adadff"/><stop offset="37.9%" stop-color="#b7b7ff"/><stop offset="48.0%" stop-color="#b5b5ff"/><stop offset="52.9%" stop-color="#a7a7ff"/><stop offset="63.3%" stop-color="#6c6cff"/><stop offset="68.5%" stop-color="#5f5fff"/><stop offset="100.0%" stop-color="#5959ff"/></linearGradient><linearGradient id="g128" x1="0" x2="1" y1="0" y2="0"><stop offset="0.0%" stop-color="#5e5eff"/><stop offset="20.0%" stop-color="#6060ff"/><stop offset="24.0%" stop-color="#6d6dff"/><stop offset="29.4%" stop-color="#9494ff"/><stop offset="33.6%" stop-color="#aeaeff"/><stop offset="37.9%" stop-color="#b7b7ff"/><stop offset="48.0%" stop-color="#b5b5ff"/><stop offset="52.9%" stop-color="#a7a7ff"/><stop offset="63.3%" stop-color="#6c6cff"/><stop offset="68.5%" stop-color="#5f5fff"/><stop offset="100.0%" stop-color="#5959ff"/></linearGradient><linearGradient id="g129" x1="0" x2="1" y1="0" y2="0"><stop offset="0.0%" stop-color="#5e5eff"/><stop offset="20.0%" stop-color="#6060ff"/><stop offset="24.0%" stop-color="#6d6dff"/><stop offset="29.4%" stop-color="#9494ff"/><stop offset="33.6%" stop-color="#aeaeff"/><stop offset="37.9%" stop-color="#b8b8ff"/><stop offset="48.0%" stop-color="#b6b6ff"/><stop offset="52.9%" stop-color="#a7a7ff"/><stop offset="63.3%" stop-color="#6c6cff"/><stop offset="68.5%" stop-color="#5f5fff"/><stop offset="100.0%" stop-color="#5959ff"/></linearGradient><linearGradient id="g130" x1="0" x2="1" y1="0" y2="0"><stop offset="0.0%" stop-color="#5e5eff"/><stop offset="20.0%" stop-color="#6060ff"/><stop offset="24.0%" stop-color="#6d6dff"/><stop offset="29.4%" stop-color="#9494ff"/><stop offset="33.6%" stop-color="#afafff"/><stop offset="37.9%" stop-color="#b9b9ff"/><stop offset="48.0%" stop-color="#b6b6ff"/><stop offset="52.9%" stop-color="#a8a8ff"/><stop offset="63.3%" stop-color="#6c6cff"/><stop offset="68.5%" stop-color="#5f5fff"/><stop offset="100.0%" stop-color="#5959ff"/></linearGradient><linearGradient id="g131" x1="0" x2="1" y1="0" y2="0"><stop offset="0.0%" stop-color="#5e5eff"/><stop offset="20.0%" stop-color="#6060ff"/><stop offset="24.0%" stop-color="#6d6dff"/><stop offset="29.2%" stop-color="#9393ff"/><stop offset="33.4%" stop-color="#aeaeff"/><stop offset="37.6%" stop-color="#b9b9ff"/><stop offset="47.8%" stop-color="#b7b7ff"/><stop offset="52.7%" stop-color="#a9a9ff"/><stop offset="63.3%" stop-color="#6c6cff"/><stop offset="68.5%" stop-color="#5f5fff"/><stop offset="100.0%" stop-color="#5959ff"/></linearGradient><linearGradient id="g132" x1="0" x2="1" y1="0" y2="0"><stop offset="0.0%" stop-color="#5e5eff"/><stop offset="20.0%" stop-color="#6060ff"/><stop offset="24.0%" stop-color="#6d6dff"/><stop offset="29.2%" stop-color="#9393ff"/><stop offset="33.4%" stop-color="#afafff"/><stop offset="37.6%" stop-color="#b9b9ff"/><stop offset="47.8%" stop-color="#b8b8ff"/><stop offset="52.7%" stop-color="#aaaaff"/><stop offset="63.3%" stop-color="#6c6cff"/><stop offset="68.2%" stop-color="#5f5fff"/><stop offset="100.0%" stop-color="#5959ff"/></linearGradient><linearGradient id="g133" x1="0" x2="1" y1="0" y2="0"><stop offset="0.0%" stop-color="#5e5eff"/><stop offset="19.8%" stop-color="#6060ff"/><stop offset="23.8%" stop-color="#6c6cff"/><stop offset="28.5%" stop-color="#8e8eff"/><stop offset="32.9%" stop-color="#adadff"/><stop offset="36.9%" stop-color="#b9b9ff"/><stop offset="47.3%" stop-color="#b9b9ff"/><stop offset="52.2%" stop-color="#acacff"/><stop offset="58.1%" stop-color="#8a8aff"/><stop offset="63.5%" stop-color="#6b6bff"/><stop offset="68.7%" stop-color="#5f5fff"/><stop offset="100.0%" stop-color="#5858ff"/></linearGradient><linearGradient id="g134" x1="0" x2="1" y1="0" y2="0"><stop offset="0.0%" stop-color="#5e5eff"/><stop offset="19.8%" stop-color="#6060ff"/><stop offset="23.8%" stop-color="#6c6cff"/><stop offset="28.5%" stop-color="#8e8eff"/><stop offset="32.9%" stop-color="#adadff"/><stop offset="36.9%" stop-color="#babaff"/><stop offset="47.3%" stop-color="#babaff"/><stop offset="52.2%" stop-color="#adadff"/><stop offset="58.1%" stop-color="#8a8aff"/><stop offset="63.5%" stop-color="#6b6bff"/><stop offset="68.7%" stop-color="#5f5fff"/><stop offset="100.0%" stop-color="#5858ff"/></linearGradient><linearGradient id="g135" x1="0" x2="1" y1="0" y2="0"><stop offset="0.0%" stop-color="#5e5eff"/><stop offset="19.8%" stop-color="#6060ff"/><stop offset="23.8%" stop-color="#6c6cff"/><stop offset="28.5%" stop-color="#8e8eff"/><stop offset="32.9%" stop-color="#aeaeff"/><stop offset="36.9%" stop-color="#babaff"/><stop offset="47.3%" stop-color="#babaff"/><stop offset="52.2%" stop-color="#adadff"/><stop offset="57.9%" stop-color="#8c8cff"/><stop offset="63.3%" stop-color="#6c6cff"/><stop offset="68.2%" stop-color="#5f5fff"/><stop offset="100.0%" stop-color="#5858ff"/></linearGradient><linearGradient id="g136" x1="0" x2="1" y1="0" y2="0"><stop offset="0.0%" stop-color="#5e5eff"/><stop offset="19.8%" stop-color="#6060ff"/><stop offset="23.8%" stop-color="#6c6cff"/><stop offset="28.2%" stop-color="#8c8cff"/><stop offset="32.9%" stop-color="#aeaeff"/><stop offset="36.9%" stop-color="#bbbbff"/><stop offset="47.3%" stop-color="#bbbbff"/><stop offset="52.2%" stop-color="#aeaeff"/><stop offset="57.9%" stop-color="#8d8dff"/><stop offset="63.3%" stop-color="#6d6dff"/><stop offset="68.2%" stop-color="#5f5fff"/><stop offset="100.0%" stop-color="#5858ff"/></linearGradient><linearGradient id="g137" x1="0" x2="1" y1="0" y2="0"><stop offset="0.0%" stop-color="#5e5eff"/><stop offset="19.8%" stop-color="#6060ff"/><stop offset="23.8%" stop-color="#6c6cff"/><stop offset="28.2%" stop-color="#8d8dff"/><stop offset="32.7%" stop-color="#aeaeff"/><stop offset="36.5%" stop-color="#bbbbff"/><stop offset="46.1%" stop-color="#bcbcff"/><stop offset="51.3%" stop-color="#b2b2ff"/><stop offset="56.2%" stop-color="#9898ff"/><stop offset="62.8%" stop-color="#6f6fff"/><stop offset="67.8%" stop-color="#6060ff"/><stop offset="85.9%" stop-color="#5a5aff"/><stop offset="100.0%" stop-color="#5858ff"/></linearGradient><linearGradient id="g138" x1="0" x2="1" y1="0" y2="0"><stop offset="0.0%" stop-color="#5e5eff"/><stop offset="19.8%" stop-color="#6060ff"/><stop offset="23.8%" stop-color="#6c6cff"/><stop offset="28.2%" stop-color="#8d8dff"/><stop offset="32.7%" stop-color="#aeaeff"/><stop offset="36.5%" stop-color="#bbbbff"/><stop offset="46.1%" stop-color="#bdbdff"/><stop offset="51.3%" stop-color="#b2b2ff"/><stop offset="56.2%" stop-color="#9898ff"/><stop offset="62.8%" stop-color="#6f6fff"/><stop offset="67.8%" stop-color="#6060ff"/><stop offset="85.6%" stop-color="#5a5aff"/><stop offset="100.0%" stop-color="#5858ff"/></linearGradient><linearGradient id="g139" x1="0" x2="1" y1="0" y2="0"><stop offset="0.0%" stop-color="#5e5eff"/><stop offset="19.8%" stop-color="#6060ff"/><stop offset="23.8%" stop-color="#6d6dff"/><stop offset="28.2%" stop-color="#8d8dff"/><stop offset="32.7%" stop-color="#aeaeff"/><stop offset="36.5%" stop-color="#bcbcff"/><stop offset="46.1%" stop-color="#bdbdff"/><stop offset="51.3%" stop-color="#b3b3ff"/><stop offset="56.2%" stop-color="#9999ff"/><stop offset="62.8%" stop-color="#6f6fff"/><stop offset="67.8%" stop-color="#6060ff"/><stop offset="85.4%" stop-color="#5a5aff"/><stop offset="100.0%" stop-color="#5858ff"/></linearGradient><linearGradient id="g140" x1="0" x2="1" y1="0" y2="0"><stop offset="0.0%" stop-color="#5e5eff"/><stop offset="19.8%" stop-color="#6060ff"/><stop offset="23.8%" stop-color="#6d6dff"/><stop offset="28.2%" stop-color="#8d8dff"/><stop offset="32.7%" stop-color="#afafff"/><stop offset="36.5%" stop-color="#bcbcff"/><stop offset="46.1%" stop-color="#bebeff"/><stop offset="51.3%" stop-color="#b3b3ff"/><stop offset="56.2%" stop-color="#9999ff"/><stop offset="62.8%" stop-color="#6f6fff"/><stop offset="67.8%" stop-color="#6060ff"/><stop offset="85.2%" stop-color="#5a5aff"/><stop offset="100.0%" stop-color="#5858ff"/></linearGradient><linearGradient id="g141" x1="0" x2="1" y1="0" y2="0"><stop offset="0.0%" stop-color="#5e5eff"/><stop offset="19.8%" stop-color="#6060ff"/><stop offset="23.8%" stop-color="#6d6dff"/><stop offset="28.2%" stop-color="#8e8eff"/><stop offset="32.7%" stop-color="#afafff"/><stop offset="36.5%" stop-color="#bdbdff"/><stop offset="45.9%" stop-color="#bfbfff"/><stop offset="51.1%" stop-color="#b5b5ff"/><stop offset="55.8%" stop-color="#9c9cff"/><stop offset="62.8%" stop-color="#6f6fff"/><stop offset="67.8%" stop-color="#6060ff"/><stop offset="84.9%" stop-color="#5a5aff"/><stop offset="100.0%" stop-color="#5757ff"/></linearGradient><linearGradient id="g142" x1="0" x2="1" y1="0" y2="0"><stop offset="0.0%" stop-color="#5e5eff"/><stop offset="19.8%" stop-color="#6060ff"/><stop offset="23.5%" stop-color="#6c6cff"/><stop offset="27.8%" stop-color="#8a8aff"/><stop offset="32.5%" stop-color="#aeaeff"/><stop offset="36.2%" stop-color="#bdbdff"/><stop offset="44.9%" stop-color="#c0c0ff"/><stop offset="50.4%" stop-color="#b8b8ff"/><stop offset="55.1%" stop-color="#a1a1ff"/><stop offset="62.8%" stop-color="#6f6fff"/><stop offset="67.8%" stop-color="#6060ff"/><stop offset="84.7%" stop-color="#5a5aff"/><stop offset="100.0%" stop-color="#5757ff"/></linearGradient><linearGradient id="g143" x1="0" x2="1" y1="0" y2="0"><stop offset="0.0%" stop-color="#5e5eff"/><stop offset="19.8%" stop-color="#6060ff"/><stop offset="23.5%" stop-color="#6c6cff"/><stop offset="27.8%" stop-color="#8a8aff"/><stop offset="32.5%" stop-color="#afafff"/><stop offset="36.2%" stop-color="#bdbdff"/><stop offset="44.9%" stop-color="#c0c0ff"/><stop offset="50.4%" stop-color="#b8b8ff"/><stop offset="55.1%" stop-color="#a2a2ff"/><stop offset="62.8%" stop-color="#6f6fff"/><stop offset="67.8%" stop-color="#6060ff"/><stop offset="84.5%" stop-color="#5a5aff"/><stop offset="100.0%" stop-color="#5757ff"/></linearGradient><linearGradient id="g144" x1="0" x2="1" y1="0" y2="0"><stop offset="0.0%" stop-color="#5e5eff"/><stop offset="19.8%" stop-color="#6060ff"/><stop offset="23.5%" stop-color="#6c6cff"/><stop offset="27.8%" stop-color="#8a8aff"/><stop offset="32.5%" stop-color="#afafff"/><stop offset="36.2%" stop-color="#bebeff"/><stop offset="44.7%" stop-color="#c1c1ff"/><stop offset="50.4%" stop-color="#b9b9ff"/><stop offset="55.1%" stop-color="#a2a2ff"/><stop offset="62.8%" stop-color="#6f6fff"/><stop offset="67.5%" stop-color="#6060ff"/><stop offset="80.9%" stop-color="#5a5aff"/><stop offset="100.0%" stop-color="#5757ff"/></linearGradient><linearGradient id="g145" x1="0" x2="1" y1="0" y2="0"><stop offset="0.0%" stop-color="#5e5eff"/><stop offset="19.8%" stop-color="#6060ff"/><stop offset="23.5%" stop-color="#6c6cff"/><stop offset="27.8%" stop-color="#8b8bff"/><stop offset="32.5%" stop-color="#b0b0ff"/><stop offset="36.2%" stop-color="#bfbfff"/><stop offset="44.7%" stop-color="#c1c1ff"/><stop offset="50.4%" stop-color="#b9b9ff"/><stop offset="55.1%" stop-color="#a3a3ff"/><stop offset="62.8%" stop-color="#7070ff"/><stop offset="67.5%" stop-color="#6060ff"/><stop offset="80.7%" stop-color="#5a5aff"/><stop offset="100.0%" stop-color="#5757ff"/></linearGradient><linearGradient id="g146" x1="0" x2="1" y1="0" y2="0"><stop offset="0.0%" stop-color="#5e5eff"/><stop offset="19.8%" stop-color="#6060ff"/><stop offset="23.5%" stop-color="#6c6cff"/><stop offset="27.5%" stop-color="#8989ff"/><stop offset="32.5%" stop-color="#b0b0ff"/><stop offset="36.2%" stop-color="#bfbfff"/><stop offset="44.7%" stop-color="#c2c2ff"/><stop offset="50.1%" stop-color="#bbbbff"/><stop offset="54.6%" stop-color="#a6a6ff"/><stop offset="62.8%" stop-color="#7070ff"/><stop offset="67.5%" stop-color="#6060ff"/><stop offset="80.5%" stop-color="#5a5aff"/><stop offset="100.0%" stop-color="#5757ff"/></linearGradient><linearGradient id="g147" x1="0" x2="1" y1="0" y2="0"><stop offset="0.0%" stop-color="#5e5eff"/><stop offset="19.8%" stop-color="#6060ff"/><stop offset="23.5%" stop-color="#6c6cff"/><stop offset="27.5%" stop-color="#8989ff"/><stop offset="32.5%" stop-color="#b1b1ff"/><stop offset="36.2%" stop-color="#c0c0ff"/><stop offset="44.7%" stop-color="#c3c3ff"/><stop offset="50.1%" stop-color="#bbbbff"/><stop offset="54.6%" stop-color="#a6a6ff"/><stop offset="62.8%" stop-color="#7070ff"/><stop offset="67.5%" stop-color="#6060ff"/><stop offset="80.2%" stop-color="#5a5aff"/><stop offset="100.0%" stop-color="#5757ff"/></linearGradient><linearGradient id="g148" x1="0" x2="1" y1="0" y2="0"><stop offset="0.0%" stop-color="#5e5eff"/><stop offset="19.8%" stop-color="#6060ff"/><stop offset="23.5%" stop-color="#6c6cff"/><stop offset="27.5%" stop-color="#8a8aff"/><stop offset="32.5%" stop-color="#b2b2ff"/><stop offset="36.2%" stop-color="#c1c1ff"/><stop offset="44.5%" stop-color="#c4c4ff"/><stop offset="50.1%" stop-color="#bcbcff"/><stop offset="54.6%" stop-color="#a7a7ff"/><stop offset="62.8%" stop-color="#7070ff"/><stop offset="67.5%" stop-color="#6060ff"/><stop offset="80.2%" stop-color="#5a5aff"/><stop offset="100.0%" stop-color="#5656ff"/></linearGradient><linearGradient id="g149" x1="0" x2="1" y1="0" y2="0"><stop offset="0.0%" stop-color="#5e5eff"/><stop offset="19.8%" stop-color="#6060ff"/><stop offset="23.5%" stop-color="#6c6cff"/><stop offset="27.5%" stop-color="#8a8aff"/><stop offset="32.5%" stop-color="#b2b2ff"/><stop offset="36.2%" stop-color="#c1c1ff"/><stop offset="44.5%" stop-color="#c4c4ff"/><stop offset="50.1%" stop-color="#bcbcff"/><stop offset="54.6%" stop-color="#a7a7ff"/><stop offset="62.8%" stop-color="#7070ff"/><stop offset="67.5%" stop-color="#6060ff"/><stop offset="80.0%" stop-color="#5a5aff"/><stop offset="100.0%" stop-color="#5656ff"/></linearGradient><linearGradient id="g150" x1="0" x2="1" y1="0" y2="0"><stop offset="0.0%" stop-color="#5e5eff"/><stop offset="19.8%" stop-color="#6060ff"/><stop offset="23.5%" stop-color="#6c6cff"/><stop offset="27.5%" stop-color="#8a8aff"/><stop offset="32.5%" stop-color="#b3b3ff"/><stop offset="36.2%" stop-color="#c2c2ff"/><stop offset="44.5%" stop-color="#c5c5ff"/><stop offset="50.1%" stop-color="#bdbdff"/><stop offset="54.6%" stop-color="#a8a8ff"/><stop offset="62.8%" stop-color="#7070ff"/><stop offset="67.5%" stop-color="#6161ff"/><stop offset="79.8%" stop-color="#5a5aff"/><stop offset="100.0%" stop-color="#5656ff"/></linearGradient><linearGradient id="g151" x1="0" x2="1" y1="0" y2="0"><stop offset="0.0%" stop-color="#5e5eff"/><stop offset="19.8%" stop-color="#6060ff"/><stop offset="23.5%" stop-color="#6c6cff"/><stop offset="27.5%" stop-color="#8b8bff"/><stop offset="32.5%" stop-color="#b3b3ff"/><stop offset="36.0%" stop-color="#c2c2ff"/><stop offset="43.1%" stop-color="#c6c6ff"/><stop offset="49.4%" stop-color="#c0c0ff"/><stop offset="53.9%" stop-color="#adadff"/><stop offset="62.8%" stop-color="#7070ff"/><stop offset="67.5%" stop-color="#6161ff"/><stop offset="79.8%" stop-color="#5a5aff"/><stop offset="100.0%" stop-color="#5656ff"/></linearGradient><linearGradient id="g152" x1="0" x2="1" y1="0" y2="0"><stop offset="0.0%" stop-color="#5e5eff"/><stop offset="19.8%" stop-color="#6060ff"/><stop offset="23.5%" stop-color="#6d6dff"/><stop offset="27.5%" stop-color="#8b8bff"/><stop offset="32.5%" stop-color="#b4b4ff"/><stop offset="36.0%" stop-color="#c3c3ff"/><stop offset="43.1%" stop-color="#c7c7ff"/><stop offset="49.2%" stop-color="#c1c1ff"/><stop offset="53.6%" stop-color="#afafff"/><stop offset="62.8%" stop-color="#7171ff"/><stop offset="67.5%" stop-color="#6161ff"/><stop offset="79.5%" stop-color="#5a5aff"/><stop offset="100.0%" stop-color="#5656ff"/></linearGradient><linearGradient id="g153" x1="0" x2="1" y1="0" y2="0"><stop offset="0.0%" stop-color="#5e5eff"/><stop offset="19.5%" stop-color="#6060ff"/><stop offset="23.3%" stop-color="#6b6bff"/><stop offset="27.1%" stop-color="#8787ff"/><stop offset="32.2%" stop-color="#b3b3ff"/><stop offset="35.8%" stop-color="#c3c3ff"/><stop offset="41.9%" stop-color="#c8c8ff"/><stop offset="48.7%" stop-color="#c3c3ff"/><stop offset="53.2%" stop-color="#b2b2ff"/><stop offset="63.1%" stop-color="#6f6fff"/><stop offset="67.8%" stop-color="#6060ff"/><stop offset="81.9%" stop-color="#5959ff"/><stop offset="100.0%" stop-color="#5656ff"/></linearGradient><linearGradient id="g154" x1="0" x2="1" y1="0" y2="0"><stop offset="0.0%" stop-color="#5e5eff"/><stop offset="19.5%" stop-color="#6060ff"/><stop offset="23.3%" stop-color="#6c6cff"/><stop offset="27.1%" stop-color="#8787ff"/><stop offset="32.2%" stop-color="#b4b4ff"/><stop offset="35.8%" stop-color="#c4c4ff"/><stop offset="41.6%" stop-color="#c9c9ff"/><stop offset="48.7%" stop-color="#c4c4ff"/><stop offset="53.2%" stop-color="#b3b3ff"/><stop offset="62.8%" stop-color="#7171ff"/><stop offset="67.5%" stop-color="#6161ff"/><stop offset="78.4%" stop-color="#5a5aff"/><stop offset="100.0%" stop-color="#5555ff"/></linearGradient><linearGradient id="g155" x1="0" x2="1" y1="0" y2="0"><stop offset="0.0%" stop-color="#5e5eff"/><stop offset="19.5%" stop-color="#6060ff"/><stop offset="23.3%" stop-color="#6c6cff"/><stop offset="27.1%" stop-color="#8888ff"/><stop offset="32.5%" stop-color="#b6b6ff"/><stop offset="36.0%" stop-color="#c5c5ff"/><stop offset="42.4%" stop-color="#cacaff"/><stop offset="48.7%" stop-color="#c4c4ff"/><stop offset="53.2%" stop-color="#b3b3ff"/><stop offset="62.8%" stop-color="#7272ff"/><stop offset="67.5%" stop-color="#6161ff"/><stop offset="77.6%" stop-color="#5a5aff"/><stop offset="100.0%" stop-color="#5555ff"/></linearGradient><linearGradient id="g156" x1="0" x2="1" y1="0" y2="0"><stop offset="0.0%" stop-color="#5e5eff"/><stop offset="19.3%" stop-color="#6060ff"/><stop offset="23.3%" stop-color="#6c6cff"/><stop offset="27.3%" stop-color="#8a8aff"/><stop offset="32.5%" stop-color="#b6b6ff"/><stop offset="36.0%" stop-color="#c6c6ff"/><stop offset="42.1%" stop-color="#cbcbff"/><stop offset="48.7%" stop-color="#c5c5ff"/><stop offset="53.2%" stop-color="#b3b3ff"/><stop offset="62.8%" stop-color="#7272ff"/><stop offset="67.8%" stop-color="#6161ff"/><stop offset="78.6%" stop-color="#5a5aff"/><stop offset="100.0%" stop-color="#5555ff"/></linearGradient><linearGradient id="g157" x1="0" x2="1" y1="0" y2="0"><stop offset="0.0%" stop-color="#5e5eff"/><stop offset="19.3%" stop-color="#6060ff"/><stop offset="23.3%" stop-color="#6d6dff"/><stop offset="27.3%" stop-color="#8b8bff"/><stop offset="32.5%" stop-color="#b7b7ff"/><stop offset="36.0%" stop-color="#c7c7ff"/><stop offset="41.9%" stop-color="#ccccff"/><stop offset="48.5%" stop-color="#c7c7ff"/><stop offset="52.9%" stop-color="#b5b5ff"/><stop offset="62.8%" stop-color="#7373ff"/><stop offset="67.8%" stop-color="#6161ff"/><stop offset="77.9%" stop-color="#5a5aff"/><stop offset="100.0%" stop-color="#5555ff"/></linearGradient><linearGradient id="g158" x1="0" x2="1" y1="0" y2="0"><stop offset="0.0%" stop-color="#5e5eff"/><stop offset="19.1%" stop-color="#6060ff"/><stop offset="23.1%" stop-color="#6c6cff"/><stop offset="26.8%" stop-color="#8787ff"/><stop offset="32.5%" stop-color="#b8b8ff"/><stop offset="36.0%" stop-color="#c8c8ff"/><stop offset="41.6%" stop-color="#cdcdff"/><stop offset="48.2%" stop-color="#c8c8ff"/><stop offset="52.7%" stop-color="#b7b7ff"/><stop offset="63.1%" stop-color="#7272ff"/><stop offset="68.0%" stop-color="#6161ff"/><stop offset="78.6%" stop-color="#5a5aff"/><stop offset="100.0%" stop-color="#5555ff"/></linearGradient><linearGradient id="g159" x1="0" x2="1" y1="0" y2="0"><stop offset="0.0%" stop-color="#5e5eff"/><stop offset="19.1%" stop-color="#6060ff"/><stop offset="23.1%" stop-color="#6c6cff"/><stop offset="27.1%" stop-color="#8989ff"/><stop offset="32.7%" stop-color="#babaff"/><stop offset="36.2%" stop-color="#cacaff"/><stop offset="42.1%" stop-color="#ceceff"/><stop offset="48.2%" stop-color="#c9c9ff"/><stop offset="52.7%" stop-color="#b7b7ff"/><stop offset="62.8%" stop-color="#7474ff"/><stop offset="67.8%" stop-color="#6262ff"/><stop offset="76.9%" stop-color="#5a5aff"/><stop offset="100.0%" stop-color="#5555ff"/></linearGradient><linearGradient id="g160" x1="0" x2="1" y1="0" y2="0"><stop offset="0.0%" stop-color="#5e5eff"/><stop offset="18.8%" stop-color="#6060ff"/><stop offset="22.8%" stop-color="#6c6cff"/><stop offset="26.6%" stop-color="#8686ff"/><stop offset="32.7%" stop-color="#bbbbff"/><stop offset="36.2%" stop-color="#cbcbff"/><stop offset="41.9%" stop-color="#d0d0ff"/><stop offset="48.2%" stop-color="#cacaff"/><stop offset="52.7%" stop-color="#b8b8ff"/><stop offset="62.8%" stop-color="#7474ff"/><stop offset="68.0%" stop-color="#6262ff"/><stop offset="77.4%" stop-color="#5a5aff"/><stop offset="100.0%" stop-color="#5454ff"/></linearGradient><linearGradient id="g161" x1="0" x2="1" y1="0" y2="0"><stop offset="0.0%" stop-color="#5e5eff"/><stop offset="18.8%" stop-color="#6060ff"/><stop offset="22.8%" stop-color="#6c6cff"/><stop offset="26.6%" stop-color="#8686ff"/><stop offset="32.7%" stop-color="#bbbbff"/><stop offset="36.2%" stop-color="#ccccff"/><stop offset="41.6%" stop-color="#d1d1ff"/><stop offset="48.0%" stop-color="#ccccff"/><stop offset="52.7%" stop-color="#b8b8ff"/><stop offset="62.8%" stop-color="#7575ff"/><stop offset="68.0%" stop-color="#6262ff"/><stop offset="77.2%" stop-color="#5a5aff"/><stop offset="100.0%" stop-color="#5454ff"/></linearGradient><linearGradient id="g162" x1="0" x2="1" y1="0" y2="0"><stop offset="0.0%" stop-color="#5e5eff"/><stop offset="18.6%" stop-color="#6060ff"/><stop offset="22.8%" stop-color="#6d6dff"/><stop offset="26.6%" stop-color="#8787ff"/><stop offset="32.7%" stop-color="#bcbcff"/><stop offset="36.2%" stop-color="#ceceff"/><stop offset="41.4%" stop-color="#d3d3ff"/><stop offset="47.8%" stop-color="#cdcdff"/><stop offset="52.5%" stop-color="#babaff"/><stop offset="62.8%" stop-color="#7575ff"/><stop offset="68.0%" stop-color="#6262ff"/><stop offset="76.7%" stop-color="#5a5aff"/><stop offset="100.0%" stop-color="#5454ff"/></linearGradient><linearGradient id="g163" x1="0" x2="1" y1="0" y2="0"><stop offset="0.0%" stop-color="#5e5eff"/><stop offset="18.6%" stop-color="#6060ff"/><stop offset="22.8%" stop-color="#6d6dff"/><stop offset="26.8%" stop-color="#8989ff"/><stop offset="32.9%" stop-color="#bfbfff"/><stop offset="36.5%" stop-color="#cfcfff"/><stop offset="41.9%" stop-color="#d4d4ff"/><stop offset="47.8%" stop-color="#ceceff"/><stop offset="52.5%" stop-color="#bbbbff"/><stop offset="62.8%" stop-color="#7676ff"/><stop offset="68.2%" stop-color="#6262ff"/><stop offset="77.2%" stop-color="#5a5aff"/><stop offset="100.0%" stop-color="#5454ff"/></linearGradient><linearGradient id="g164" x1="0" x2="1" y1="0" y2="0"><stop offset="0.0%" stop-color="#5e5eff"/><stop offset="18.4%" stop-color="#6060ff"/><stop offset="22.6%" stop-color="#6c6cff"/><stop offset="26.4%" stop-color="#8686ff"/><stop offset="32.9%" stop-color="#c0c0ff"/><stop offset="36.5%" stop-color="#d1d1ff"/><stop offset="41.6%" stop-color="#d6d6ff"/><stop offset="47.5%" stop-color="#d0d0ff"/><stop offset="52.2%" stop-color="#bdbdff"/><stop offset="62.8%" stop-color="#7777ff"/><stop offset="68.2%" stop-color="#6363ff"/><stop offset="76.9%" stop-color="#5a5aff"/><stop offset="100.0%" stop-color="#5353ff"/></linearGradient><linearGradient id="g165" x1="0" x2="1" y1="0" y2="0"><stop offset="0.0%" stop-color="#5e5eff"/><stop offset="18.4%" stop-color="#6060ff"/><stop offset="22.6%" stop-color="#6d6dff"/><stop offset="26.6%" stop-color="#8989ff"/><stop offset="32.9%" stop-color="#c1c1ff"/><stop offset="36.5%" stop-color="#d2d2ff"/><stop offset="41.6%" stop-color="#d8d8ff"/><stop offset="47.5%" stop-color="#d2d2ff"/><stop offset="52.2%" stop-color="#bebeff"/><stop offset="62.8%" stop-color="#7777ff"/><stop offset="68.2%" stop-color="#6363ff"/><stop offset="76.7%" stop-color="#5a5aff"/><stop offset="100.0%" stop-color="#5353ff"/></linearGradient><linearGradient id="g166" x1="0" x2="1" y1="0" y2="0"><stop offset="0.0%" stop-color="#5e5eff"/><stop offset="18.1%" stop-color="#6060ff"/><stop offset="22.4%" stop-color="#6c6cff"/><stop offset="26.1%" stop-color="#8585ff"/><stop offset="33.2%" stop-color="#c3c3ff"/><stop offset="36.7%" stop-color="#d5d5ff"/><stop offset="41.9%" stop-color="#dadaff"/><stop offset="47.8%" stop-color="#d2d2ff"/><stop offset="52.5%" stop-color="#bdbdff"/><stop offset="62.6%" stop-color="#7979ff"/><stop offset="68.2%" stop-color="#6464ff"/><stop offset="76.5%" stop-color="#5a5aff"/><stop offset="100.0%" stop-color="#5353ff"/></linearGradient><linearGradient id="g167" x1="0" x2="1" y1="0" y2="0"><stop offset="0.0%" stop-color="#5e5eff"/><stop offset="17.9%" stop-color="#6060ff"/><stop offset="22.4%" stop-color="#6d6dff"/><stop offset="26.4%" stop-color="#8888ff"/><stop offset="33.2%" stop-color="#c5c5ff"/><stop offset="36.7%" stop-color="#d6d6ff"/><stop offset="41.4%" stop-color="#dcdcff"/><stop offset="47.3%" stop-color="#d5d5ff"/><stop offset="52.0%" stop-color="#c1c1ff"/><stop offset="62.6%" stop-color="#7a7aff"/><stop offset="68.2%" stop-color="#6464ff"/><stop offset="76.2%" stop-color="#5a5aff"/><stop offset="100.0%" stop-color="#5353ff"/></linearGradient><linearGradient id="g168" x1="0" x2="1" y1="0" y2="0"><stop offset="0.0%" stop-color="#5e5eff"/><stop offset="17.9%" stop-color="#6060ff"/><stop offset="22.4%" stop-color="#6d6dff"/><stop offset="26.4%" stop-color="#8989ff"/><stop offset="33.2%" stop-color="#c6c6ff"/><stop offset="36.9%" stop-color="#d9d9ff"/><stop offset="41.4%" stop-color="#dfdfff"/><stop offset="46.8%" stop-color="#d8d8ff"/><stop offset="51.5%" stop-color="#c4c4ff"/><stop offset="62.8%" stop-color="#7a7aff"/><stop offset="68.5%" stop-color="#6464ff"/><stop offset="76.7%" stop-color="#5a5aff"/><stop offset="100.0%" stop-color="#5353ff"/></linearGradient><linearGradient id="g169" x1="0" x2="1" y1="0" y2="0"><stop offset="0.0%" stop-color="#5e5eff"/><stop offset="17.6%" stop-color="#6060ff"/><stop offset="22.1%" stop-color="#6d6dff"/><stop offset="26.1%" stop-color="#8787ff"/><stop offset="33.4%" stop-color="#c9c9ff"/><stop offset="37.6%" stop-color="#dedeff"/><stop offset="42.1%" stop-color="#e2e2ff"/><stop offset="47.1%" stop-color="#d9d9ff"/><stop offset="52.0%" stop-color="#c3c3ff"/><stop offset="62.6%" stop-color="#7c7cff"/><stop offset="68.5%" stop-color="#6565ff"/><stop offset="76.7%" stop-color="#5a5aff"/><stop offset="100.0%" stop-color="#5252ff"/></linearGradient><linearGradient id="g170" x1="0" x2="1" y1="0" y2="0"><stop offset="0.0%" stop-color="#5e5eff"/><stop offset="17.4%" stop-color="#6060ff"/><stop offset="21.9%" stop-color="#6c6cff"/><stop offset="25.9%" stop-color="#8686ff"/><stop offset="33.4%" stop-color="#cbcbff"/><stop offset="37.6%" stop-color="#e1e1ff"/><stop offset="41.9%" stop-color="#e6e6ff"/><stop offset="46.6%" stop-color="#dedeff"/><stop offset="52.0%" stop-color="#c4c4ff"/><stop offset="62.4%" stop-color="#7e7eff"/><stop offset="68.2%" stop-color="#6666ff"/><stop offset="76.0%" stop-color="#5b5bff"/><stop offset="100.0%" stop-color="#5252ff"/></linearGradient><linearGradient id="g171" x1="0" x2="1" y1="0" y2="0"><stop offset="0.0%" stop-color="#5e5eff"/><stop offset="17.4%" stop-color="#6161ff"/><stop offset="21.9%" stop-color="#6d6dff"/><stop offset="25.9%" stop-color="#8888ff"/><stop offset="33.4%" stop-color="#cdcdff"/><stop offset="37.4%" stop-color="#e4e4ff"/><stop offset="41.4%" stop-color="#ebebff"/><stop offset="45.9%" stop-color="#e4e4ff"/><stop offset="51.8%" stop-color="#c8c8ff"/><stop offset="62.4%" stop-color="#7f7fff"/><stop offset="68.2%" stop-color="#6767ff"/><stop offset="75.8%" stop-color="#5b5bff"/><stop offset="100.0%" stop-color="#5252ff"/></linearGradient><linearGradient id="g172" x1="0" x2="1" y1="0" y2="0"><stop offset="0.0%" stop-color="#5e5eff"/><stop offset="17.2%" stop-color="#6161ff"/><stop offset="21.6%" stop-color="#6d6dff"/><stop offset="25.4%" stop-color="#8585ff"/><stop offset="33.6%" stop-color="#d2d2ff"/><stop offset="37.4%" stop-color="#e9e9ff"/><stop offset="41.2%" stop-color="#f0f0ff"/><stop offset="45.6%" stop-color="#e9e9ff"/><stop offset="51.5%" stop-color="#cbcbff"/><stop offset="62.4%" stop-color="#8080ff"/><stop offset="68.5%" stop-color="#6767ff"/><stop offset="76.2%" stop-color="#5b5bff"/><stop offset="100.0%" stop-color="#5252ff"/></linearGradient><linearGradient id="g173" x1="0" x2="1" y1="0" y2="0"><stop offset="0.0%" stop-color="#5e5eff"/><stop offset="16.9%" stop-color="#6161ff"/><stop offset="21.6%" stop-color="#6d6dff"/><stop offset="25.4%" stop-color="#8686ff"/><stop offset="34.1%" stop-color="#d8d8ff"/><stop offset="37.6%" stop-color="#eeeeff"/><stop offset="41.2%" stop-color="#f5f5ff"/><stop offset="45.2%" stop-color="#efefff"/><stop offset="50.1%" stop-color="#d6d6ff"/><stop offset="62.4%" stop-color="#8282ff"/><stop offset="68.5%" stop-color="#6868ff"/><stop offset="76.0%" stop-color="#5b5bff"/><stop offset="100.0%" stop-color="#5151ff"/></linearGradient><linearGradient id="g174" x1="0" x2="1" y1="0" y2="0"><stop offset="0.0%" stop-color="#5e5eff"/><stop offset="16.7%" stop-color="#6161ff"/><stop offset="21.4%" stop-color="#6d6dff"/><stop offset="25.4%" stop-color="#8787ff"/><stop offset="34.8%" stop-color="#e1e1ff"/><stop offset="38.4%" stop-color="#f5f5ff"/><stop offset="41.9%" stop-color="#fafaff"/><stop offset="45.9%" stop-color="#f0f0ff"/><stop offset="51.5%" stop-color="#cfcfff"/><stop offset="62.1%" stop-color="#8484ff"/><stop offset="68.2%" stop-color="#6969ff"/><stop offset="75.8%" stop-color="#5b5bff"/><stop offset="100.0%" stop-color="#5151ff"/></linearGradient><linearGradient id="g175" x1="0" x2="1" y1="0" y2="0"><stop offset="0.0%" stop-color="#5e5eff"/><stop offset="16.5%" stop-color="#6161ff"/><stop offset="21.2%" stop-color="#6d6dff"/><stop offset="25.2%" stop-color="#8686ff"/><stop offset="35.3%" stop-color="#e7e7ff"/><stop offset="38.8%" stop-color="#fbfbff"/><stop offset="42.4%" stop-color="#fefeff"/><stop offset="46.1%" stop-color="#f2f2ff"/><stop offset="52.2%" stop-color="#cbcbff"/><stop offset="61.9%" stop-color="#8686ff"/><stop offset="68.2%" stop-color="#6a6aff"/><stop offset="75.8%" stop-color="#5c5cff"/><stop offset="100.0%" stop-color="#5151ff"/></linearGradient><linearGradient id="g176" x1="0" x2="1" y1="0" y2="0"><stop offset="0.0%" stop-color="#5e5eff"/><stop offset="16.5%" stop-color="#6161ff"/><stop offset="21.2%" stop-color="#6d6dff"/><stop offset="25.2%" stop-color="#8787ff"/><stop offset="35.5%" stop-color="#ebebff"/><stop offset="38.8%" stop-color="#ffffff"/><stop offset="42.4%" stop-color="#fffcfc"/><stop offset="44.2%" stop-color="#fefeff"/><stop offset="48.9%" stop-color="#e4e4ff"/><stop offset="61.4%" stop-color="#8a8aff"/><stop offset="68.0%" stop-color="#6c6cff"/><stop offset="75.3%" stop-color="#5c5cff"/><stop offset="99.3%" stop-color="#5050ff"/><stop offset="100.0%" stop-color="#5050ff"/></linearGradient><linearGradient id="g177" x1="0" x2="1" y1="0" y2="0"><stop offset="0.0%" stop-color="#5e5eff"/><stop offset="16.0%" stop-color="#6161ff"/><stop offset="20.9%" stop-color="#6e6eff"/><stop offset="24.9%" stop-color="#8787ff"/><stop offset="32.2%" stop-color="#cfcfff"/><stop offset="36.5%" stop-color="#f6f6ff"/><stop offset="38.1%" stop-color="#ffffff"/><stop offset="41.4%" stop-color="#fff7f7"/><stop offset="45.2%" stop-color="#fdfdff"/><stop offset="50.8%" stop-color="#d8d8ff"/><stop offset="61.4%" stop-color="#8c8cff"/><stop offset="68.0%" stop-color="#6d6dff"/><stop offset="75.3%" stop-color="#5d5dff"/><stop offset="98.6%" stop-color="#5050ff"/><stop offset="100.0%" stop-color="#5050ff"/></linearGradient><linearGradient id="g178" x1="0" x2="1" y1="0" y2="0"><stop offset="0.0%" stop-color="#5e5eff"/><stop offset="15.8%" stop-color="#6161ff"/><stop offset="20.7%" stop-color="#6e6eff"/><stop offset="24.7%" stop-color="#8787ff"/><stop offset="31.3%" stop-color="#c8c8ff"/><stop offset="36.0%" stop-color="#f6f6ff"/><stop offset="37.4%" stop-color="#ffffff"/><stop offset="40.5%" stop-color="#fff3f3"/><stop offset="43.5%" stop-color="#fff6f6"/><stop offset="45.6%" stop-color="#ffffff"/><stop offset="51.8%" stop-color="#d3d3ff"/><stop offset="61.4%" stop-color="#8d8dff"/><stop offset="68.0%" stop-color="#6d6dff"/><stop offset="75.1%" stop-color="#5d5dff"/><stop offset="95.8%" stop-color="#5151ff"/><stop offset="100.0%" stop-color="#5050ff"/></linearGradient><linearGradient id="g179" x1="0" x2="1" y1="0" y2="0"><stop offset="0.0%" stop-color="#5e5eff"/><stop offset="15.5%" stop-color="#6161ff"/><stop offset="20.5%" stop-color="#6e6eff"/><stop offset="24.5%" stop-color="#8787ff"/><stop offset="30.8%" stop-color="#c5c5ff"/><stop offset="36.0%" stop-color="#f9f9ff"/><stop offset="36.9%" stop-color="#fffefe"/><stop offset="40.0%" stop-color="#ffefef"/><stop offset="43.1%" stop-color="#fff0f0"/><stop offset="46.4%" stop-color="#fefeff"/><stop offset="60.9%" stop-color="#9191ff"/><stop offset="67.5%" stop-color="#7070ff"/><stop offset="74.4%" stop-color="#5e5eff"/><stop offset="89.9%" stop-color="#5353ff"/><stop offset="100.0%" stop-color="#5050ff"/></linearGradient><linearGradient id="g180" x1="0" x2="1" y1="0" y2="0"><stop offset="0.0%" stop-color="#5e5eff"/><stop offset="15.3%" stop-color="#6161ff"/><stop offset="20.2%" stop-color="#6e6eff"/><stop offset="24.2%" stop-color="#8787ff"/><stop offset="30.4%" stop-color="#c3c3ff"/><stop offset="35.8%" stop-color="#fbfbff"/><stop offset="36.5%" stop-color="#fffefe"/><stop offset="39.5%" stop-color="#ffebeb"/><stop offset="42.4%" stop-color="#ffe9e9"/><stop offset="45.6%" stop-color="#fff8f8"/><stop offset="46.8%" stop-color="#ffffff"/><stop offset="59.3%" stop-color="#9e9eff"/><stop offset="65.6%" stop-color="#7979ff"/><stop offset="71.8%" stop-color="#6464ff"/><stop offset="81.4%" stop-color="#5757ff"/><stop offset="100.0%" stop-color="#4f4fff"/></linearGradient><linearGradient id="g181" x1="0" x2="1" y1="0" y2="0"><stop offset="0.0%" stop-color="#5e5eff"/><stop offset="15.1%" stop-color="#6161ff"/><stop offset="20.0%" stop-color="#6e6eff"/><stop offset="24.0%" stop-color="#8787ff"/><stop offset="29.9%" stop-color="#c0c0ff"/><stop offset="35.8%" stop-color="#fefeff"/><stop offset="39.1%" stop-color="#ffe8e8"/><stop offset="41.9%" stop-color="#ffe3e3"/><stop offset="44.7%" stop-color="#ffeded"/><stop offset="47.3%" stop-color="#ffffff"/><stop offset="57.9%" stop-color="#a9a9ff"/><stop offset="64.5%" stop-color="#8080ff"/><stop offset="70.6%" stop-color="#6767ff"/><stop offset="79.1%" stop-color="#5959ff"/><stop offset="100.0%" stop-color="#4f4fff"/></linearGradient><linearGradient id="g182" x1="0" x2="1" y1="0" y2="0"><stop offset="0.0%" stop-color="#5e5eff"/><stop offset="14.6%" stop-color="#6161ff"/><stop offset="19.5%" stop-color="#6e6eff"/><stop offset="23.8%" stop-color="#8787ff"/><stop offset="29.4%" stop-color="#bdbdff"/><stop offset="35.3%" stop-color="#fefeff"/><stop offset="36.0%" stop-color="#fff9f9"/><stop offset="38.8%" stop-color="#ffe4e4"/><stop offset="41.6%" stop-color="#ffdede"/><stop offset="44.5%" stop-color="#ffe7e7"/><stop offset="47.8%" stop-color="#ffffff"/><stop offset="57.2%" stop-color="#b0b0ff"/><stop offset="64.0%" stop-color="#8383ff"/><stop offset="70.4%" stop-color="#6969ff"/><stop offset="78.4%" stop-color="#5a5aff"/><stop offset="100.0%" stop-color="#4f4fff"/></linearGradient><linearGradient id="g183" x1="0" x2="1" y1="0" y2="0"><stop offset="0.0%" stop-color="#5e5eff"/><stop offset="14.4%" stop-color="#6161ff"/><stop offset="19.3%" stop-color="#6e6eff"/><stop offset="23.5%" stop-color="#8787ff"/><stop offset="28.9%" stop-color="#babaff"/><stop offset="35.1%" stop-color="#ffffff"/><stop offset="38.1%" stop-color="#ffe3e3"/><stop offset="40.7%" stop-color="#ffd9d9"/><stop offset="43.5%" stop-color="#ffdddd"/><stop offset="46.8%" stop-color="#fff3f3"/><stop offset="48.2%" stop-color="#fefeff"/><stop offset="56.9%" stop-color="#b3b3ff"/><stop offset="64.0%" stop-color="#8585ff"/><stop offset="70.4%" stop-color="#6969ff"/><stop offset="78.4%" stop-color="#5a5aff"/><stop offset="100.0%" stop-color="#4e4eff"/></linearGradient><linearGradient id="g184" x1="0" x2="1" y1="0" y2="0"><stop offset="0.0%" stop-color="#5e5eff"/><stop offset="14.1%" stop-color="#6161ff"/><stop offset="19.3%" stop-color="#6f6fff"/><stop offset="23.5%" stop-color="#8989ff"/><stop offset="28.7%" stop-color="#b9b9ff"/><stop offset="34.6%" stop-color="#fefeff"/><stop offset="37.9%" stop-color="#ffe0e0"/><stop offset="40.5%" stop-color="#ffd4d4"/><stop offset="43.3%" stop-color="#ffd7d7"/><stop offset="46.6%" stop-color="#ffecec"/><stop offset="48.7%" stop-color="#fefeff"/><stop offset="56.7%" stop-color="#b6b6ff"/><stop offset="64.0%" stop-color="#8686ff"/><stop offset="70.4%" stop-color="#6a6aff"/><stop offset="78.1%" stop-color="#5a5aff"/><stop offset="100.0%" stop-color="#4e4eff"/></linearGradient><linearGradient id="g185" x1="0" x2="1" y1="0" y2="0"><stop offset="0.0%" stop-color="#5e5eff"/><stop offset="13.9%" stop-color="#6161ff"/><stop offset="19.1%" stop-color="#6f6fff"/><stop offset="23.3%" stop-color="#8989ff"/><stop offset="28.5%" stop-color="#b9b9ff"/><stop offset="34.4%" stop-color="#fffefe"/><stop offset="37.4%" stop-color="#ffdede"/><stop offset="40.0%" stop-color="#ffd0d0"/><stop offset="42.8%" stop-color="#ffd0d0"/><stop offset="45.9%" stop-color="#ffe1e1"/><stop offset="48.9%" stop-color="#fffefe"/><stop offset="56.9%" stop-color="#b5b5ff"/><stop offset="64.2%" stop-color="#8585ff"/><stop offset="70.6%" stop-color="#6a6aff"/><stop offset="78.6%" stop-color="#5a5aff"/><stop offset="100.0%" stop-color="#4e4eff"/></linearGradient><linearGradient id="g186" x1="0" x2="1" y1="0" y2="0"><stop offset="0.0%" stop-color="#5e5eff"/><stop offset="13.6%" stop-color="#6161ff"/><stop offset="18.8%" stop-color="#6f6fff"/><stop offset="23.1%" stop-color="#8888ff"/><stop offset="28.0%" stop-color="#b6b6ff"/><stop offset="33.9%" stop-color="#ffffff"/><stop offset="37.4%" stop-color="#ffd9d9"/><stop offset="40.0%" stop-color="#ffcaca"/><stop offset="42.8%" stop-color="#ffcaca"/><stop offset="45.6%" stop-color="#ffdada"/><stop offset="49.4%" stop-color="#ffffff"/><stop offset="56.2%" stop-color="#bcbcff"/><stop offset="63.3%" stop-color="#8c8cff"/><stop offset="69.9%" stop-color="#6d6dff"/><stop offset="77.4%" stop-color="#5b5bff"/><stop offset="97.9%" stop-color="#4d4dff"/><stop offset="100.0%" stop-color="#4d4dff"/></linearGradient><linearGradient id="g187" x1="0" x2="1" y1="0" y2="0"><stop offset="0.0%" stop-color="#5e5eff"/><stop offset="13.4%" stop-color="#6262ff"/><stop offset="18.6%" stop-color="#6f6fff"/><stop offset="23.1%" stop-color="#8a8aff"/><stop offset="27.8%" stop-color="#b5b5ff"/><stop offset="33.4%" stop-color="#fdfdff"/><stop offset="33.9%" stop-color="#fffafa"/><stop offset="37.2%" stop-color="#ffd5d5"/><stop offset="39.8%" stop-color="#ffc5c5"/><stop offset="42.4%" stop-color="#ffc3c3"/><stop offset="45.2%" stop-color="#ffd1d1"/><stop offset="49.2%" stop-color="#fff7f7"/><stop offset="49.9%" stop-color="#ffffff"/><stop offset="55.5%" stop-color="#c4c4ff"/><stop offset="60.5%" stop-color="#9e9eff"/><stop offset="67.8%" stop-color="#7676ff"/><stop offset="74.4%" stop-color="#6161ff"/><stop offset="85.4%" stop-color="#5454ff"/><stop offset="100.0%" stop-color="#4d4dff"/></linearGradient><linearGradient id="g188" x1="0" x2="1" y1="0" y2="0"><stop offset="0.0%" stop-color="#5e5eff"/><stop offset="13.2%" stop-color="#6262ff"/><stop offset="18.4%" stop-color="#6f6fff"/><stop offset="22.8%" stop-color="#8a8aff"/><stop offset="27.3%" stop-color="#b2b2ff"/><stop offset="32.5%" stop-color="#f4f4ff"/><stop offset="33.2%" stop-color="#ffffff"/><stop offset="36.7%" stop-color="#ffd4d4"/><stop offset="39.3%" stop-color="#ffc1c1"/><stop offset="41.9%" stop-color="#ffbdbd"/><stop offset="44.7%" stop-color="#ffc8c8"/><stop offset="48.2%" stop-color="#ffe8e8"/><stop offset="50.4%" stop-color="#fefeff"/><stop offset="55.3%" stop-color="#c8c8ff"/><stop offset="60.0%" stop-color="#a3a3ff"/><stop offset="67.5%" stop-color="#7878ff"/><stop offset="74.1%" stop-color="#6262ff"/><stop offset="84.7%" stop-color="#5454ff"/><stop offset="100.0%" stop-color="#4c4cff"/></linearGradient><linearGradient id="g189" x1="0" x2="1" y1="0" y2="0"><stop offset="0.0%" stop-color="#5e5eff"/><stop offset="12.9%" stop-color="#6262ff"/><stop offset="18.1%" stop-color="#6f6fff"/><stop offset="22.6%" stop-color="#8a8aff"/><stop offset="27.1%" stop-color="#b2b2ff"/><stop offset="31.8%" stop-color="#efefff"/><stop offset="32.7%" stop-color="#fdfdff"/><stop offset="32.9%" stop-color="#fffefe"/><stop offset="36.5%" stop-color="#ffd0d0"/><stop offset="39.1%" stop-color="#ffbcbc"/><stop offset="41.6%" stop-color="#ffb6b6"/><stop offset="44.2%" stop-color="#ffbfbf"/><stop offset="47.5%" stop-color="#ffdada"/><stop offset="50.6%" stop-color="#fffefe"/><stop offset="55.5%" stop-color="#c8c8ff"/><stop offset="60.0%" stop-color="#a4a4ff"/><stop offset="67.8%" stop-color="#7777ff"/><stop offset="74.4%" stop-color="#6262ff"/><stop offset="84.9%" stop-color="#5454ff"/><stop offset="100.0%" stop-color="#4c4cff"/></linearGradient><linearGradient id="g190" x1="0" x2="1" y1="0" y2="0"><stop offset="0.0%" stop-color="#5e5eff"/><stop offset="12.7%" stop-color="#6262ff"/><stop offset="17.9%" stop-color="#7070ff"/><stop offset="22.4%" stop-color="#8a8aff"/><stop offset="26.6%" stop-color="#afafff"/><stop offset="31.1%" stop-color="#e8e8ff"/><stop offset="32.5%" stop-color="#fefeff"/><stop offset="36.2%" stop-color="#ffcdcd"/><stop offset="39.1%" stop-color="#ffb6b6"/><stop offset="41.6%" stop-color="#ffb0b0"/><stop offset="44.2%" stop-color="#ffb9b9"/><stop offset="47.5%" stop-color="#ffd5d5"/><stop offset="51.1%" stop-color="#ffffff"/><stop offset="55.1%" stop-color="#d0d0ff"/><stop offset="59.8%" stop-color="#a7a7ff"/><stop offset="67.5%" stop-color="#7979ff"/><stop offset="74.1%" stop-color="#6262ff"/><stop offset="84.2%" stop-color="#5454ff"/><stop offset="100.0%" stop-color="#4c4cff"/></linearGradient><linearGradient id="g191" x1="0" x2="1" y1="0" y2="0"><stop offset="0.0%" stop-color="#5e5eff"/><stop offset="12.5%" stop-color="#6262ff"/><stop offset="17.9%" stop-color="#7171ff"/><stop offset="22.6%" stop-color="#8d8dff"/><stop offset="26.4%" stop-color="#afafff"/><stop offset="30.4%" stop-color="#e2e2ff"/><stop offset="32.2%" stop-color="#fffefe"/><stop offset="35.8%" stop-color="#ffcccc"/><stop offset="38.6%" stop-color="#ffb2b2"/><stop offset="41.2%" stop-color="#ffa9a9"/><stop offset="43.8%" stop-color="#ffb0b0"/><stop offset="46.8%" stop-color="#ffc7c7"/><stop offset="51.3%" stop-color="#fffdfd"/><stop offset="51.8%" stop-color="#fbfbff"/><stop offset="55.5%" stop-color="#cdcdff"/><stop offset="60.2%" stop-color="#a4a4ff"/><stop offset="68.2%" stop-color="#7777ff"/><stop offset="75.1%" stop-color="#6161ff"/><stop offset="85.9%" stop-color="#5353ff"/><stop offset="100.0%" stop-color="#4b4bff"/></linearGradient><linearGradient id="g192" x1="0" x2="1" y1="0" y2="0"><stop offset="0.0%" stop-color="#5e5eff"/><stop offset="12.2%" stop-color="#6262ff"/><stop offset="17.6%" stop-color="#7171ff"/><stop offset="22.4%" stop-color="#8d8dff"/><stop offset="26.1%" stop-color="#afafff"/><stop offset="29.9%" stop-color="#dfdfff"/><stop offset="31.8%" stop-color="#fefeff"/><stop offset="35.8%" stop-color="#ffc6c6"/><stop offset="38.6%" stop-color="#ffacac"/><stop offset="41.2%" stop-color="#ffa3a3"/><stop offset="43.8%" stop-color="#ffa9a9"/><stop offset="46.8%" stop-color="#ffc1c1"/><stop offset="51.1%" stop-color="#fff5f5"/><stop offset="51.8%" stop-color="#fffefe"/><stop offset="55.8%" stop-color="#ceceff"/><stop offset="60.5%" stop-color="#a4a4ff"/><stop offset="68.7%" stop-color="#7676ff"/><stop offset="75.5%" stop-color="#6060ff"/><stop offset="86.8%" stop-color="#5252ff"/><stop offset="100.0%" stop-color="#4b4bff"/></linearGradient><linearGradient id="g193" x1="0" x2="1" y1="0" y2="0"><stop offset="0.0%" stop-color="#5e5eff"/><stop offset="12.0%" stop-color="#6262ff"/><stop offset="17.4%" stop-color="#7171ff"/><stop offset="22.1%" stop-color="#8d8dff"/><stop offset="25.6%" stop-color="#acacff"/><stop offset="29.4%" stop-color="#dcdcff"/><stop offset="31.5%" stop-color="#ffffff"/><stop offset="35.3%" stop-color="#ffc6c6"/><stop offset="38.1%" stop-color="#ffa8a8"/><stop offset="40.7%" stop-color="#ff9c9c"/><stop offset="43.3%" stop-color="#ffa0a0"/><stop offset="46.1%" stop-color="#ffb4b4"/><stop offset="50.1%" stop-color="#ffe3e3"/><stop offset="52.2%" stop-color="#fefeff"/><stop offset="55.8%" stop-color="#d0d0ff"/><stop offset="60.2%" stop-color="#a7a7ff"/><stop offset="68.5%" stop-color="#7878ff"/><stop offset="75.3%" stop-color="#6161ff"/><stop offset="85.9%" stop-color="#5252ff"/><stop offset="100.0%" stop-color="#4a4aff"/></linearGradient><linearGradient id="g194" x1="0" x2="1" y1="0" y2="0"><stop offset="0.0%" stop-color="#5e5eff"/><stop offset="11.8%" stop-color="#6262ff"/><stop offset="17.2%" stop-color="#7171ff"/><stop offset="21.9%" stop-color="#8c8cff"/><stop offset="25.4%" stop-color="#acacff"/><stop offset="28.9%" stop-color="#d9d9ff"/><stop offset="31.1%" stop-color="#fdfdff"/><stop offset="31.5%" stop-color="#fff9f9"/><stop offset="35.1%" stop-color="#ffc2c2"/><stop offset="37.9%" stop-color="#ffa3a3"/><stop offset="40.5%" stop-color="#ff9696"/><stop offset="43.1%" stop-color="#ff9898"/><stop offset="45.9%" stop-color="#ffabab"/><stop offset="49.6%" stop-color="#ffd6d6"/><stop offset="52.5%" stop-color="#fffefe"/><stop offset="54.1%" stop-color="#e9e9ff"/><stop offset="57.6%" stop-color="#bfbfff"/><stop offset="61.9%" stop-color="#9d9dff"/><stop offset="69.6%" stop-color="#7373ff"/><stop offset="76.7%" stop-color="#5e5eff"/><stop offset="88.9%" stop-color="#5050ff"/><stop offset="100.0%" stop-color="#4a4aff"/></linearGradient><linearGradient id="g195" x1="0" x2="1" y1="0" y2="0"><stop offset="0.0%" stop-color="#5e5eff"/><stop offset="11.5%" stop-color="#6262ff"/><stop offset="16.9%" stop-color="#7171ff"/><stop offset="21.6%" stop-color="#8c8cff"/><stop offset="24.9%" stop-color="#a9a9ff"/><stop offset="28.5%" stop-color="#d6d6ff"/><stop offset="30.8%" stop-color="#ffffff"/><stop offset="34.8%" stop-color="#ffbfbf"/><stop offset="37.6%" stop-color="#ff9f9f"/><stop offset="40.2%" stop-color="#ff8f8f"/><stop offset="42.8%" stop-color="#ff9090"/><stop offset="45.6%" stop-color="#ffa2a2"/><stop offset="49.2%" stop-color="#ffcaca"/><stop offset="52.9%" stop-color="#ffffff"/><stop offset="56.5%" stop-color="#cfcfff"/><stop offset="60.7%" stop-color="#a6a6ff"/><stop offset="68.7%" stop-color="#7878ff"/><stop offset="75.5%" stop-color="#6161ff"/><stop offset="86.1%" stop-color="#5252ff"/><stop offset="100.0%" stop-color="#4a4aff"/></linearGradient><linearGradient id="g196" x1="0" x2="1" y1="0" y2="0"><stop offset="0.0%" stop-color="#5e5eff"/><stop offset="11.3%" stop-color="#6363ff"/><stop offset="16.7%" stop-color="#7171ff"/><stop offset="21.6%" stop-color="#8e8eff"/><stop offset="24.9%" stop-color="#ababff"/><stop offset="28.2%" stop-color="#d7d7ff"/><stop offset="30.6%" stop-color="#fffefe"/><stop offset="34.6%" stop-color="#ffbcbc"/><stop offset="37.4%" stop-color="#ff9a9a"/><stop offset="40.0%" stop-color="#ff8989"/><stop offset="42.4%" stop-color="#ff8888"/><stop offset="44.9%" stop-color="#ff9595"/><stop offset="48.2%" stop-color="#ffb8b8"/><stop offset="53.2%" stop-color="#fffdfd"/><stop offset="53.6%" stop-color="#fafaff"/><stop offset="56.9%" stop-color="#ccccff"/><stop offset="60.9%" stop-color="#a6a6ff"/><stop offset="68.7%" stop-color="#7979ff"/><stop offset="75.5%" stop-color="#6161ff"/><stop offset="85.9%" stop-color="#5252ff"/><stop offset="100.0%" stop-color="#4949ff"/></linearGradient><linearGradient id="g197" x1="0" x2="1" y1="0" y2="0"><stop offset="0.0%" stop-color="#5e5eff"/><stop offset="11.1%" stop-color="#6363ff"/><stop offset="16.5%" stop-color="#7171ff"/><stop offset="21.4%" stop-color="#8e8eff"/><stop offset="24.5%" stop-color="#a9a9ff"/><stop offset="27.8%" stop-color="#d4d4ff"/><stop offset="30.1%" stop-color="#fdfdff"/><stop offset="30.6%" stop-color="#fff8f8"/><stop offset="34.6%" stop-color="#ffb5b5"/><stop offset="37.4%" stop-color="#ff9393"/><stop offset="40.0%" stop-color="#ff8181"/><stop offset="42.4%" stop-color="#ff8080"/><stop offset="44.9%" stop-color="#ff8e8e"/><stop offset="48.2%" stop-color="#ffb1b1"/><stop offset="53.6%" stop-color="#ffffff"/><stop offset="57.4%" stop-color="#cacaff"/><stop offset="61.4%" stop-color="#a4a4ff"/><stop offset="69.2%" stop-color="#7878ff"/><stop offset="76.2%" stop-color="#6060ff"/><stop offset="87.1%" stop-color="#5050ff"/><stop offset="100.0%" stop-color="#4949ff"/></linearGradient><linearGradient id="g198" x1="0" x2="1" y1="0" y2="0"><stop offset="0.0%" stop-color="#5e5eff"/><stop offset="11.1%" stop-color="#6363ff"/><stop offset="16.5%" stop-color="#7272ff"/><stop offset="21.4%" stop-color="#8f8fff"/><stop offset="24.5%" stop-color="#ababff"/><stop offset="27.5%" stop-color="#d4d4ff"/><stop offset="29.9%" stop-color="#ffffff"/><stop offset="34.1%" stop-color="#ffb5b5"/><stop offset="37.2%" stop-color="#ff8e8e"/><stop offset="39.8%" stop-color="#ff7b7b"/><stop offset="42.1%" stop-color="#ff7878"/><stop offset="44.7%" stop-color="#ff8585"/><stop offset="48.0%" stop-color="#ffa7a7"/><stop offset="52.9%" stop-color="#ffeeee"/><stop offset="53.9%" stop-color="#fffdfd"/><stop offset="54.1%" stop-color="#fdfdff"/><stop offset="57.6%" stop-color="#cbcbff"/><stop offset="61.4%" stop-color="#a6a6ff"/><stop offset="68.2%" stop-color="#7d7dff"/><stop offset="75.1%" stop-color="#6363ff"/><stop offset="84.7%" stop-color="#5252ff"/><stop offset="100.0%" stop-color="#4848ff"/></linearGradient><linearGradient id="g199" x1="0" x2="1" y1="0" y2="0"><stop offset="0.0%" stop-color="#5e5eff"/><stop offset="10.8%" stop-color="#6363ff"/><stop offset="16.5%" stop-color="#7373ff"/><stop offset="21.4%" stop-color="#9191ff"/><stop offset="24.5%" stop-color="#aeaeff"/><stop offset="27.3%" stop-color="#d5d5ff"/><stop offset="29.4%" stop-color="#fcfcff"/><stop offset="29.6%" stop-color="#fffdfd"/><stop offset="33.9%" stop-color="#ffb2b2"/><stop offset="36.9%" stop-color="#ff8989"/><stop offset="39.5%" stop-color="#ff7474"/><stop offset="41.9%" stop-color="#ff7070"/><stop offset="44.5%" stop-color="#ff7c7c"/><stop offset="47.5%" stop-color="#ff9a9a"/><stop offset="52.2%" stop-color="#ffdddd"/><stop offset="54.4%" stop-color="#fffefe"/><stop offset="58.1%" stop-color="#c8c8ff"/><stop offset="61.9%" stop-color="#a4a4ff"/><stop offset="69.2%" stop-color="#7979ff"/><stop offset="76.2%" stop-color="#6060ff"/><stop offset="86.8%" stop-color="#5050ff"/><stop offset="100.0%" stop-color="#4848ff"/></linearGradient><linearGradient id="g200" x1="0" x2="1" y1="0" y2="0"><stop offset="0.0%" stop-color="#5e5eff"/><stop offset="10.6%" stop-color="#6363ff"/><stop offset="16.2%" stop-color="#7373ff"/><stop offset="21.4%" stop-color="#9292ff"/><stop offset="24.5%" stop-color="#b0b0ff"/><stop offset="27.1%" stop-color="#d6d6ff"/><stop offset="29.2%" stop-color="#fefeff"/><stop offset="30.1%" stop-color="#ffeeee"/><stop offset="34.4%" stop-color="#ffa4a4"/><stop offset="37.2%" stop-color="#ff7f7f"/><stop offset="39.5%" stop-color="#ff6c6c"/><stop offset="41.9%" stop-color="#ff6868"/><stop offset="44.5%" stop-color="#ff7474"/><stop offset="47.5%" stop-color="#ff9393"/><stop offset="52.0%" stop-color="#ffd3d3"/><stop offset="54.6%" stop-color="#fffcfc"/><stop offset="54.8%" stop-color="#fefeff"/><stop offset="58.6%" stop-color="#c6c6ff"/><stop offset="62.4%" stop-color="#a2a2ff"/><stop offset="69.6%" stop-color="#7878ff"/><stop offset="76.7%" stop-color="#6060ff"/><stop offset="87.5%" stop-color="#4f4fff"/><stop offset="100.0%" stop-color="#4747ff"/></linearGradient><linearGradient id="g201" x1="0" x2="1" y1="0" y2="0"><stop offset="0.0%" stop-color="#5e5eff"/><stop offset="10.4%" stop-color="#6464ff"/><stop offset="16.0%" stop-color="#7474ff"/><stop offset="21.2%" stop-color="#9292ff"/><stop offset="24.2%" stop-color="#b0b0ff"/><stop offset="26.8%" stop-color="#d7d7ff"/><stop offset="28.9%" stop-color="#ffffff"/><stop offset="33.6%" stop-color="#ffa8a8"/><stop offset="36.7%" stop-color="#ff7c7c"/><stop offset="39.3%" stop-color="#ff6666"/><stop offset="41.6%" stop-color="#ff6060"/><stop offset="44.0%" stop-color="#ff6969"/><stop offset="46.8%" stop-color="#ff8383"/><stop offset="50.8%" stop-color="#ffbaba"/><stop offset="55.1%" stop-color="#fffefe"/><stop offset="59.1%" stop-color="#c4c4ff"/><stop offset="62.6%" stop-color="#a2a2ff"/><stop offset="69.4%" stop-color="#7a7aff"/><stop offset="76.5%" stop-color="#6060ff"/><stop offset="86.8%" stop-color="#5050ff"/><stop offset="100.0%" stop-color="#4747ff"/></linearGradient><linearGradient id="g202" x1="0" x2="1" y1="0" y2="0"><stop offset="0.0%" stop-color="#5e5eff"/><stop offset="10.1%" stop-color="#6464ff"/><stop offset="15.8%" stop-color="#7474ff"/><stop offset="20.9%" stop-color="#9292ff"/><stop offset="24.0%" stop-color="#b0b0ff"/><stop offset="26.4%" stop-color="#d3d3ff"/><stop offset="28.5%" stop-color="#fcfcff"/><stop offset="28.7%" stop-color="#fffdfd"/><stop offset="33.4%" stop-color="#ffa4a4"/><stop offset="36.5%" stop-color="#ff7777"/><stop offset="39.1%" stop-color="#ff5f5f"/><stop offset="41.4%" stop-color="#ff5757"/><stop offset="43.8%" stop-color="#ff5f5f"/><stop offset="46.6%" stop-color="#ff7979"/><stop offset="50.4%" stop-color="#ffacac"/><stop offset="55.5%" stop-color="#fefeff"/><stop offset="59.3%" stop-color="#c4c4ff"/><stop offset="62.8%" stop-color="#a2a2ff"/><stop offset="69.2%" stop-color="#7c7cff"/><stop offset="76.2%" stop-color="#6161ff"/><stop offset="86.4%" stop-color="#5050ff"/><stop offset="100.0%" stop-color="#4646ff"/></linearGradient><linearGradient id="g203" x1="0" x2="1" y1="0" y2="0"><stop offset="0.0%" stop-color="#5e5eff"/><stop offset="10.1%" stop-color="#6464ff"/><stop offset="15.8%" stop-color="#7575ff"/><stop offset="20.9%" stop-color="#9393ff"/><stop offset="24.0%" stop-color="#b3b3ff"/><stop offset="26.1%" stop-color="#d4d4ff"/><stop offset="28.2%" stop-color="#fefeff"/><stop offset="28.9%" stop-color="#fff2f2"/><stop offset="33.6%" stop-color="#ff9999"/><stop offset="36.7%" stop-color="#ff6c6c"/><stop offset="39.3%" stop-color="#ff5555"/><stop offset="41.4%" stop-color="#ff4f4f"/><stop offset="43.8%" stop-color="#ff5757"/><stop offset="46.6%" stop-color="#ff7171"/><stop offset="50.4%" stop-color="#ffa5a5"/><stop offset="55.8%" stop-color="#fffefe"/><stop offset="59.8%" stop-color="#c2c2ff"/><stop offset="63.3%" stop-color="#a0a0ff"/><stop offset="69.4%" stop-color="#7b7bff"/><stop offset="76.5%" stop-color="#6161ff"/><stop offset="86.6%" stop-color="#4f4fff"/><stop offset="100.0%" stop-color="#4646ff"/></linearGradient><linearGradient id="g204" x1="0" x2="1" y1="0" y2="0"><stop offset="0.0%" stop-color="#5e5eff"/><stop offset="9.9%" stop-color="#6464ff"/><stop offset="15.5%" stop-color="#7575ff"/><stop offset="20.7%" stop-color="#9393ff"/><stop offset="23.8%" stop-color="#b3b3ff"/><stop offset="25.9%" stop-color="#d5d5ff"/><stop offset="28.0%" stop-color="#ffffff"/><stop offset="33.2%" stop-color="#ff9a9a"/><stop offset="36.2%" stop-color="#ff6a6a"/><stop offset="38.8%" stop-color="#ff4f4f"/><stop offset="40.9%" stop-color="#ff4646"/><stop offset="43.3%" stop-color="#ff4b4b"/><stop offset="45.9%" stop-color="#ff6161"/><stop offset="49.4%" stop-color="#ff8f8f"/><stop offset="56.2%" stop-color="#fefeff"/><stop offset="60.0%" stop-color="#c3c3ff"/><stop offset="63.3%" stop-color="#a1a1ff"/><stop offset="68.2%" stop-color="#8282ff"/><stop offset="75.3%" stop-color="#6565ff"/><stop offset="84.5%" stop-color="#5252ff"/><stop offset="100.0%" stop-color="#4545ff"/></linearGradient><linearGradient id="g205" x1="0" x2="1" y1="0" y2="0"><stop offset="0.0%" stop-color="#5e5eff"/><stop offset="9.6%" stop-color="#6464ff"/><stop offset="15.3%" stop-color="#7575ff"/><stop offset="20.5%" stop-color="#9393ff"/><stop offset="23.5%" stop-color="#b4b4ff"/><stop offset="25.6%" stop-color="#d6d6ff"/><stop offset="27.5%" stop-color="#fcfcff"/><stop offset="27.8%" stop-color="#fffdfd"/><stop offset="33.2%" stop-color="#ff9292"/><stop offset="36.2%" stop-color="#ff6262"/><stop offset="38.8%" stop-color="#ff4747"/><stop offset="40.9%" stop-color="#ff3e3e"/><stop offset="43.3%" stop-color="#ff4242"/><stop offset="45.9%" stop-color="#ff5858"/><stop offset="49.4%" stop-color="#ff8787"/><stop offset="56.5%" stop-color="#fffefe"/><stop offset="60.5%" stop-color="#c1c1ff"/><stop offset="63.8%" stop-color="#a0a0ff"/><stop offset="68.5%" stop-color="#8282ff"/><stop offset="75.5%" stop-color="#6565ff"/><stop offset="84.7%" stop-color="#5151ff"/><stop offset="100.0%" stop-color="#4545ff"/></linearGradient><linearGradient id="g206" x1="0" x2="1" y1="0" y2="0"><stop offset="0.0%" stop-color="#5e5eff"/><stop offset="9.6%" stop-color="#6565ff"/><stop offset="15.3%" stop-color="#7676ff"/><stop offset="20.2%" stop-color="#9393ff"/><stop offset="23.3%" stop-color="#b4b4ff"/><stop offset="25.2%" stop-color="#d3d3ff"/><stop offset="27.3%" stop-color="#fdfdff"/><stop offset="27.8%" stop-color="#fff7f7"/><stop offset="32.9%" stop-color="#ff8e8e"/><stop offset="36.2%" stop-color="#ff5959"/><stop offset="38.6%" stop-color="#ff4040"/><stop offset="40.7%" stop-color="#ff3535"/><stop offset="43.1%" stop-color="#ff3939"/><stop offset="45.4%" stop-color="#ff4a4a"/><stop offset="48.9%" stop-color="#ff7878"/><stop offset="54.6%" stop-color="#ffd7d7"/><stop offset="56.9%" stop-color="#fefeff"/><stop offset="60.9%" stop-color="#bebeff"/><stop offset="64.2%" stop-color="#9e9eff"/><stop offset="68.7%" stop-color="#8181ff"/><stop offset="75.8%" stop-color="#6464ff"/><stop offset="84.9%" stop-color="#5151ff"/><stop offset="100.0%" stop-color="#4444ff"/></linearGradient><linearGradient id="g207" x1="0" x2="1" y1="0" y2="0"><stop offset="0.0%" stop-color="#5e5eff"/><stop offset="9.4%" stop-color="#6565ff"/><stop offset="15.1%" stop-color="#7676ff"/><stop offset="20.0%" stop-color="#9292ff"/><stop offset="22.8%" stop-color="#b1b1ff"/><stop offset="24.7%" stop-color="#cfcfff"/><stop offset="27.1%" stop-color="#ffffff"/><stop offset="32.9%" stop-color="#ff8787"/><stop offset="36.2%" stop-color="#ff5151"/><stop offset="38.6%" stop-color="#ff3737"/><stop offset="40.9%" stop-color="#ff2d2d"/><stop offset="43.3%" stop-color="#ff3232"/><stop offset="45.6%" stop-color="#ff4444"/><stop offset="48.9%" stop-color="#ff7070"/><stop offset="54.6%" stop-color="#ffd0d0"/><stop offset="57.2%" stop-color="#fffefe"/><stop offset="61.4%" stop-color="#bcbcff"/><stop offset="64.7%" stop-color="#9c9cff"/><stop offset="68.7%" stop-color="#8282ff"/><stop offset="75.8%" stop-color="#6565ff"/><stop offset="84.9%" stop-color="#5151ff"/><stop offset="100.0%" stop-color="#4444ff"/></linearGradient><linearGradient id="g208" x1="0" x2="1" y1="0" y2="0"><stop offset="0.0%" stop-color="#5e5eff"/><stop offset="9.4%" stop-color="#6666ff"/><stop offset="15.1%" stop-color="#7777ff"/><stop offset="19.8%" stop-color="#9292ff"/><stop offset="22.6%" stop-color="#b1b1ff"/><stop offset="24.5%" stop-color="#d0d0ff"/><stop offset="26.6%" stop-color="#fbfbff"/><stop offset="26.8%" stop-color="#fffefe"/><stop offset="32.7%" stop-color="#ff8383"/><stop offset="36.0%" stop-color="#ff4b4b"/><stop offset="38.4%" stop-color="#ff3131"/><stop offset="40.7%" stop-color="#ff2525"/><stop offset="43.1%" stop-color="#ff2828"/><stop offset="45.6%" stop-color="#ff3b3b"/><stop offset="48.5%" stop-color="#ff6060"/><stop offset="53.4%" stop-color="#ffb3b3"/><stop offset="57.4%" stop-color="#fffcfc"/><stop offset="57.6%" stop-color="#fefeff"/><stop offset="61.6%" stop-color="#bdbdff"/><stop offset="64.9%" stop-color="#9c9cff"/><stop offset="68.5%" stop-color="#8484ff"/><stop offset="75.5%" stop-color="#6666ff"/><stop offset="84.5%" stop-color="#5151ff"/><stop offset="99.5%" stop-color="#4343ff"/><stop offset="100.0%" stop-color="#4343ff"/></linearGradient><linearGradient id="g209" x1="0" x2="1" y1="0" y2="0"><stop offset="0.0%" stop-color="#5e5eff"/><stop offset="9.2%" stop-color="#6666ff"/><stop offset="15.1%" stop-color="#7878ff"/><stop offset="19.8%" stop-color="#9494ff"/><stop offset="22.6%" stop-color="#b4b4ff"/><stop offset="24.7%" stop-color="#dadaff"/><stop offset="26.4%" stop-color="#fdfdff"/><stop offset="26.6%" stop-color="#fffcfc"/><stop offset="32.7%" stop-color="#ff7b7b"/><stop offset="36.0%" stop-color="#ff4242"/><stop offset="38.6%" stop-color="#ff2626"/><stop offset="40.9%" stop-color="#ff1c1c"/><stop offset="43.3%" stop-color="#ff2121"/><stop offset="45.9%" stop-color="#ff3636"/><stop offset="48.7%" stop-color="#ff5b5b"/><stop offset="54.1%" stop-color="#ffb9b9"/><stop offset="57.9%" stop-color="#fffefe"/><stop offset="62.1%" stop-color="#babaff"/><stop offset="65.6%" stop-color="#9898ff"/><stop offset="69.9%" stop-color="#7d7dff"/><stop offset="77.2%" stop-color="#6161ff"/><stop offset="87.1%" stop-color="#4d4dff"/><stop offset="100.0%" stop-color="#4242ff"/></linearGradient><linearGradient id="g210" x1="0" x2="1" y1="0" y2="0"><stop offset="0.0%" stop-color="#5e5eff"/><stop offset="9.2%" stop-color="#6666ff"/><stop offset="15.1%" stop-color="#7979ff"/><stop offset="19.5%" stop-color="#9494ff"/><stop offset="22.1%" stop-color="#b1b1ff"/><stop offset="24.0%" stop-color="#d2d2ff"/><stop offset="26.1%" stop-color="#fefeff"/><stop offset="32.7%" stop-color="#ff7373"/><stop offset="35.5%" stop-color="#ff4040"/><stop offset="38.1%" stop-color="#ff2222"/><stop offset="40.5%" stop-color="#ff1515"/><stop offset="43.1%" stop-color="#ff1818"/><stop offset="45.4%" stop-color="#ff2828"/><stop offset="48.2%" stop-color="#ff4b4b"/><stop offset="53.4%" stop-color="#ffa4a4"/><stop offset="58.1%" stop-color="#fffcfc"/><stop offset="58.4%" stop-color="#fefeff"/><stop offset="62.1%" stop-color="#bfbfff"/><stop offset="65.2%" stop-color="#9d9dff"/><stop offset="68.5%" stop-color="#8686ff"/><stop offset="75.8%" stop-color="#6666ff"/><stop offset="84.7%" stop-color="#5151ff"/><stop offset="99.5%" stop-color="#4242ff"/><stop offset="100.0%" stop-color="#4242ff"/></linearGradient><linearGradient id="g211" x1="0" x2="1" y1="0" y2="0"><stop offset="0.0%" stop-color="#5e5eff"/><stop offset="8.9%" stop-color="#6666ff"/><stop offset="14.8%" stop-color="#7979ff"/><stop offset="19.1%" stop-color="#9292ff"/><stop offset="21.9%" stop-color="#b1b1ff"/><stop offset="24.0%" stop-color="#d7d7ff"/><stop offset="25.9%" stop-color="#ffffff"/><stop offset="32.5%" stop-color="#ff6f6f"/><stop offset="35.3%" stop-color="#ff3b3b"/><stop offset="37.9%" stop-color="#ff1c1c"/><stop offset="40.2%" stop-color="#ff0f0f"/><stop offset="43.1%" stop-color="#ff1111"/><stop offset="45.4%" stop-color="#ff2020"/><stop offset="48.5%" stop-color="#ff4646"/><stop offset="53.6%" stop-color="#ffa1a1"/><stop offset="58.6%" stop-color="#fffefe"/><stop offset="62.8%" stop-color="#b9b9ff"/><stop offset="66.4%" stop-color="#9595ff"/><stop offset="70.4%" stop-color="#7d7dff"/><stop offset="77.9%" stop-color="#5f5fff"/><stop offset="88.0%" stop-color="#4c4cff"/><stop offset="100.0%" stop-color="#4141ff"/></linearGradient><linearGradient id="g212" x1="0" x2="1" y1="0" y2="0"><stop offset="0.0%" stop-color="#5e5eff"/><stop offset="8.9%" stop-color="#6767ff"/><stop offset="14.8%" stop-color="#7a7aff"/><stop offset="18.8%" stop-color="#9292ff"/><stop offset="21.4%" stop-color="#aeaeff"/><stop offset="23.3%" stop-color="#cfcfff"/><stop offset="25.4%" stop-color="#fcfcff"/><stop offset="25.6%" stop-color="#fffdfd"/><stop offset="32.5%" stop-color="#ff6666"/><stop offset="35.1%" stop-color="#ff3737"/><stop offset="37.4%" stop-color="#ff1919"/><stop offset="39.8%" stop-color="#ff0b0b"/><stop offset="42.6%" stop-color="#ff0a0a"/><stop offset="45.2%" stop-color="#ff1616"/><stop offset="47.8%" stop-color="#ff3333"/><stop offset="50.8%" stop-color="#ff6565"/><stop offset="58.8%" stop-color="#fffcfc"/><stop offset="59.1%" stop-color="#fdfdff"/><stop offset="62.8%" stop-color="#bdbdff"/><stop offset="65.9%" stop-color="#9b9bff"/><stop offset="69.2%" stop-color="#8383ff"/><stop offset="76.5%" stop-color="#6464ff"/><stop offset="85.6%" stop-color="#4f4fff"/><stop offset="99.5%" stop-color="#4141ff"/><stop offset="100.0%" stop-color="#4141ff"/></linearGradient><linearGradient id="g213" x1="0" x2="1" y1="0" y2="0"><stop offset="0.0%" stop-color="#5e5eff"/><stop offset="8.7%" stop-color="#6767ff"/><stop offset="14.6%" stop-color="#7a7aff"/><stop offset="18.6%" stop-color="#9191ff"/><stop offset="21.2%" stop-color="#aeaeff"/><stop offset="23.1%" stop-color="#ceceff"/><stop offset="25.2%" stop-color="#fbfbff"/><stop offset="25.4%" stop-color="#fffdfd"/><stop offset="32.5%" stop-color="#ff5f5f"/><stop offset="35.1%" stop-color="#ff3030"/><stop offset="37.2%" stop-color="#ff1515"/><stop offset="39.8%" stop-color="#ff0707"/><stop offset="42.8%" stop-color="#ff0707"/><stop offset="45.6%" stop-color="#ff1515"/><stop offset="48.0%" stop-color="#ff3030"/><stop offset="51.1%" stop-color="#ff6262"/><stop offset="59.1%" stop-color="#fffcfc"/><stop offset="59.3%" stop-color="#fefeff"/><stop offset="63.1%" stop-color="#bdbdff"/><stop offset="66.1%" stop-color="#9a9aff"/><stop offset="69.4%" stop-color="#8383ff"/><stop offset="76.7%" stop-color="#6464ff"/><stop offset="86.1%" stop-color="#4e4eff"/><stop offset="99.8%" stop-color="#4040ff"/><stop offset="100.0%" stop-color="#4040ff"/></linearGradient>
<linearGradient id="cb" x1="0" x2="0" y1="0" y2="1"><stop offset="0" stop-color="#0000ff"/><stop offset="0.5" stop-color="#ffffff"/><stop offset="1" stop-color="#ff0000"/></linearGradient>
</defs>
<rect width="550" height="259" fill="#fff"/>
<g shape-rendering="crispEdges">
<rect x="42.00" y="8.00" width="212.80" height="1.00" fill="url(#g1)"/>
<rect x="42.00" y="9.00" width="212.80" height="1.00" fill="url(#g2)"/>
<rect x="42.00" y="10.00" width="212.80" height="1.00" fill="url(#g3)"/>
<rect x="42.00" y="11.00" width="212.80" height="1.00" fill="url(#g4)"/>
<rect x="42.00" y="12.00" width="212.80" height="1.00" fill="url(#g5)"/>
<rect x="42.00" y="13.00" width="212.80" height="1.00" fill="url(#g6)"/>
<rect x="42.00" y="14.00" width="212.80" height="1.00" fill="url(#g7)"/>
<rect x="42.00" y="15.00" width="212.80" height="1.00" fill="url(#g8)"/>
<rect x="42.00" y="16.00" width="212.80" height="1.00" fill="url(#g9)"/>
<rect x="42.00" y="17.00" width="212.80" height="1.00" fill="url(#g10)"/>
<rect x="42.00" y="18.00" width="212.80" height="1.00" fill="url(#g11)"/>
<rect x="42.00" y="19.00" width="212.80" height="1.00" fill="url(#g12)"/>
<rect x="42.00" y="20.00" width="212.80" height="1.00" fill="url(#g13)"/>
<rect x="42.00" y="21.00" width="212.80" height="1.00" fill="url(#g14)"/>
<rect x="42.00" y="22.00" width="212.80" height="1.00" fill="url(#g15)"/>
<rect x="42.00" y="23.00" width="212.80" height="1.00" fill="url(#g16)"/>
<rect x="42.00" y="24.00" width="212.80" height="1.00" fill="url(#g17)"/>
<rect x="42.00" y="25.00" width="212.80" height="1.00" fill="url(#g18)"/>
<rect x="42.00" y="26.00" width="212.80" height="1.00" fill="url(#g19)"/>
<rect x="42.00" y="27.00" width="212.80" height="1.00" fill="url(#g20)"/>
<rect x="42.00" y="28.00" width="212.80" height="1.00" fill="url(#g21)"/>
<rect x="42.00" y="29.00" width="212.80" height="1.00" fill="url(#g22)"/>
<rect x="42.00" y="30.00" width="212.80" height="1.00" fill="url(#g23)"/>
<rect x="42.00" y="31.00" width="212.80" height="1.00" fill="url(#g24)"/>
<rect x="42.00" y="32.00" width="212.80" height="1.00" fill="url(#g25)"/>
<rect x="42.00" y="33.00" width="212.80" height="1.00" fill="url(#g26)"/>
<rect x="42.00" y="34.00" width="212.80" height="1.00" fill="url(#g27)"/>
<rect x="42.00" y="35.00" width="212.80" height="1.00" fill="url(#g28)"/>
<rect x="42.00" y="36.00" width="212.80" height="1.00" fill="url(#g29)"/>
<rect x="42.00" y="37.00" width="212.80" height="1.00" fill="url(#g30)"/>
<rect x="42.00" y="38.00" width="212.80" height="1.00" fill="url(#g31)"/>
<rect x="42.00" y="39.00" width="212.80" height="1.00" fill="url(#g32)"/>
<rect x="42.00" y="40.00" width="212.80" height="1.00" fill="url(#g33)"/>
<rect x="42.00" y="41.00" width="212.80" height="1.00" fill="url(#g34)"/>
<rect x="42.00" y="42.00" width="212.80" height="1.00" fill="url(#g35)"/>
<rect x="42.00" y="43.00" width="212.80" height="1.00" fill="url(#g36)"/>
<rect x="42.00" y="44.00" width="212.80" height="1.00" fill="url(#g37)"/>
<rect x="42.00" y="45.00" width="212.80" height="1.00" fill="url(#g38)"/>
<rect x="42.00" y="46.00" width="212.80" height="1.00" fill="url(#g39)"/>
<rect x="42.00" y="47.00" width="212.80" height="1.00" fill="url(#g40)"/>
<rect x="42.00" y="48.00" width="212.80" height="1.00" fill="url(#g41)"/>
<rect x="42.00" y="49.00" width="212.80" height="1.00" fill="url(#g42)"/>
<rect x="42.00" y="50.00" width="212.80" height="1.00" fill="url(#g43)"/>
<rect x="42.00" y="51.00" width="212.80" height="1.00" fill="url(#g44)"/>
<rect x="42.00" y="52.00" width="212.80" height="1.00" fill="url(#g45)"/>
<rect x="42.00" y="53.00" width="212.80" height="1.00" fill="url(#g46)"/>
<rect x="42.00" y="54.00" width="212.80" height="1.00" fill="url(#g47)"/>
<rect x="42.00" y="55.00" width="212.80" height="1.00" fill="url(#g48)"/>
<rect x="42.00" y="56.00" width="212.80" height="1.00" fill="url(#g49)"/>
<rect x="42.00" y="57.00" width="212.80" height="1.00" fill="url(#g50)"/>
<rect x="42.00" y="58.00" width="212.80" height="1.00" fill="url(#g51)"/>
<rect x="42.00" y="59.00" width="212.80" height="1.00" fill="url(#g52)"/>
<rect x="42.00" y="60.00" width="212.80" height="1.00" fill="url(#g53)"/>
<rect x="42.00" y="61.00" width="212.80" height="1.00" fill="url(#g54)"/>
<rect x="42.00" y="62.00" width="212.80" height="1.00" fill="url(#g55)"/>
<rect x="42.00" y="63.00" width="212.80" height="1.00" fill="url(#g56)"/>
<rect x="42.00" y="64.00" width="212.80" height="1.00" fill="url(#g57)"/>
<rect x="42.00" y="65.00" width="212.80" height="1.00" fill="url(#g58)"/>
<rect x="42.00" y="66.00" width="212.80" height="1.00" fill="url(#g59)"/>
<rect x="42.00" y="67.00" width="212.80" height="1.00" fill="url(#g60)"/>
<rect x="42.00" y="68.00" width="212.80" height="1.00" fill="url(#g61)"/>
<rect x="42.00" y="69.00" width="212.80" height="1.00" fill="url(#g62)"/>
<rect x="42.00" y="70.00" width="212.80" height="1.00" fill="url(#g63)"/>
<rect x="42.00" y="71.00" width="212.80" height="1.00" fill="url(#g64)"/>
<rect x="42.00" y="72.00" width="212.80" height="1.00" fill="url(#g65)"/>
<rect x="42.00" y="73.00" width="212.80" height="1.00" fill="url(#g66)"/>
<rect x="42.00" y="74.00" width="212.80" height="1.00" fill="url(#g67)"/>
<rect x="42.00" y="75.00" width="212.80" height="1.00" fill="url(#g68)"/>
<rect x="42.00" y="76.00" width="212.80" height="1.00" fill="url(#g69)"/>
<rect x="42.00" y="77.00" width="212.80" height="1.00" fill="url(#g70)"/>
<rect x="42.00" y="78.00" width="212.80" height="1.00" fill="url(#g71)"/>
<rect x="42.00" y="79.00" width="212.80" height="1.00" fill="url(#g72)"/>
<rect x="42.00" y="80.00" width="212.80" height="1.00" fill="url(#g73)"/>
<rect x="42.00" y="81.00" width="212.80" height="1.00" fill="url(#g74)"/>
<rect x="42.00" y="82.00" width="212.80" height="1.00" fill="url(#g75)"/>
<rect x="42.00" y="83.00" width="212.80" height="1.00" fill="url(#g76)"/>
<rect x="42.00" y="84.00" width="212.80" height="1.00" fill="url(#g77)"/>
<rect x="42.00" y="85.00" width="212.80" height="1.00" fill="url(#g78)"/>
<rect x="42.00" y="86.00" width="212.80" height="1.00" fill="url(#g79)"/>
<rect x="42.00" y="87.00" width="212.80" height="1.00" fill="url(#g80)"/>
<rect x="42.00" y="88.00" width="212.80" height="1.00" fill="url(#g81)"/>
<rect x="42.00" y="89.00" width="212.80" height="1.00" fill="url(#g82)"/>
<rect x="42.00" y="90.00" width="212.80" height="1.00" fill="url(#g83)"/>
<rect x="42.00" y="91.00" width="212.80" height="1.00" fill="url(#g84)"/>
<rect x="42.00" y="92.00" width="212.80" height="1.00" fill="url(#g85)"/>
<rect x="42.00" y="93.00" width="212.80" height="1.00" fill="url(#g86)"/>
<rect x="42.00" y="94.00" width="212.80" height="1.00" fill="url(#g87)"/>
<rect x="42.00" y="95.00" width="212.80" height="1.00" fill="url(#g88)"/>
<rect x="42.00" y="96.00" width="212.80" height="1.00" fill="url(#g89)"/>
<rect x="42.00" y="97.00" width="212.80" height="1.00" fill="url(#g90)"/>
<rect x="42.00" y="98.00" width="212.80" height="1.00" fill="url(#g91)"/>
<rect x="42.00" y="99.00" width="212.80" height="1.00" fill="url(#g92)"/>
<rect x="42.00" y="100.00" width="212.80" height="1.00" fill="url(#g93)"/>
<rect x="42.00" y="101.00" width="212.80" height="1.00" fill="url(#g94)"/>
<rect x="42.00" y="102.00" width="212.80" height="1.00" fill="url(#g95)"/>
<rect x="42.00" y="103.00" width="212.80" height="1.00" fill="url(#g96)"/>
<rect x="42.00" y="104.00" width="212.80" height="1.00" fill="url(#g97)"/>
<rect x="42.00" y="105.00" width="212.80" height="1.00" fill="url(#g98)"/>
<rect x="42.00" y="106.00" width="212.80" height="1.00" fill="url(#g99)"/>
<rect x="42.00" y="107.00" width="212.80" height="1.00" fill="url(#g100)"/>
<rect x="42.00" y="108.00" width="212.80" height="1.00" fill="url(#g101)"/>
<rect x="42.00" y="109.00" width="212.80" height="1.00" fill="url(#g102)"/>
<rect x="42.00" y="110.00" width="212.80" height="1.00" fill="url(#g103)"/>
<rect x="42.00" y="111.00" width="212.80" height="1.00" fill="url(#g104)"/>
<rect x="42.00" y="112.00" width="212.80" height="1.00" fill="url(#g105)"/>
<rect x="42.00" y="113.00" width="212.80" height="0.60" fill="url(#g106)"/>
<rect x="42.00" y="113.60" width="212.80" height="0.40" fill="url(#g107)"/>
<rect x="42.00" y="114.00" width="212.80" height="1.00" fill="url(#g108)"/>
<rect x="42.00" y="115.00" width="212.80" height="1.00" fill="url(#g109)"/>
<rect x="42.00" y="116.00" width="212.80" height="1.00" fill="url(#g110)"/>
<rect x="42.00" y="117.00" width="212.80" height="1.00" fill="url(#g111)"/>
<rect x="42.00" y="118.00" width="212.80" height="1.00" fill="url(#g112)"/>
<rect x="42.00" y="119.00" width="212.80" height="1.00" fill="url(#g113)"/>
<rect x="42.00" y="120.00" width="212.80" height="1.00" fill="url(#g114)"/>
<rect x="42.00" y="121.00" width="212.80" height="1.00" fill="url(#g115)"/>
<rect x="42.00" y="122.00" width="212.80" height="1.00" fill="url(#g116)"/>
<rect x="42.00" y="123.00" width="212.80" height="1.00" fill="url(#g117)"/>
<rect x="42.00" y="124.00" width="212.80" height="1.00" fill="url(#g118)"/>
<rect x="42.00" y="125.00" width="212.80" height="1.00" fill="url(#g119)"/>
<rect x="42.00" y="126.00" width="212.80" height="1.00" fill="url(#g120)"/>
<rect x="42.00" y="127.00" width="212.80" height="1.00" fill="url(#g121)"/>
<rect x="42.00" y="128.00" width="212.80" height="1.00" fill="url(#g122)"/>
<rect x="42.00" y="129.00" width="212.80" height="1.00" fill="url(#g123)"/>
<rect x="42.00" y="130.00" width="212.80" height="1.00" fill="url(#g124)"/>
<rect x="42.00" y="131.00" width="212.80" height="1.00" fill="url(#g125)"/>
<rect x="42.00" y="132.00" width="212.80" height="1.00" fill="url(#g126)"/>
<rect x="42.00" y="133.00" width="212.80" height="1.00" fill="url(#g127)"/>
<rect x="42.00" y="134.00" width="212.80" height="1.00" fill="url(#g128)"/>
<rect x="42.00" y="135.00" width="212.80" height="1.00" fill="url(#g129)"/>
<rect x="42.00" y="136.00" width="212.80" height="1.00" fill="url(#g130)"/>
<rect x="42.00" y="137.00" width="212.80" height="1.00" fill="url(#g131)"/>
<rect x="42.00" y="138.00" width="212.80" height="1.00" fill="url(#g132)"/>
<rect x="42.00" y="139.00" width="212.80" height="1.00" fill="url(#g133)"/>
<rect x="42.00" y="140.00" width="212.80" height="1.00" fill="url(#g134)"/>
<rect x="42.00" y="141.00" width="212.80" height="1.00" fill="url(#g135)"/>
<rect x="42.00" y="142.00" width="212.80" height="1.00" fill="url(#g136)"/>
<rect x="42.00" y="143.00" width="212.80" height="1.00" fill="url(#g137)"/>
<rect x="42.00" y="144.00" width="212.80" height="1.00" fill="url(#g138)"/>
<rect x="42.00" y="145.00" width="212.80" height="1.00" fill="url(#g139)"/>
<rect x="42.00" y="146.00" width="212.80" height="1.00" fill="url(#g140)"/>
<rect x="42.00" y="147.00" width="212.80" height="1.00" fill="url(#g141)"/>
<rect x="42.00" y="148.00" width="212.80" height="1.00" fill="url(#g142)"/>
<rect x="42.00" y="149.00" width="212.80" height="1.00" fill="url(#g143)"/>
<rect x="42.00" y="150.00" width="212.80" height="1.00" fill="url(#g144)"/>
<rect x="42.00" y="151.00" width="212.80" height="1.00" fill="url(#g145)"/>
<rect x="42.00" y="152.00" width="212.80" height="1.00" fill="url(#g146)"/>
<rect x="42.00" y="153.00" width="212.80" height="1.00" fill="url(#g147)"/>
<rect x="42.00" y="154.00" width="212.80" height="1.00" fill="url(#g148)"/>
<rect x="42.00" y="155.00" width="212.80" height="1.00" fill="url(#g149)"/>
<rect x="42.00" y="156.00" width="212.80" height="1.00" fill="url(#g150)"/>
<rect x="42.00" y="157.00" width="212.80" height="1.00" fill="url(#g151)"/>
<rect x="42.00" y="158.00" width="212.80" height="1.00" fill="url(#g152)"/>
<rect x="42.00" y="159.00" width="212.80" height="1.00" fill="url(#g153)"/>
<rect x="42.00" y="160.00" width="212.80" height="1.00" fill="url(#g154)"/>
<rect x="42.00" y="161.00" width="212.80" height="1.00" fill="url(#g155)"/>
<rect x="42.00" y="162.00" width="212.80" height="1.00" fill="url(#g156)"/>
<rect x="42.00" y="163.00" width="212.80" height="1.00" fill="url(#g157)"/>
<rect x="42.00" y="164.00" width="212.80" height="1.00" fill="url(#g158)"/>
<rect x="42.00" y="165.00" width="212.80" height="1.00" fill="url(#g159)"/>
<rect x="42.00" y="166.00" width="212.80" height="1.00" fill="url(#g160)"/>
<rect x="42.00" y="167.00" width="212.80" height="1.00" fill="url(#g161)"/>
<rect x="42.00" y="168.00" width="212.80" height="1.00" fill="url(#g162)"/>
<rect x="42.00" y="169.00" width="212.80" height="1.00" fill="url(#g163)"/>
<rect x="42.00" y="170.00" width="212.80" height="1.00" fill="url(#g164)"/>
<rect x="42.00" y="171.00" width="212.80" height="1.00" fill="url(#g165)"/>
<rect x="42.00" y="172.00" width="212.80" height="1.00" fill="url(#g166)"/>
<rect x="42.00" y="173.00" width="212.80" height="1.00" fill="url(#g167)"/>
<rect x="42.00" y="174.00" width="212.80" height="1.00" fill="url(#g168)"/>
<rect x="42.00" y="175.00" width="212.80" height="1.00" fill="url(#g169)"/>
<rect x="42.00" y="176.00" width="212.80" height="1.00" fill="url(#g170)"/>
<rect x="42.00" y="177.00" width="212.80" height="1.00" fill="url(#g171)"/>
<rect x="42.00" y="178.00" width="212.80" height="1.00" fill="url(#g172)"/>
<rect x="42.00" y="179.00" width="212.80" height="1.00" fill="url(#g173)"/>
<rect x="42.00" y="180.00" width="212.80" height="1.00" fill="url(#g174)"/>
<rect x="42.00" y="181.00" width="212.80" height="1.00" fill="url(#g175)"/>
<rect x="42.00" y="182.00" width="212.80" height="1.00" fill="url(#g176)"/>
<rect x="42.00" y="183.00" width="212.80" height="1.00" fill="url(#g177)"/>
<rect x="42.00" y="184.00" width="212.80" height="1.00" fill="url(#g178)"/>
<rect x="42.00" y="185.00" width="212.80" height="1.00" fill="url(#g179)"/>
<rect x="42.00" y="186.00" width="212.80" height="1.00" fill="url(#g180)"/>
<rect x="42.00" y="187.00" width="212.80" height="1.00" fill="url(#g181)"/>
<rect x="42.00" y="188.00" width="212.80" height="1.00" fill="url(#g182)"/>
<rect x="42.00" y="189.00" width="212.80" height="1.00" fill="url(#g183)"/>
<rect x="42.00" y="190.00" width="212.80" height="1.00" fill="url(#g184)"/>
<rect x="42.00" y="191.00" width="212.80" height="1.00" fill="url(#g185)"/>
<rect x="42.00" y="192.00" width="212.80" height="1.00" fill="url(#g186)"/>
<rect x="42.00" y="193.00" width="212.80" height="1.00" fill="url(#g187)"/>
<rect x="42.00" y="194.00" width="212.80" height="1.00" fill="url(#g188)"/>
<rect x="42.00" y="195.00" width="212.80" height="1.00" fill="url(#g189)"/>
<rect x="42.00" y="196.00" width="212.80" height="1.00" fill="url(#g190)"/>
<rect x="42.00" y="197.00" width="212.80" height="1.00" fill="url(#g191)"/>
<rect x="42.00" y="198.00" width="212.80" height="1.00" fill="url(#g192)"/>
<rect x="42.00" y="199.00" width="212.80" height="1.00" fill="url(#g193)"/>
<rect x="42.00" y="200.00" width="212.80" height="1.00" fill="url(#g194)"/>
<rect x="42.00" y="201.00" width="212.80" height="1.00" fill="url(#g195)"/>
<rect x="42.00" y="202.00" width="212.80" height="1.00" fill="url(#g196)"/>
<rect x="42.00" y="203.00" width="212.80" height="1.00" fill="url(#g197)"/>
<rect x="42.00" y="204.00" width="212.80" height="1.00" fill="url(#g198)"/>
<rect x="42.00" y="205.00" width="212.80" height="1.00" fill="url(#g199)"/>
<rect x="42.00" y="206.00" width="212.80" height="1.00" fill="url(#g200)"/>
<rect x="42.00" y="207.00" width="212.80" height="1.00" fill="url(#g201)"/>
<rect x="42.00" y="208.00" width="212.80" height="1.00" fill="url(#g202)"/>
<rect x="42.00" y="209.00" width="212.80" height="1.00" fill="url(#g203)"/>
<rect x="42.00" y="210.00" width="212.80" height="1.00" fill="url(#g204)"/>
<rect x="42.00" y="211.00" width="212.80" height="1.00" fill="url(#g205)"/>
<rect x="42.00" y="212.00" width="212.80" height="1.00" fill="url(#g206)"/>
<rect x="42.00" y="213.00" width="212.80" height="1.00" fill="url(#g207)"/>
<rect x="42.00" y="214.00" width="212.80" height="1.00" fill="url(#g208)"/>
<rect x="42.00" y="215.00" width="212.80" height="1.00" fill="url(#g209)"/>
<rect x="42.00" y="216.00" width="212.80" height="1.00" fill="url(#g210)"/>
<rect x="42.00" y="217.00" width="212.80" height="1.00" fill="url(#g211)"/>
<rect x="42.00" y="218.00" width="212.80" height="1.00" fill="url(#g212)"/>
<rect x="42.00" y="219.00" width="212.80" height="0.50" fill="url(#g213)"/>
</g>
<line x1="157.1" y1="9.5" x2="157.1" y2="113.6" stroke="#4a1818" stroke-opacity="0.85" stroke-width="1.1" stroke-dasharray="1.2,2.25"/>
<line x1="130.1" y1="115.1" x2="130.1" y2="219.5" stroke="#2a2a3a" stroke-opacity="1" stroke-width="1.1" stroke-dasharray="1.2,2.3"/>
<rect x="42.30" y="8.20" width="212.20" height="211.10" fill="none" stroke="#1a1a50" stroke-opacity="0.7" stroke-width="0.8"/>
<line x1="42.00" y1="113.60" x2="254.80" y2="113.60" stroke="#1a1a40" stroke-width="1"/>
<path d="M46.50 219.50v1.60M46.50 113.60v1.60M69.60 219.50v2.60M69.60 113.60v2.60M92.70 219.50v1.60M92.70 113.60v1.60M115.80 219.50v2.60M115.80 113.60v2.60M138.90 219.50v1.60M138.90 113.60v1.60M162.00 219.50v2.60M162.00 113.60v2.60M185.10 219.50v1.60M185.10 113.60v1.60M208.20 219.50v2.60M208.20 113.60v2.60M231.30 219.50v1.60M231.30 113.60v1.60M254.40 219.50v2.60M254.40 113.60v2.60M42.00 113.60h-2.4M42.00 87.20h-2.4M42.00 60.80h-2.4M42.00 34.40h-2.4M42.00 8.00h-2.4M42.00 100.40h-1.4M42.00 74.00h-1.4M42.00 47.60h-1.4M42.00 21.20h-1.4M42.00 219.50h-2.4M42.00 166.55h-2.4M42.00 113.60h-2.4M42.00 193.03h-1.4M42.00 140.07h-1.4" stroke="#222" stroke-width="0.9" fill="none"/>
<text x="37.20" y="11.40" font-family="Liberation Sans, sans-serif" font-weight="bold" font-size="9.50" text-anchor="end" fill="#111"  stroke="#111" stroke-width="0.3">1000</text>
<text x="37.20" y="37.80" font-family="Liberation Sans, sans-serif" font-weight="bold" font-size="9.50" text-anchor="end" fill="#111"  stroke="#111" stroke-width="0.3">750</text>
<text x="37.20" y="64.20" font-family="Liberation Sans, sans-serif" font-weight="bold" font-size="9.50" text-anchor="end" fill="#111"  stroke="#111" stroke-width="0.3">500</text>
<text x="37.20" y="90.60" font-family="Liberation Sans, sans-serif" font-weight="bold" font-size="9.50" text-anchor="end" fill="#111"  stroke="#111" stroke-width="0.3">250</text>
<text x="37.20" y="117.00" font-family="Liberation Sans, sans-serif" font-weight="bold" font-size="9.50" text-anchor="end" fill="#111"  stroke="#111" stroke-width="0.3">20</text>
<text x="37.20" y="117.00" font-family="Liberation Sans, sans-serif" font-weight="bold" font-size="9.50" text-anchor="end" fill="#111"  stroke="#111" stroke-width="0.3">20</text>
<text x="37.20" y="169.95" font-family="Liberation Sans, sans-serif" font-weight="bold" font-size="9.50" text-anchor="end" fill="#111"  stroke="#111" stroke-width="0.3">10</text>
<text x="37.20" y="222.90" font-family="Liberation Sans, sans-serif" font-weight="bold" font-size="9.50" text-anchor="end" fill="#111"  stroke="#111" stroke-width="0.3">0</text>
<text x="69.90" y="232.20" font-family="Liberation Sans, sans-serif" font-weight="bold" font-size="9.50" text-anchor="middle" fill="#111"  stroke="#111" stroke-width="0.3">1.80</text>
<text x="116.10" y="232.20" font-family="Liberation Sans, sans-serif" font-weight="bold" font-size="9.50" text-anchor="middle" fill="#111"  stroke="#111" stroke-width="0.3">1.85</text>
<text x="162.30" y="232.20" font-family="Liberation Sans, sans-serif" font-weight="bold" font-size="9.50" text-anchor="middle" fill="#111"  stroke="#111" stroke-width="0.3">1.90</text>
<text x="208.50" y="232.20" font-family="Liberation Sans, sans-serif" font-weight="bold" font-size="9.50" text-anchor="middle" fill="#111"  stroke="#111" stroke-width="0.3">1.95</text>
<text x="254.70" y="232.20" font-family="Liberation Sans, sans-serif" font-weight="bold" font-size="9.50" text-anchor="middle" fill="#111"  stroke="#111" stroke-width="0.3">2.00</text>
<text x="148.20" y="250.70" font-family="Liberation Sans, sans-serif" font-weight="bold" font-size="12.30" text-anchor="middle" fill="#111"  stroke="#111" stroke-width="0.3">Energy (eV)</text>
<text transform="translate(18.1,108.4) rotate(-90)" x="0" y="0" font-family="Liberation Sans, sans-serif" font-weight="bold" font-size="12.6" text-anchor="middle" fill="#111">Time (ps)</text>
<text x="3.10" y="22.30" font-family="Liberation Sans, sans-serif" font-weight="bold" font-size="21.50" text-anchor="start" fill="#111"  stroke="#111" stroke-width="0.3">a</text>
<text x="287.00" y="23.00" font-family="Liberation Sans, sans-serif" font-weight="bold" font-size="22.50" text-anchor="start" fill="#111"  stroke="#111" stroke-width="0.3">b</text>
<text x="48.3" y="27.6" font-family="Liberation Sans, sans-serif" font-weight="bold" font-size="13.8" fill="#fff">CsPbI<tspan font-size="10" dy="3">3</tspan><tspan dy="-3"> QD</tspan></text>
<text x="44.6" y="132.6" font-family="Liberation Sans, sans-serif" font-weight="bold" font-size="14" fill="#fff">CsPbI<tspan font-size="10" dy="3">3</tspan><tspan dy="-3">-[SAM]C60 QD</tspan></text>
<rect x="216.90" y="62.20" width="12.80" height="118.00" fill="url(#cb)" stroke="#333" stroke-width="0.6"/>
<text x="236.00" y="65.40" font-family="Liberation Sans, sans-serif" font-weight="bold" font-size="9.80" text-anchor="start" fill="#111"  stroke="#111" stroke-width="0.3">0.2</text>
<text x="236.00" y="94.90" font-family="Liberation Sans, sans-serif" font-weight="bold" font-size="9.80" text-anchor="start" fill="#111"  stroke="#111" stroke-width="0.3">-0.1</text>
<text x="236.00" y="124.40" font-family="Liberation Sans, sans-serif" font-weight="bold" font-size="9.80" text-anchor="start" fill="#111"  stroke="#111" stroke-width="0.3">-0.4</text>
<text x="236.00" y="153.90" font-family="Liberation Sans, sans-serif" font-weight="bold" font-size="9.80" text-anchor="start" fill="#111"  stroke="#111" stroke-width="0.3">-0.7</text>
<text x="236.00" y="183.40" font-family="Liberation Sans, sans-serif" font-weight="bold" font-size="9.80" text-anchor="start" fill="#111"  stroke="#111" stroke-width="0.3">-1.0</text>
<path d="M229.70 62.20h1.5M229.70 91.70h1.5M229.70 121.20h1.5M229.70 150.70h1.5M229.70 180.20h1.5" stroke="#222" stroke-width="0.8"/>
<rect x="326.50" y="8.00" width="211.90" height="211.70" fill="none" stroke="#111" stroke-width="1.2"/>
<path d="M326.34 219.70v1.80M331.25 219.70v1.80M335.40 219.70v1.80M338.99 219.70v1.80M342.16 219.70v1.80M345.00 219.70v3.20M363.66 219.70v1.80M374.58 219.70v1.80M382.33 219.70v1.80M388.34 219.70v1.80M393.25 219.70v1.80M397.40 219.70v1.80M400.99 219.70v1.80M404.16 219.70v1.80M407.00 219.70v3.20M425.66 219.70v1.80M436.58 219.70v1.80M444.33 219.70v1.80M450.34 219.70v1.80M455.25 219.70v1.80M459.40 219.70v1.80M462.99 219.70v1.80M466.16 219.70v1.80M469.00 219.70v3.20M487.66 219.70v1.80M498.58 219.70v1.80M506.33 219.70v1.80M512.34 219.70v1.80M517.25 219.70v1.80M521.40 219.70v1.80M524.99 219.70v1.80M528.16 219.70v1.80M531.00 219.70v3.20M326.50 219.70h-3.2M326.50 135.02h-3.2M326.50 50.34h-3.2M326.50 177.36h-1.8M326.50 92.68h-1.8" stroke="#111" stroke-width="1" fill="none"/>
<text x="345.60" y="238.00" font-family="Liberation Sans, sans-serif" font-weight="bold" font-size="13.80" text-anchor="middle" fill="#111"  stroke="#111" stroke-width="0.3">1</text>
<text x="407.60" y="238.00" font-family="Liberation Sans, sans-serif" font-weight="bold" font-size="13.80" text-anchor="middle" fill="#111"  stroke="#111" stroke-width="0.3">10</text>
<text x="469.60" y="238.00" font-family="Liberation Sans, sans-serif" font-weight="bold" font-size="13.80" text-anchor="middle" fill="#111"  stroke="#111" stroke-width="0.3">100</text>
<text x="531.60" y="238.00" font-family="Liberation Sans, sans-serif" font-weight="bold" font-size="13.80" text-anchor="middle" fill="#111"  stroke="#111" stroke-width="0.3">1000</text>
<text x="320.60" y="224.40" font-family="Liberation Sans, sans-serif" font-weight="bold" font-size="13.40" text-anchor="end" fill="#111"  stroke="#111" stroke-width="0.3">0.0</text>
<text x="320.60" y="139.72" font-family="Liberation Sans, sans-serif" font-weight="bold" font-size="13.40" text-anchor="end" fill="#111"  stroke="#111" stroke-width="0.3">0.5</text>
<text x="320.60" y="55.04" font-family="Liberation Sans, sans-serif" font-weight="bold" font-size="13.40" text-anchor="end" fill="#111"  stroke="#111" stroke-width="0.3">1.0</text>
<text x="431.80" y="253.70" font-family="Liberation Sans, sans-serif" font-weight="bold" font-size="13.90" text-anchor="middle" fill="#111"  stroke="#111" stroke-width="0.3">Time (ps)</text>
<text transform="translate(298.6,110.2) rotate(-90)" x="0" y="0" font-family="Liberation Sans, sans-serif" font-weight="bold" font-size="14.2" text-anchor="middle" fill="#111"><tspan font-weight="normal">&#916;</tspan>A (Norm.)</text>
<polyline points="326.6,27.0 326.8,81.0 328.0,52.0 328.8,44.7 329.9,63.9 331.9,44.0 333.0,71.6 334.2,50.0 335.3,70.0 336.2,48.0 337.1,80.0 338.4,40.0 339.5,60.0 340.7,71.6 341.4,19.6 343.0,84.7 344.8,20.0 345.8,60.0 346.8,77.8 347.6,45.0 348.9,37.8 349.2,86.3 350.5,55.0 351.3,95.0 352.3,70.0 353.0,23.9 354.2,60.0 355.3,13.4 355.8,76.0 356.6,50.0 357.7,23.9 358.3,116.0 359.2,70.0 360.6,38.0 361.2,90.0 362.0,60.0 363.0,109.3 364.2,75.0 365.3,98.0 366.8,93.0 367.8,84.5 368.4,81.5 369.0,79.9 369.6,88.7 370.2,81.5 370.8,97.3 371.4,92.6 372.0,91.7 372.6,73.0 373.2,65.8 373.8,67.7 374.4,64.9 375.0,94.7 375.6,90.5 376.2,101.3 376.8,93.6 377.4,89.7 378.0,68.1 378.6,95.4 379.2,107.0 379.8,88.1 380.4,109.0 381.0,109.7 381.5,139.1 382.1,92.2 382.6,120.1 383.2,122.9 383.7,123.8 384.3,104.9 384.8,109.3 385.4,99.7 385.9,91.3 386.5,100.2 387.0,131.0 387.6,115.7 388.1,142.7 388.7,120.3 389.2,134.7 389.8,134.5 390.3,132.5 390.9,131.2 391.4,133.2 392.0,149.0 392.5,134.9 393.1,133.1 393.6,170.8 394.2,141.4 394.7,136.5 395.3,134.2 395.8,145.9 396.4,146.1 396.9,142.6 397.5,151.0 398.0,133.3 398.6,159.5 399.1,167.6 399.7,145.8 400.2,167.3 400.8,139.8 401.3,171.5 401.9,153.6 402.4,145.8 403.0,149.4 403.5,143.7 404.1,132.9 404.6,135.5 405.2,133.5 405.7,159.9 406.3,151.6 406.8,134.2 407.4,160.8 407.9,161.2 408.5,180.5 409.0,155.2 409.6,164.3 410.1,177.7 410.7,188.7 411.2,174.1 411.8,174.6 412.3,152.9 412.9,144.1 413.4,170.2 414.0,157.3 414.5,136.4 415.1,177.7 415.6,157.3 416.2,141.4 416.7,152.6 417.3,173.9 417.8,185.8 418.4,170.8 418.9,142.6 419.5,131.3 420.0,177.1 420.6,193.7 421.1,176.3 421.7,185.7 422.2,185.4 422.8,159.0 423.3,137.6 423.9,190.2 424.4,182.7 425.0,163.0 425.5,197.3 426.1,202.6 426.6,152.6 427.2,193.9 427.7,183.5 428.3,181.3 428.8,179.8 429.4,204.8 429.9,175.8 430.5,194.2 431.0,177.9 431.6,177.9 432.1,170.0 432.7,191.9 433.2,184.7 433.8,188.8 434.3,179.0 434.9,163.4 435.4,148.3 436.0,190.6 436.5,173.5 437.1,183.1 437.6,168.4 438.2,187.0 438.7,187.1 439.3,185.7 439.8,210.7 440.4,167.8 440.9,171.4 441.4,187.8 441.9,180.9 442.4,192.6 442.9,189.1 443.4,191.3 443.9,203.7 444.4,196.6 444.9,185.5 445.4,200.2 445.9,202.9 446.4,192.2 446.9,203.3 447.4,177.8 447.9,165.3 448.4,207.4 448.9,175.3 449.4,210.6 449.9,168.3 450.4,173.7 450.9,152.4 451.4,156.2 451.9,173.3 452.4,170.2 452.9,177.3 453.4,209.5 453.9,187.1 454.4,188.0 454.9,175.9 455.4,202.5 455.9,167.7 456.4,148.2 456.9,170.3 457.4,175.4 457.9,180.7 458.4,195.7 458.9,174.4 459.4,186.0 459.9,192.2 460.4,144.9 460.9,177.0 461.4,200.8 461.9,185.6 462.4,197.0 462.9,176.2 463.4,177.5 463.9,185.0 464.4,185.1 464.9,189.0 465.4,189.7 465.9,188.5 466.4,182.4 466.9,176.7 467.4,193.5 467.9,178.0 468.4,193.4 468.9,191.2 469.4,186.5 469.9,192.3 470.4,185.5 470.9,183.2 471.4,193.5 471.9,188.6 472.4,168.8 472.9,194.1 473.4,187.1 473.9,193.2 474.4,205.7 474.9,170.3 475.4,157.6 475.9,173.7 476.4,185.8 476.9,211.3 477.4,174.3 477.9,195.8 478.4,180.7 478.9,198.3 479.4,186.7 479.9,169.5 480.4,194.9 480.9,183.1 481.4,186.6 481.9,183.2 482.4,155.1 482.9,199.9 483.4,195.2 483.9,184.1 484.4,216.7 484.9,193.8 485.4,210.4 485.9,188.8 486.4,171.8 486.9,182.9 487.4,198.0 487.9,205.0 488.4,179.8 488.9,182.6 489.4,179.8 489.9,203.7 490.4,207.6 490.9,192.8 491.4,170.1 491.9,181.3 492.4,177.9 492.9,200.3 493.4,180.7 493.9,207.0 494.4,187.8 494.9,171.7 495.4,219.0 495.9,201.8 496.4,187.9 496.9,201.4 497.4,215.0 497.9,166.5 498.4,198.5 498.9,171.0 499.4,188.7 499.9,163.0 500.4,207.6 500.9,169.8 501.4,154.3 501.9,173.7 502.4,189.3 502.9,185.5 503.4,217.5 503.9,181.2 504.4,192.8 504.9,188.1 505.4,181.7 505.9,184.4 506.4,167.8 506.9,194.2 507.4,176.3 507.9,195.9 508.4,201.9 508.9,159.5 509.4,176.8 509.9,150.1 510.4,177.3 510.9,219.0 511.4,175.5 511.9,198.2 512.4,189.0 512.9,188.0 513.4,202.2 513.9,198.4 514.4,162.8 514.9,194.5 515.4,192.7 515.9,185.5 516.4,169.6 516.9,190.3 517.4,172.1 517.9,206.3 518.4,190.9 518.9,182.6 519.4,158.5 519.9,183.1 520.4,164.6 520.9,170.0 521.4,196.5 521.9,210.3 522.4,219.0 522.9,169.8 523.4,146.8 523.9,218.1 524.4,172.3 524.9,208.0 525.4,207.3 525.9,207.8 526.4,155.7 526.9,193.5 527.4,189.5 527.9,197.7 528.4,219.0 528.9,208.6 529.4,219.0 529.9,193.9 530.4,182.2 530.9,179.9" fill="none" stroke="#6d7df4" stroke-width="1.3" stroke-linejoin="round"/>
<polyline points="326.5,51.9 327.8,51.5 329.1,51.3 330.4,51.2 331.6,51.3 332.9,51.5 334.2,51.8 335.5,52.2 336.8,52.7 338.1,53.5 339.4,54.4 340.6,55.3 341.9,56.2 343.2,57.1 344.5,58.2 345.8,59.2 347.1,60.4 348.4,61.6 349.7,63.0 350.9,64.3 352.2,65.6 353.5,66.9 354.8,68.2 356.1,69.6 357.4,71.2 358.7,73.0 359.9,74.8 361.2,76.8 362.5,79.0 363.8,81.3 365.1,83.7 366.4,85.9 367.7,88.3 368.9,90.6 370.2,92.9 371.5,95.2 372.8,97.6 374.1,99.9 375.4,102.2 376.7,104.5 377.9,106.9 379.2,109.4 380.5,112.0 381.8,114.7 383.1,117.5 384.4,120.3 385.7,123.2 386.9,126.2 388.2,129.2 389.5,132.2 390.8,135.4 392.1,138.5 393.4,141.6 394.7,144.5 396.0,147.4 397.2,150.1 398.5,152.8 399.8,155.2 401.1,157.3 402.4,159.2 403.7,161.0 405.0,162.8 406.2,164.6 407.5,166.5 408.8,168.4 410.1,170.2 411.4,171.9 412.7,173.6 414.0,175.2 415.2,176.8 416.5,178.3 417.8,179.7 419.1,180.8 420.4,181.6 421.7,182.4 423.0,183.2 424.2,183.9 425.5,184.5 426.8,185.0 428.1,185.4 429.4,185.8 430.7,186.2 432.0,186.5 433.3,186.8 434.5,187.1 435.8,187.3 437.1,187.5 438.4,187.6 439.7,187.7 441.0,187.7 442.3,187.8 443.5,187.8 444.8,187.9 446.1,187.9 447.4,187.9 448.7,188.0 450.0,188.0 451.3,188.0 452.5,188.0 453.8,188.0 455.1,188.1 456.4,188.1 457.7,188.1 459.0,188.1 460.3,188.1 461.5,188.2 462.8,188.2 464.1,188.2 465.4,188.2 466.7,188.3 468.0,188.3 469.3,188.3 470.6,188.4 471.8,188.4 473.1,188.5 474.4,188.5 475.7,188.6 477.0,188.6 478.3,188.7 479.6,188.8 480.8,188.9 482.1,189.0 483.4,189.1 484.7,189.2 486.0,189.4 487.3,189.5 488.6,189.7 489.8,189.8 491.1,190.0 492.4,190.1 493.7,190.3 495.0,190.5 496.3,190.6 497.6,190.8 498.8,190.9 500.1,191.1 501.4,191.3 502.7,191.4 504.0,191.6 505.3,191.8 506.6,192.0 507.8,192.2 509.1,192.4 510.4,192.7 511.7,192.9 513.0,193.2 514.3,193.4 515.6,193.7 516.9,194.1 518.1,194.4 519.4,194.8 520.7,195.2 522.0,195.5 523.3,195.9 524.6,196.3 525.9,196.6 527.1,197.0 528.4,197.4 529.7,197.8 531.0,198.2" fill="none" stroke="#0c12d8" stroke-width="1.7"/>
<polyline points="326.5,49.6 328.2,49.6 329.9,49.6 331.7,49.6 333.4,49.6 335.1,49.5 336.8,49.5 338.5,49.5 340.2,49.5 342.0,49.5 343.7,49.5 345.4,49.5 347.1,49.5 348.8,49.5 350.6,49.5 352.3,49.4 354.0,49.4 355.7,49.4 357.4,49.4 359.2,49.4 360.9,49.4 362.6,49.4 364.3,49.4 366.0,49.4 367.7,49.4 369.5,49.3 371.2,49.3 372.9,49.3 374.6,49.3 376.3,49.3 378.1,49.3 379.8,49.3 381.5,49.3 383.2,49.3 384.9,49.3 386.6,49.2 388.4,49.2 390.1,49.2 391.8,49.2 393.5,49.2 395.2,49.2 397.0,49.2 398.7,49.2 400.4,49.2 402.1,49.2 403.8,49.2 405.6,49.2 407.3,49.2 409.0,49.2 410.7,49.3 412.4,49.3 414.1,49.3 415.9,49.4 417.6,49.4 419.3,49.5 421.0,49.6 422.7,49.7 424.5,49.7 426.2,49.8 427.9,49.9 429.6,50.0 431.3,50.1 433.0,50.2 434.8,50.3 436.5,50.4 438.2,50.6 439.9,50.7 441.6,50.9 443.4,51.1 445.1,51.3 446.8,51.5 448.5,51.7 450.2,52.0 451.9,52.2 453.7,52.5 455.4,52.7 457.1,53.1 458.8,53.4 460.5,53.8 462.3,54.1 464.0,54.6 465.7,55.0 467.4,55.4 469.1,55.9 470.9,56.4 472.6,56.9 474.3,57.4 476.0,57.9 477.7,58.4 479.4,59.0 481.2,59.7 482.9,60.3 484.6,61.0 486.3,61.7 488.0,62.4 489.8,63.0 491.5,63.7 493.2,64.4 494.9,65.1 496.6,65.8 498.3,66.5 500.1,67.2 501.8,67.9 503.5,68.6 505.2,69.3 506.9,69.9 508.7,70.6 510.4,71.3 512.1,72.1 513.8,72.8 515.5,73.5 517.3,74.3 519.0,75.1 520.7,75.8 522.4,76.6 524.1,77.4 525.8,78.2 527.6,79.0 529.3,79.8 531.0,80.6" fill="none" stroke="#dc2340" stroke-width="1.35"/>
<polyline points="326.5,42.8 406.5,31.4 425.5,43.9 430.0,50.0 437.0,60.5 443.9,43.1 449.7,66.3 454.3,60.5 459.0,44.3 462.4,65.1 464.7,62.3 468.2,63.3 471.2,61.6 474.0,63.3 475.6,65.1 477.5,53.5 479.8,64.6 482.8,37.3 484.4,55.8 486.7,58.2 488.0,70.0 488.6,68.6 489.2,64.1 489.8,63.6 490.4,72.4 491.0,59.5 491.6,57.5 492.2,62.3 492.8,75.1 493.4,51.8 494.0,75.7 494.6,59.1 495.2,54.9 495.8,77.4 496.4,64.8 497.0,53.5 497.6,62.8 498.2,75.5 498.8,78.4 499.4,62.7 500.0,71.2 500.6,74.6 501.2,61.2 501.8,71.5 502.4,67.8 503.0,62.9 503.6,63.5 504.2,69.6 504.8,69.4 505.4,63.3 506.0,65.0 506.6,81.8 507.2,72.4 507.8,79.9 508.4,83.7 509.0,77.3 509.6,96.2 510.2,62.1 510.8,80.6 511.4,68.2 512.0,93.1 512.6,91.7 513.2,50.0 513.8,61.6 514.4,80.8 515.0,82.6 515.6,82.3 516.2,73.0 516.8,79.5 517.4,82.2 518.0,73.7 518.6,87.4 519.2,47.5 519.8,83.2 520.4,62.9 521.0,87.9 521.6,73.4 522.2,65.3 522.8,81.5 523.4,65.4 524.0,65.6 524.6,57.4 525.2,77.5 525.8,84.6 526.4,91.9 527.0,76.9 527.6,92.9 528.2,79.5 528.8,78.3 529.4,87.6 531.0,54.0 531.3,111.0" fill="none" stroke="#dc2340" stroke-width="1.3" stroke-linejoin="round"/>
<line x1="393.1" y1="109.5" x2="421" y2="109.5" stroke="#5060f5" stroke-width="1.5"/>
<line x1="393.1" y1="127.3" x2="421" y2="127.3" stroke="#e0203c" stroke-width="1.5"/>
<text x="424.6" y="113.6" font-family="Liberation Sans, sans-serif" font-weight="bold" font-size="12.1" fill="#111">CsPbI<tspan font-size="8.6" dy="2.6">3</tspan><tspan dy="-2.6">-[SAM]C60</tspan></text>
<text x="424.6" y="131.3" font-family="Liberation Sans, sans-serif" font-weight="bold" font-size="12.1" fill="#111">CsPbI<tspan font-size="8.6" dy="2.6">3</tspan></text>
</svg>
</body></html>
